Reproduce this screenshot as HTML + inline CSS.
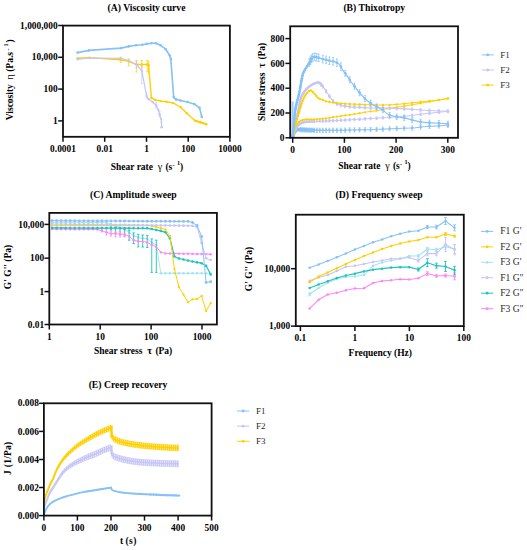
<!DOCTYPE html>
<html><head><meta charset="utf-8"><style>
html,body{margin:0;padding:0;background:#fff;width:527px;height:550px;overflow:hidden}
svg{display:block;font-family:"Liberation Serif",serif}
</style></head><body>
<svg width="527" height="550" viewBox="0 0 527 550">
<rect width="527" height="550" fill="#fff"/>
<text x="146.5" y="10.6" font-size="9.7" text-anchor="middle" font-weight="bold" fill="#000" >(A) Viscosity curve</text>
<line x1="120.7" y1="57.2" x2="120.7" y2="62.3" stroke="#ffcf00" stroke-width="0.75" stroke-linecap="butt"/>
<line x1="119.6" y1="57.2" x2="121.8" y2="57.2" stroke="#ffcf00" stroke-width="0.75" stroke-linecap="butt"/>
<line x1="119.6" y1="62.3" x2="121.8" y2="62.3" stroke="#ffcf00" stroke-width="0.75" stroke-linecap="butt"/>
<line x1="128.7" y1="58.9" x2="128.7" y2="65.8" stroke="#ffcf00" stroke-width="0.75" stroke-linecap="butt"/>
<line x1="127.6" y1="58.9" x2="129.8" y2="58.9" stroke="#ffcf00" stroke-width="0.75" stroke-linecap="butt"/>
<line x1="127.6" y1="65.8" x2="129.8" y2="65.8" stroke="#ffcf00" stroke-width="0.75" stroke-linecap="butt"/>
<line x1="136.4" y1="60.5" x2="136.4" y2="72" stroke="#ffcf00" stroke-width="0.75" stroke-linecap="butt"/>
<line x1="135.3" y1="60.5" x2="137.5" y2="60.5" stroke="#ffcf00" stroke-width="0.75" stroke-linecap="butt"/>
<line x1="135.3" y1="72" x2="137.5" y2="72" stroke="#ffcf00" stroke-width="0.75" stroke-linecap="butt"/>
<line x1="141.8" y1="60.5" x2="141.8" y2="68" stroke="#ffcf00" stroke-width="0.75" stroke-linecap="butt"/>
<line x1="140.7" y1="60.5" x2="142.9" y2="60.5" stroke="#ffcf00" stroke-width="0.75" stroke-linecap="butt"/>
<line x1="140.7" y1="68" x2="142.9" y2="68" stroke="#ffcf00" stroke-width="0.75" stroke-linecap="butt"/>
<line x1="147.3" y1="60.5" x2="147.3" y2="71.4" stroke="#ffcf00" stroke-width="0.75" stroke-linecap="butt"/>
<line x1="146.2" y1="60.5" x2="148.4" y2="60.5" stroke="#ffcf00" stroke-width="0.75" stroke-linecap="butt"/>
<line x1="146.2" y1="71.4" x2="148.4" y2="71.4" stroke="#ffcf00" stroke-width="0.75" stroke-linecap="butt"/>
<line x1="148.6" y1="61.8" x2="148.6" y2="73.4" stroke="#ffcf00" stroke-width="0.75" stroke-linecap="butt"/>
<line x1="147.5" y1="61.8" x2="149.7" y2="61.8" stroke="#ffcf00" stroke-width="0.75" stroke-linecap="butt"/>
<line x1="147.5" y1="73.4" x2="149.7" y2="73.4" stroke="#ffcf00" stroke-width="0.75" stroke-linecap="butt"/>
<polyline points="77.6,58.3 89.4,57.6 120.7,59.8 128.7,61.4 136.4,64.5 141.8,64.5 147.3,64.5 148.6,65.2 151.4,98 155.5,100 160.9,101.1 166.4,101.7 173,102.9 180.5,107 186.6,113.1 195,120.7 200.3,122.2 206.3,124.2" fill="none" stroke="#ffcf00" stroke-width="1.4" stroke-linejoin="round" />
<circle cx="77.6" cy="58.3" r="1.2" fill="#ffcf00"/>
<circle cx="89.4" cy="57.6" r="1.2" fill="#ffcf00"/>
<circle cx="120.7" cy="59.8" r="1.2" fill="#ffcf00"/>
<circle cx="128.7" cy="61.4" r="1.2" fill="#ffcf00"/>
<circle cx="136.4" cy="64.5" r="1.2" fill="#ffcf00"/>
<circle cx="141.8" cy="64.5" r="1.2" fill="#ffcf00"/>
<circle cx="147.3" cy="64.5" r="1.2" fill="#ffcf00"/>
<circle cx="148.6" cy="65.2" r="1.2" fill="#ffcf00"/>
<circle cx="151.4" cy="98" r="1.2" fill="#ffcf00"/>
<circle cx="155.5" cy="100" r="1.2" fill="#ffcf00"/>
<circle cx="160.9" cy="101.1" r="1.2" fill="#ffcf00"/>
<circle cx="166.4" cy="101.7" r="1.2" fill="#ffcf00"/>
<circle cx="173" cy="102.9" r="1.2" fill="#ffcf00"/>
<circle cx="180.5" cy="107" r="1.2" fill="#ffcf00"/>
<circle cx="186.6" cy="113.1" r="1.2" fill="#ffcf00"/>
<circle cx="195" cy="120.7" r="1.2" fill="#ffcf00"/>
<circle cx="200.3" cy="122.2" r="1.2" fill="#ffcf00"/>
<circle cx="206.3" cy="124.2" r="1.2" fill="#ffcf00"/>
<polyline points="195,120.7 200.3,122.2 206.3,124.2" fill="none" stroke="#ffcf00" stroke-width="2.2" stroke-linejoin="round" />
<polyline points="77.6,59.3 89.4,58 120.7,58.3 128.7,60.6 136.4,64.5 141.8,70.7 146.6,95.9 148.6,99.3 152.7,102 156.1,105.5 158.2,109.6 159.6,114.3 161.2,119.1 161.6,127.3" fill="none" stroke="#c6c5f7" stroke-width="1.2" stroke-linejoin="round" />
<circle cx="77.6" cy="59.3" r="1.2" fill="#c6c5f7"/>
<circle cx="89.4" cy="58" r="1.2" fill="#c6c5f7"/>
<circle cx="120.7" cy="58.3" r="1.2" fill="#c6c5f7"/>
<circle cx="128.7" cy="60.6" r="1.2" fill="#c6c5f7"/>
<circle cx="136.4" cy="64.5" r="1.2" fill="#c6c5f7"/>
<circle cx="141.8" cy="70.7" r="1.2" fill="#c6c5f7"/>
<circle cx="146.6" cy="95.9" r="1.2" fill="#c6c5f7"/>
<circle cx="148.6" cy="99.3" r="1.2" fill="#c6c5f7"/>
<circle cx="152.7" cy="102" r="1.2" fill="#c6c5f7"/>
<circle cx="156.1" cy="105.5" r="1.2" fill="#c6c5f7"/>
<circle cx="158.2" cy="109.6" r="1.2" fill="#c6c5f7"/>
<circle cx="159.6" cy="114.3" r="1.2" fill="#c6c5f7"/>
<circle cx="161.2" cy="119.1" r="1.2" fill="#c6c5f7"/>
<circle cx="161.6" cy="127.3" r="1.2" fill="#c6c5f7"/>
<line x1="136.4" y1="61" x2="136.4" y2="68" stroke="#c6c5f7" stroke-width="0.75" stroke-linecap="butt"/>
<line x1="135.4" y1="61" x2="137.4" y2="61" stroke="#c6c5f7" stroke-width="0.75" stroke-linecap="butt"/>
<line x1="135.4" y1="68" x2="137.4" y2="68" stroke="#c6c5f7" stroke-width="0.75" stroke-linecap="butt"/>
<line x1="141.8" y1="66" x2="141.8" y2="83.6" stroke="#c6c5f7" stroke-width="0.75" stroke-linecap="butt"/>
<line x1="140.8" y1="66" x2="142.8" y2="66" stroke="#c6c5f7" stroke-width="0.75" stroke-linecap="butt"/>
<line x1="140.8" y1="83.6" x2="142.8" y2="83.6" stroke="#c6c5f7" stroke-width="0.75" stroke-linecap="butt"/>
<line x1="146.6" y1="93" x2="146.6" y2="98" stroke="#c6c5f7" stroke-width="0.75" stroke-linecap="butt"/>
<line x1="145.6" y1="93" x2="147.6" y2="93" stroke="#c6c5f7" stroke-width="0.75" stroke-linecap="butt"/>
<line x1="145.6" y1="98" x2="147.6" y2="98" stroke="#c6c5f7" stroke-width="0.75" stroke-linecap="butt"/>
<line x1="156.1" y1="103" x2="156.1" y2="108" stroke="#c6c5f7" stroke-width="0.75" stroke-linecap="butt"/>
<line x1="155.1" y1="103" x2="157.1" y2="103" stroke="#c6c5f7" stroke-width="0.75" stroke-linecap="butt"/>
<line x1="155.1" y1="108" x2="157.1" y2="108" stroke="#c6c5f7" stroke-width="0.75" stroke-linecap="butt"/>
<line x1="159.6" y1="111" x2="159.6" y2="117" stroke="#c6c5f7" stroke-width="0.75" stroke-linecap="butt"/>
<line x1="158.6" y1="111" x2="160.6" y2="111" stroke="#c6c5f7" stroke-width="0.75" stroke-linecap="butt"/>
<line x1="158.6" y1="117" x2="160.6" y2="117" stroke="#c6c5f7" stroke-width="0.75" stroke-linecap="butt"/>
<line x1="161.6" y1="122" x2="161.6" y2="127.3" stroke="#c6c5f7" stroke-width="0.75" stroke-linecap="butt"/>
<line x1="160.6" y1="122" x2="162.6" y2="122" stroke="#c6c5f7" stroke-width="0.75" stroke-linecap="butt"/>
<line x1="160.6" y1="127.3" x2="162.6" y2="127.3" stroke="#c6c5f7" stroke-width="0.75" stroke-linecap="butt"/>
<polyline points="77.6,52.6 89,50.4 121.1,48.1 128.7,46.4 136.1,45.3 142.3,44.7 146.9,43.9 151.4,43.2 156,43.2 160.6,45.3 165.7,49.2 169.7,55.5 170.8,58.9 173.7,97.1 176,99.4 180.5,100.5 187.4,102 194.2,104 199.5,107.8 201.8,116.9" fill="none" stroke="#85c2f7" stroke-width="1.6" stroke-linejoin="round" />
<circle cx="77.6" cy="52.6" r="1.3" fill="#85c2f7"/>
<circle cx="89" cy="50.4" r="1.3" fill="#85c2f7"/>
<circle cx="121.1" cy="48.1" r="1.3" fill="#85c2f7"/>
<circle cx="128.7" cy="46.4" r="1.3" fill="#85c2f7"/>
<circle cx="136.1" cy="45.3" r="1.3" fill="#85c2f7"/>
<circle cx="142.3" cy="44.7" r="1.3" fill="#85c2f7"/>
<circle cx="146.9" cy="43.9" r="1.3" fill="#85c2f7"/>
<circle cx="151.4" cy="43.2" r="1.3" fill="#85c2f7"/>
<circle cx="156" cy="43.2" r="1.3" fill="#85c2f7"/>
<circle cx="160.6" cy="45.3" r="1.3" fill="#85c2f7"/>
<circle cx="165.7" cy="49.2" r="1.3" fill="#85c2f7"/>
<circle cx="169.7" cy="55.5" r="1.3" fill="#85c2f7"/>
<circle cx="170.8" cy="58.9" r="1.3" fill="#85c2f7"/>
<circle cx="173.7" cy="97.1" r="1.3" fill="#85c2f7"/>
<circle cx="176" cy="99.4" r="1.3" fill="#85c2f7"/>
<circle cx="180.5" cy="100.5" r="1.3" fill="#85c2f7"/>
<circle cx="187.4" cy="102" r="1.3" fill="#85c2f7"/>
<circle cx="194.2" cy="104" r="1.3" fill="#85c2f7"/>
<circle cx="199.5" cy="107.8" r="1.3" fill="#85c2f7"/>
<circle cx="201.8" cy="116.9" r="1.3" fill="#85c2f7"/>
<rect x="63" y="25.6" width="166.9" height="111.2" fill="none" stroke="#111" stroke-width="1.8"/>
<line x1="58.2" y1="25.5" x2="63" y2="25.5" stroke="#111" stroke-width="1.5" stroke-linecap="butt"/>
<text x="57.6" y="28.6" font-size="9.4" text-anchor="end" font-weight="bold" fill="#000" >1,000,000</text>
<line x1="58.2" y1="57.3" x2="63" y2="57.3" stroke="#111" stroke-width="1.5" stroke-linecap="butt"/>
<text x="57.6" y="60.4" font-size="9.4" text-anchor="end" font-weight="bold" fill="#000" >10,000</text>
<line x1="58.2" y1="89.1" x2="63" y2="89.1" stroke="#111" stroke-width="1.5" stroke-linecap="butt"/>
<text x="57.6" y="92.2" font-size="9.4" text-anchor="end" font-weight="bold" fill="#000" >100</text>
<line x1="58.2" y1="120.9" x2="63" y2="120.9" stroke="#111" stroke-width="1.5" stroke-linecap="butt"/>
<text x="57.6" y="124" font-size="9.4" text-anchor="end" font-weight="bold" fill="#000" >1</text>
<line x1="63" y1="136.8" x2="63" y2="141.8" stroke="#111" stroke-width="1.5" stroke-linecap="butt"/>
<text x="63" y="151.8" font-size="9.4" text-anchor="middle" font-weight="bold" fill="#000" >0.0001</text>
<line x1="104.7" y1="136.8" x2="104.7" y2="141.8" stroke="#111" stroke-width="1.5" stroke-linecap="butt"/>
<text x="104.7" y="151.8" font-size="9.4" text-anchor="middle" font-weight="bold" fill="#000" >0.01</text>
<line x1="146.5" y1="136.8" x2="146.5" y2="141.8" stroke="#111" stroke-width="1.5" stroke-linecap="butt"/>
<text x="146.5" y="151.8" font-size="9.4" text-anchor="middle" font-weight="bold" fill="#000" >1</text>
<line x1="188.2" y1="136.8" x2="188.2" y2="141.8" stroke="#111" stroke-width="1.5" stroke-linecap="butt"/>
<text x="188.2" y="151.8" font-size="9.4" text-anchor="middle" font-weight="bold" fill="#000" >100</text>
<line x1="229.9" y1="136.8" x2="229.9" y2="141.8" stroke="#111" stroke-width="1.5" stroke-linecap="butt"/>
<text x="229.9" y="151.8" font-size="9.4" text-anchor="middle" font-weight="bold" fill="#000" >10000</text>
<g transform="translate(110.7,169.5)"><text x="0" y="0" font-size="9.5" font-weight="bold">Shear rate</text><text x="47" y="0" font-size="10.1" font-weight="normal">γ</text><text x="54.7" y="0" font-size="9.5" font-weight="bold">(s</text><text x="61.8" y="-2.6" font-size="6.2" font-weight="bold">-</text><text x="66.2" y="-4.6" font-size="6.2" font-weight="bold">1</text><text x="69.4" y="0" font-size="9.5" font-weight="bold">)</text></g>
<g transform="translate(12.6,120.2) rotate(-90)"><text x="0" y="0" font-size="9.5" font-weight="bold">Viscosity</text><text x="40.6" y="0" font-size="10.1" font-weight="normal">η</text><text x="48.4" y="0" font-size="9.5" font-weight="bold">(Pa.s</text><text x="69.6" y="-2.6" font-size="6.2" font-weight="bold">-</text><text x="73.6" y="-4.6" font-size="6.2" font-weight="bold">1</text><text x="77.6" y="0" font-size="9.5" font-weight="bold">)</text></g>
<text x="374.3" y="10.6" font-size="9.7" text-anchor="middle" font-weight="bold" fill="#000" >(B) Thixotropy</text>
<path d="M292.7,137.5 C292.87,136.83 293.23,134.58 293.7,133.5 C294.17,132.42 294.82,131.65 295.5,131 C296.18,130.35 296.72,129.8 297.8,129.6 C298.88,129.4 299.13,129.68 302,129.8 C304.87,129.92 309.35,130.22 315,130.3 C320.65,130.38 328.93,130.37 335.9,130.3 C342.87,130.23 351.23,130 356.8,129.9 C362.37,129.8 364.03,129.87 369.3,129.7 C374.57,129.53 382.35,129.15 388.4,128.9 C394.45,128.65 401.23,128.37 405.6,128.2 C409.97,128.03 411.45,128.17 414.6,127.9 C417.75,127.63 420.9,126.9 424.5,126.6 C428.1,126.3 432.3,126.33 436.2,126.1 C440.1,125.87 445.95,125.35 447.9,125.2" fill="none" stroke="#85c2f7" stroke-width="1.0" stroke-linejoin="round" />
<path d="M292.7,137.5 C292.87,136.83 293.23,134.58 293.7,133.5 C294.17,132.42 294.82,131.65 295.5,131 C296.18,130.35 296.72,129.8 297.8,129.6 C298.88,129.4 299.13,129.68 302,129.8 C304.87,129.92 312.83,130.22 315,130.3" fill="none" stroke="#85c2f7" stroke-width="3.6" stroke-linejoin="round" />
<line x1="300.7" y1="127.58" x2="300.7" y2="131.78" stroke="#85c2f7" stroke-width="0.75" stroke-linecap="butt"/>
<line x1="299.7" y1="127.58" x2="301.7" y2="127.58" stroke="#85c2f7" stroke-width="0.75" stroke-linecap="butt"/>
<line x1="299.7" y1="131.78" x2="301.7" y2="131.78" stroke="#85c2f7" stroke-width="0.75" stroke-linecap="butt"/>
<line x1="302.64" y1="127.73" x2="302.64" y2="131.93" stroke="#85c2f7" stroke-width="0.75" stroke-linecap="butt"/>
<line x1="301.64" y1="127.73" x2="303.64" y2="127.73" stroke="#85c2f7" stroke-width="0.75" stroke-linecap="butt"/>
<line x1="301.64" y1="131.93" x2="303.64" y2="131.93" stroke="#85c2f7" stroke-width="0.75" stroke-linecap="butt"/>
<line x1="304.69" y1="127.82" x2="304.69" y2="132.02" stroke="#85c2f7" stroke-width="0.75" stroke-linecap="butt"/>
<line x1="303.69" y1="127.82" x2="305.69" y2="127.82" stroke="#85c2f7" stroke-width="0.75" stroke-linecap="butt"/>
<line x1="303.69" y1="132.02" x2="305.69" y2="132.02" stroke="#85c2f7" stroke-width="0.75" stroke-linecap="butt"/>
<line x1="306.87" y1="127.92" x2="306.87" y2="132.12" stroke="#85c2f7" stroke-width="0.75" stroke-linecap="butt"/>
<line x1="305.87" y1="127.92" x2="307.87" y2="127.92" stroke="#85c2f7" stroke-width="0.75" stroke-linecap="butt"/>
<line x1="305.87" y1="132.12" x2="307.87" y2="132.12" stroke="#85c2f7" stroke-width="0.75" stroke-linecap="butt"/>
<line x1="309.16" y1="128.02" x2="309.16" y2="132.22" stroke="#85c2f7" stroke-width="0.75" stroke-linecap="butt"/>
<line x1="308.16" y1="128.02" x2="310.16" y2="128.02" stroke="#85c2f7" stroke-width="0.75" stroke-linecap="butt"/>
<line x1="308.16" y1="132.22" x2="310.16" y2="132.22" stroke="#85c2f7" stroke-width="0.75" stroke-linecap="butt"/>
<line x1="311.6" y1="128.11" x2="311.6" y2="132.31" stroke="#85c2f7" stroke-width="0.75" stroke-linecap="butt"/>
<line x1="310.6" y1="128.11" x2="312.6" y2="128.11" stroke="#85c2f7" stroke-width="0.75" stroke-linecap="butt"/>
<line x1="310.6" y1="132.31" x2="312.6" y2="132.31" stroke="#85c2f7" stroke-width="0.75" stroke-linecap="butt"/>
<line x1="314.17" y1="128.19" x2="314.17" y2="132.39" stroke="#85c2f7" stroke-width="0.75" stroke-linecap="butt"/>
<line x1="313.17" y1="128.19" x2="315.17" y2="128.19" stroke="#85c2f7" stroke-width="0.75" stroke-linecap="butt"/>
<line x1="313.17" y1="132.39" x2="315.17" y2="132.39" stroke="#85c2f7" stroke-width="0.75" stroke-linecap="butt"/>
<line x1="316.89" y1="128.22" x2="316.89" y2="132.42" stroke="#85c2f7" stroke-width="0.75" stroke-linecap="butt"/>
<line x1="315.89" y1="128.22" x2="317.89" y2="128.22" stroke="#85c2f7" stroke-width="0.75" stroke-linecap="butt"/>
<line x1="315.89" y1="132.42" x2="317.89" y2="132.42" stroke="#85c2f7" stroke-width="0.75" stroke-linecap="butt"/>
<line x1="319.77" y1="128.25" x2="319.77" y2="132.45" stroke="#85c2f7" stroke-width="0.75" stroke-linecap="butt"/>
<line x1="318.77" y1="128.25" x2="320.77" y2="128.25" stroke="#85c2f7" stroke-width="0.75" stroke-linecap="butt"/>
<line x1="318.77" y1="132.45" x2="320.77" y2="132.45" stroke="#85c2f7" stroke-width="0.75" stroke-linecap="butt"/>
<line x1="322.82" y1="128.26" x2="322.82" y2="132.46" stroke="#85c2f7" stroke-width="0.75" stroke-linecap="butt"/>
<line x1="321.82" y1="128.26" x2="323.82" y2="128.26" stroke="#85c2f7" stroke-width="0.75" stroke-linecap="butt"/>
<line x1="321.82" y1="132.46" x2="323.82" y2="132.46" stroke="#85c2f7" stroke-width="0.75" stroke-linecap="butt"/>
<line x1="326.04" y1="128.26" x2="326.04" y2="132.46" stroke="#85c2f7" stroke-width="0.75" stroke-linecap="butt"/>
<line x1="325.04" y1="128.26" x2="327.04" y2="128.26" stroke="#85c2f7" stroke-width="0.75" stroke-linecap="butt"/>
<line x1="325.04" y1="132.46" x2="327.04" y2="132.46" stroke="#85c2f7" stroke-width="0.75" stroke-linecap="butt"/>
<line x1="329.45" y1="128.25" x2="329.45" y2="132.45" stroke="#85c2f7" stroke-width="0.75" stroke-linecap="butt"/>
<line x1="328.45" y1="128.25" x2="330.45" y2="128.25" stroke="#85c2f7" stroke-width="0.75" stroke-linecap="butt"/>
<line x1="328.45" y1="132.45" x2="330.45" y2="132.45" stroke="#85c2f7" stroke-width="0.75" stroke-linecap="butt"/>
<line x1="333.06" y1="128.23" x2="333.06" y2="132.43" stroke="#85c2f7" stroke-width="0.75" stroke-linecap="butt"/>
<line x1="332.06" y1="128.23" x2="334.06" y2="128.23" stroke="#85c2f7" stroke-width="0.75" stroke-linecap="butt"/>
<line x1="332.06" y1="132.43" x2="334.06" y2="132.43" stroke="#85c2f7" stroke-width="0.75" stroke-linecap="butt"/>
<line x1="336.88" y1="128.19" x2="336.88" y2="132.39" stroke="#85c2f7" stroke-width="0.75" stroke-linecap="butt"/>
<line x1="335.88" y1="128.19" x2="337.88" y2="128.19" stroke="#85c2f7" stroke-width="0.75" stroke-linecap="butt"/>
<line x1="335.88" y1="132.39" x2="337.88" y2="132.39" stroke="#85c2f7" stroke-width="0.75" stroke-linecap="butt"/>
<line x1="340.91" y1="128.13" x2="340.91" y2="132.33" stroke="#85c2f7" stroke-width="0.75" stroke-linecap="butt"/>
<line x1="339.91" y1="128.13" x2="341.91" y2="128.13" stroke="#85c2f7" stroke-width="0.75" stroke-linecap="butt"/>
<line x1="339.91" y1="132.33" x2="341.91" y2="132.33" stroke="#85c2f7" stroke-width="0.75" stroke-linecap="butt"/>
<line x1="345.19" y1="128.05" x2="345.19" y2="132.25" stroke="#85c2f7" stroke-width="0.75" stroke-linecap="butt"/>
<line x1="344.19" y1="128.05" x2="346.19" y2="128.05" stroke="#85c2f7" stroke-width="0.75" stroke-linecap="butt"/>
<line x1="344.19" y1="132.25" x2="346.19" y2="132.25" stroke="#85c2f7" stroke-width="0.75" stroke-linecap="butt"/>
<line x1="349.71" y1="127.95" x2="349.71" y2="132.15" stroke="#85c2f7" stroke-width="0.75" stroke-linecap="butt"/>
<line x1="348.71" y1="127.95" x2="350.71" y2="127.95" stroke="#85c2f7" stroke-width="0.75" stroke-linecap="butt"/>
<line x1="348.71" y1="132.15" x2="350.71" y2="132.15" stroke="#85c2f7" stroke-width="0.75" stroke-linecap="butt"/>
<line x1="354.49" y1="127.84" x2="354.49" y2="132.04" stroke="#85c2f7" stroke-width="0.75" stroke-linecap="butt"/>
<line x1="353.49" y1="127.84" x2="355.49" y2="127.84" stroke="#85c2f7" stroke-width="0.75" stroke-linecap="butt"/>
<line x1="353.49" y1="132.04" x2="355.49" y2="132.04" stroke="#85c2f7" stroke-width="0.75" stroke-linecap="butt"/>
<line x1="359.55" y1="127.76" x2="359.55" y2="131.96" stroke="#85c2f7" stroke-width="0.75" stroke-linecap="butt"/>
<line x1="358.55" y1="127.76" x2="360.55" y2="127.76" stroke="#85c2f7" stroke-width="0.75" stroke-linecap="butt"/>
<line x1="358.55" y1="131.96" x2="360.55" y2="131.96" stroke="#85c2f7" stroke-width="0.75" stroke-linecap="butt"/>
<line x1="364.91" y1="127.7" x2="364.91" y2="131.9" stroke="#85c2f7" stroke-width="0.75" stroke-linecap="butt"/>
<line x1="363.91" y1="127.7" x2="365.91" y2="127.7" stroke="#85c2f7" stroke-width="0.75" stroke-linecap="butt"/>
<line x1="363.91" y1="131.9" x2="365.91" y2="131.9" stroke="#85c2f7" stroke-width="0.75" stroke-linecap="butt"/>
<line x1="370.57" y1="127.56" x2="370.57" y2="131.76" stroke="#85c2f7" stroke-width="0.75" stroke-linecap="butt"/>
<line x1="369.57" y1="127.56" x2="371.57" y2="127.56" stroke="#85c2f7" stroke-width="0.75" stroke-linecap="butt"/>
<line x1="369.57" y1="131.76" x2="371.57" y2="131.76" stroke="#85c2f7" stroke-width="0.75" stroke-linecap="butt"/>
<line x1="376.56" y1="127.32" x2="376.56" y2="131.52" stroke="#85c2f7" stroke-width="0.75" stroke-linecap="butt"/>
<line x1="375.56" y1="127.32" x2="377.56" y2="127.32" stroke="#85c2f7" stroke-width="0.75" stroke-linecap="butt"/>
<line x1="375.56" y1="131.52" x2="377.56" y2="131.52" stroke="#85c2f7" stroke-width="0.75" stroke-linecap="butt"/>
<line x1="382.9" y1="127.04" x2="382.9" y2="131.24" stroke="#85c2f7" stroke-width="0.75" stroke-linecap="butt"/>
<line x1="381.9" y1="127.04" x2="383.9" y2="127.04" stroke="#85c2f7" stroke-width="0.75" stroke-linecap="butt"/>
<line x1="381.9" y1="131.24" x2="383.9" y2="131.24" stroke="#85c2f7" stroke-width="0.75" stroke-linecap="butt"/>
<line x1="389.61" y1="126.75" x2="389.61" y2="130.95" stroke="#85c2f7" stroke-width="0.75" stroke-linecap="butt"/>
<line x1="388.61" y1="126.75" x2="390.61" y2="126.75" stroke="#85c2f7" stroke-width="0.75" stroke-linecap="butt"/>
<line x1="388.61" y1="130.95" x2="390.61" y2="130.95" stroke="#85c2f7" stroke-width="0.75" stroke-linecap="butt"/>
<line x1="396.71" y1="126.46" x2="396.71" y2="130.66" stroke="#85c2f7" stroke-width="0.75" stroke-linecap="butt"/>
<line x1="395.71" y1="126.46" x2="397.71" y2="126.46" stroke="#85c2f7" stroke-width="0.75" stroke-linecap="butt"/>
<line x1="395.71" y1="130.66" x2="397.71" y2="130.66" stroke="#85c2f7" stroke-width="0.75" stroke-linecap="butt"/>
<line x1="404.22" y1="126.15" x2="404.22" y2="130.35" stroke="#85c2f7" stroke-width="0.75" stroke-linecap="butt"/>
<line x1="403.22" y1="126.15" x2="405.22" y2="126.15" stroke="#85c2f7" stroke-width="0.75" stroke-linecap="butt"/>
<line x1="403.22" y1="130.35" x2="405.22" y2="130.35" stroke="#85c2f7" stroke-width="0.75" stroke-linecap="butt"/>
<line x1="412.16" y1="125.95" x2="412.16" y2="130.15" stroke="#85c2f7" stroke-width="0.75" stroke-linecap="butt"/>
<line x1="411.16" y1="125.95" x2="413.16" y2="125.95" stroke="#85c2f7" stroke-width="0.75" stroke-linecap="butt"/>
<line x1="411.16" y1="130.15" x2="413.16" y2="130.15" stroke="#85c2f7" stroke-width="0.75" stroke-linecap="butt"/>
<line x1="420.57" y1="124.99" x2="420.57" y2="129.19" stroke="#85c2f7" stroke-width="0.75" stroke-linecap="butt"/>
<line x1="419.57" y1="124.99" x2="421.57" y2="124.99" stroke="#85c2f7" stroke-width="0.75" stroke-linecap="butt"/>
<line x1="419.57" y1="129.19" x2="421.57" y2="129.19" stroke="#85c2f7" stroke-width="0.75" stroke-linecap="butt"/>
<line x1="429.46" y1="124.24" x2="429.46" y2="128.44" stroke="#85c2f7" stroke-width="0.75" stroke-linecap="butt"/>
<line x1="428.46" y1="124.24" x2="430.46" y2="124.24" stroke="#85c2f7" stroke-width="0.75" stroke-linecap="butt"/>
<line x1="428.46" y1="128.44" x2="430.46" y2="128.44" stroke="#85c2f7" stroke-width="0.75" stroke-linecap="butt"/>
<line x1="438.87" y1="123.82" x2="438.87" y2="128.02" stroke="#85c2f7" stroke-width="0.75" stroke-linecap="butt"/>
<line x1="437.87" y1="123.82" x2="439.87" y2="123.82" stroke="#85c2f7" stroke-width="0.75" stroke-linecap="butt"/>
<line x1="437.87" y1="128.02" x2="439.87" y2="128.02" stroke="#85c2f7" stroke-width="0.75" stroke-linecap="butt"/>
<line x1="447.9" y1="123.1" x2="447.9" y2="127.3" stroke="#85c2f7" stroke-width="0.75" stroke-linecap="butt"/>
<line x1="446.9" y1="123.1" x2="448.9" y2="123.1" stroke="#85c2f7" stroke-width="0.75" stroke-linecap="butt"/>
<line x1="446.9" y1="127.3" x2="448.9" y2="127.3" stroke="#85c2f7" stroke-width="0.75" stroke-linecap="butt"/>
<circle cx="295" cy="131.49" r="1.25" fill="#85c2f7"/>
<circle cx="296.9" cy="129.93" r="1.25" fill="#85c2f7"/>
<circle cx="298.8" cy="129.51" r="1.25" fill="#85c2f7"/>
<circle cx="300.7" cy="129.68" r="1.25" fill="#85c2f7"/>
<circle cx="302.64" cy="129.83" r="1.25" fill="#85c2f7"/>
<circle cx="304.69" cy="129.92" r="1.25" fill="#85c2f7"/>
<circle cx="306.87" cy="130.02" r="1.25" fill="#85c2f7"/>
<circle cx="309.16" cy="130.12" r="1.25" fill="#85c2f7"/>
<circle cx="311.6" cy="130.21" r="1.25" fill="#85c2f7"/>
<circle cx="314.17" cy="130.29" r="1.25" fill="#85c2f7"/>
<circle cx="316.89" cy="130.32" r="1.25" fill="#85c2f7"/>
<circle cx="319.77" cy="130.35" r="1.25" fill="#85c2f7"/>
<circle cx="322.82" cy="130.36" r="1.25" fill="#85c2f7"/>
<circle cx="326.04" cy="130.36" r="1.25" fill="#85c2f7"/>
<circle cx="329.45" cy="130.35" r="1.25" fill="#85c2f7"/>
<circle cx="333.06" cy="130.33" r="1.25" fill="#85c2f7"/>
<circle cx="336.88" cy="130.29" r="1.25" fill="#85c2f7"/>
<circle cx="340.91" cy="130.23" r="1.25" fill="#85c2f7"/>
<circle cx="345.19" cy="130.15" r="1.25" fill="#85c2f7"/>
<circle cx="349.71" cy="130.05" r="1.25" fill="#85c2f7"/>
<circle cx="354.49" cy="129.94" r="1.25" fill="#85c2f7"/>
<circle cx="359.55" cy="129.86" r="1.25" fill="#85c2f7"/>
<circle cx="364.91" cy="129.8" r="1.25" fill="#85c2f7"/>
<circle cx="370.57" cy="129.66" r="1.25" fill="#85c2f7"/>
<circle cx="376.56" cy="129.42" r="1.25" fill="#85c2f7"/>
<circle cx="382.9" cy="129.14" r="1.25" fill="#85c2f7"/>
<circle cx="389.61" cy="128.85" r="1.25" fill="#85c2f7"/>
<circle cx="396.71" cy="128.56" r="1.25" fill="#85c2f7"/>
<circle cx="404.22" cy="128.25" r="1.25" fill="#85c2f7"/>
<circle cx="412.16" cy="128.05" r="1.25" fill="#85c2f7"/>
<circle cx="420.57" cy="127.09" r="1.25" fill="#85c2f7"/>
<circle cx="429.46" cy="126.34" r="1.25" fill="#85c2f7"/>
<circle cx="438.87" cy="125.92" r="1.25" fill="#85c2f7"/>
<circle cx="447.9" cy="125.2" r="1.25" fill="#85c2f7"/>
<path d="M292.7,137.5 C293.15,136.15 294.35,131.57 295.4,129.4 C296.45,127.23 297.5,125.73 299,124.5 C300.5,123.27 301.73,122.5 304.4,122 C307.07,121.5 311.5,121.67 315,121.5 C318.5,121.33 321.92,121.17 325.4,121 C328.88,120.83 332.42,120.67 335.9,120.5 C339.38,120.33 342.82,120.18 346.3,120 C349.78,119.82 352.97,119.63 356.8,119.4 C360.63,119.17 365.23,118.85 369.3,118.6 C373.37,118.35 375.15,118.32 381.2,117.9 C387.25,117.48 398.38,116.78 405.6,116.1 C412.82,115.42 417.45,114.6 424.5,113.8 C431.55,113 444,111.72 447.9,111.3" fill="none" stroke="#c6c5f7" stroke-width="1.0" stroke-linejoin="round" />
<path d="M292.7,137.5 C293.15,136.15 294.35,131.57 295.4,129.4 C296.45,127.23 297.5,125.73 299,124.5 C300.5,123.27 301.73,122.5 304.4,122 C307.07,121.5 313.23,121.58 315,121.5" fill="none" stroke="#c6c5f7" stroke-width="2.4" stroke-linejoin="round" />
<line x1="322.82" y1="119.82" x2="322.82" y2="122.42" stroke="#c6c5f7" stroke-width="0.75" stroke-linecap="butt"/>
<line x1="321.82" y1="119.82" x2="323.82" y2="119.82" stroke="#c6c5f7" stroke-width="0.75" stroke-linecap="butt"/>
<line x1="321.82" y1="122.42" x2="323.82" y2="122.42" stroke="#c6c5f7" stroke-width="0.75" stroke-linecap="butt"/>
<line x1="326.04" y1="119.67" x2="326.04" y2="122.27" stroke="#c6c5f7" stroke-width="0.75" stroke-linecap="butt"/>
<line x1="325.04" y1="119.67" x2="327.04" y2="119.67" stroke="#c6c5f7" stroke-width="0.75" stroke-linecap="butt"/>
<line x1="325.04" y1="122.27" x2="327.04" y2="122.27" stroke="#c6c5f7" stroke-width="0.75" stroke-linecap="butt"/>
<line x1="329.45" y1="119.51" x2="329.45" y2="122.11" stroke="#c6c5f7" stroke-width="0.75" stroke-linecap="butt"/>
<line x1="328.45" y1="119.51" x2="330.45" y2="119.51" stroke="#c6c5f7" stroke-width="0.75" stroke-linecap="butt"/>
<line x1="328.45" y1="122.11" x2="330.45" y2="122.11" stroke="#c6c5f7" stroke-width="0.75" stroke-linecap="butt"/>
<line x1="333.06" y1="119.34" x2="333.06" y2="121.94" stroke="#c6c5f7" stroke-width="0.75" stroke-linecap="butt"/>
<line x1="332.06" y1="119.34" x2="334.06" y2="119.34" stroke="#c6c5f7" stroke-width="0.75" stroke-linecap="butt"/>
<line x1="332.06" y1="121.94" x2="334.06" y2="121.94" stroke="#c6c5f7" stroke-width="0.75" stroke-linecap="butt"/>
<line x1="336.88" y1="119.15" x2="336.88" y2="121.75" stroke="#c6c5f7" stroke-width="0.75" stroke-linecap="butt"/>
<line x1="335.88" y1="119.15" x2="337.88" y2="119.15" stroke="#c6c5f7" stroke-width="0.75" stroke-linecap="butt"/>
<line x1="335.88" y1="121.75" x2="337.88" y2="121.75" stroke="#c6c5f7" stroke-width="0.75" stroke-linecap="butt"/>
<line x1="340.91" y1="118.96" x2="340.91" y2="121.56" stroke="#c6c5f7" stroke-width="0.75" stroke-linecap="butt"/>
<line x1="339.91" y1="118.96" x2="341.91" y2="118.96" stroke="#c6c5f7" stroke-width="0.75" stroke-linecap="butt"/>
<line x1="339.91" y1="121.56" x2="341.91" y2="121.56" stroke="#c6c5f7" stroke-width="0.75" stroke-linecap="butt"/>
<line x1="345.19" y1="118.76" x2="345.19" y2="121.36" stroke="#c6c5f7" stroke-width="0.75" stroke-linecap="butt"/>
<line x1="344.19" y1="118.76" x2="346.19" y2="118.76" stroke="#c6c5f7" stroke-width="0.75" stroke-linecap="butt"/>
<line x1="344.19" y1="121.36" x2="346.19" y2="121.36" stroke="#c6c5f7" stroke-width="0.75" stroke-linecap="butt"/>
<line x1="349.71" y1="118.52" x2="349.71" y2="121.12" stroke="#c6c5f7" stroke-width="0.75" stroke-linecap="butt"/>
<line x1="348.71" y1="118.52" x2="350.71" y2="118.52" stroke="#c6c5f7" stroke-width="0.75" stroke-linecap="butt"/>
<line x1="348.71" y1="121.12" x2="350.71" y2="121.12" stroke="#c6c5f7" stroke-width="0.75" stroke-linecap="butt"/>
<line x1="354.49" y1="118.24" x2="354.49" y2="120.84" stroke="#c6c5f7" stroke-width="0.75" stroke-linecap="butt"/>
<line x1="353.49" y1="118.24" x2="355.49" y2="118.24" stroke="#c6c5f7" stroke-width="0.75" stroke-linecap="butt"/>
<line x1="353.49" y1="120.84" x2="355.49" y2="120.84" stroke="#c6c5f7" stroke-width="0.75" stroke-linecap="butt"/>
<line x1="359.55" y1="117.93" x2="359.55" y2="120.53" stroke="#c6c5f7" stroke-width="0.75" stroke-linecap="butt"/>
<line x1="358.55" y1="117.93" x2="360.55" y2="117.93" stroke="#c6c5f7" stroke-width="0.75" stroke-linecap="butt"/>
<line x1="358.55" y1="120.53" x2="360.55" y2="120.53" stroke="#c6c5f7" stroke-width="0.75" stroke-linecap="butt"/>
<line x1="364.91" y1="117.58" x2="364.91" y2="120.18" stroke="#c6c5f7" stroke-width="0.75" stroke-linecap="butt"/>
<line x1="363.91" y1="117.58" x2="365.91" y2="117.58" stroke="#c6c5f7" stroke-width="0.75" stroke-linecap="butt"/>
<line x1="363.91" y1="120.18" x2="365.91" y2="120.18" stroke="#c6c5f7" stroke-width="0.75" stroke-linecap="butt"/>
<line x1="370.57" y1="117.22" x2="370.57" y2="119.82" stroke="#c6c5f7" stroke-width="0.75" stroke-linecap="butt"/>
<line x1="369.57" y1="117.22" x2="371.57" y2="117.22" stroke="#c6c5f7" stroke-width="0.75" stroke-linecap="butt"/>
<line x1="369.57" y1="119.82" x2="371.57" y2="119.82" stroke="#c6c5f7" stroke-width="0.75" stroke-linecap="butt"/>
<line x1="376.56" y1="116.89" x2="376.56" y2="119.49" stroke="#c6c5f7" stroke-width="0.75" stroke-linecap="butt"/>
<line x1="375.56" y1="116.89" x2="377.56" y2="116.89" stroke="#c6c5f7" stroke-width="0.75" stroke-linecap="butt"/>
<line x1="375.56" y1="119.49" x2="377.56" y2="119.49" stroke="#c6c5f7" stroke-width="0.75" stroke-linecap="butt"/>
<line x1="382.9" y1="116.48" x2="382.9" y2="119.08" stroke="#c6c5f7" stroke-width="0.75" stroke-linecap="butt"/>
<line x1="381.9" y1="116.48" x2="383.9" y2="116.48" stroke="#c6c5f7" stroke-width="0.75" stroke-linecap="butt"/>
<line x1="381.9" y1="119.08" x2="383.9" y2="119.08" stroke="#c6c5f7" stroke-width="0.75" stroke-linecap="butt"/>
<line x1="389.61" y1="116.04" x2="389.61" y2="118.64" stroke="#c6c5f7" stroke-width="0.75" stroke-linecap="butt"/>
<line x1="388.61" y1="116.04" x2="390.61" y2="116.04" stroke="#c6c5f7" stroke-width="0.75" stroke-linecap="butt"/>
<line x1="388.61" y1="118.64" x2="390.61" y2="118.64" stroke="#c6c5f7" stroke-width="0.75" stroke-linecap="butt"/>
<line x1="396.71" y1="115.54" x2="396.71" y2="118.14" stroke="#c6c5f7" stroke-width="0.75" stroke-linecap="butt"/>
<line x1="395.71" y1="115.54" x2="397.71" y2="115.54" stroke="#c6c5f7" stroke-width="0.75" stroke-linecap="butt"/>
<line x1="395.71" y1="118.14" x2="397.71" y2="118.14" stroke="#c6c5f7" stroke-width="0.75" stroke-linecap="butt"/>
<line x1="404.22" y1="114.93" x2="404.22" y2="117.53" stroke="#c6c5f7" stroke-width="0.75" stroke-linecap="butt"/>
<line x1="403.22" y1="114.93" x2="405.22" y2="114.93" stroke="#c6c5f7" stroke-width="0.75" stroke-linecap="butt"/>
<line x1="403.22" y1="117.53" x2="405.22" y2="117.53" stroke="#c6c5f7" stroke-width="0.75" stroke-linecap="butt"/>
<line x1="412.16" y1="114.06" x2="412.16" y2="116.66" stroke="#c6c5f7" stroke-width="0.75" stroke-linecap="butt"/>
<line x1="411.16" y1="114.06" x2="413.16" y2="114.06" stroke="#c6c5f7" stroke-width="0.75" stroke-linecap="butt"/>
<line x1="411.16" y1="116.66" x2="413.16" y2="116.66" stroke="#c6c5f7" stroke-width="0.75" stroke-linecap="butt"/>
<line x1="420.57" y1="112.98" x2="420.57" y2="115.58" stroke="#c6c5f7" stroke-width="0.75" stroke-linecap="butt"/>
<line x1="419.57" y1="112.98" x2="421.57" y2="112.98" stroke="#c6c5f7" stroke-width="0.75" stroke-linecap="butt"/>
<line x1="419.57" y1="115.58" x2="421.57" y2="115.58" stroke="#c6c5f7" stroke-width="0.75" stroke-linecap="butt"/>
<line x1="429.46" y1="111.95" x2="429.46" y2="114.55" stroke="#c6c5f7" stroke-width="0.75" stroke-linecap="butt"/>
<line x1="428.46" y1="111.95" x2="430.46" y2="111.95" stroke="#c6c5f7" stroke-width="0.75" stroke-linecap="butt"/>
<line x1="428.46" y1="114.55" x2="430.46" y2="114.55" stroke="#c6c5f7" stroke-width="0.75" stroke-linecap="butt"/>
<line x1="438.87" y1="110.95" x2="438.87" y2="113.55" stroke="#c6c5f7" stroke-width="0.75" stroke-linecap="butt"/>
<line x1="437.87" y1="110.95" x2="439.87" y2="110.95" stroke="#c6c5f7" stroke-width="0.75" stroke-linecap="butt"/>
<line x1="437.87" y1="113.55" x2="439.87" y2="113.55" stroke="#c6c5f7" stroke-width="0.75" stroke-linecap="butt"/>
<line x1="447.9" y1="110" x2="447.9" y2="112.6" stroke="#c6c5f7" stroke-width="0.75" stroke-linecap="butt"/>
<line x1="446.9" y1="110" x2="448.9" y2="110" stroke="#c6c5f7" stroke-width="0.75" stroke-linecap="butt"/>
<line x1="446.9" y1="112.6" x2="448.9" y2="112.6" stroke="#c6c5f7" stroke-width="0.75" stroke-linecap="butt"/>
<circle cx="295" cy="130.33" r="1.2" fill="#c6c5f7"/>
<circle cx="296.9" cy="126.8" r="1.2" fill="#c6c5f7"/>
<circle cx="298.8" cy="124.67" r="1.2" fill="#c6c5f7"/>
<circle cx="300.7" cy="123.33" r="1.2" fill="#c6c5f7"/>
<circle cx="302.64" cy="122.46" r="1.2" fill="#c6c5f7"/>
<circle cx="304.69" cy="121.95" r="1.2" fill="#c6c5f7"/>
<circle cx="306.87" cy="121.68" r="1.2" fill="#c6c5f7"/>
<circle cx="309.16" cy="121.57" r="1.2" fill="#c6c5f7"/>
<circle cx="311.6" cy="121.56" r="1.2" fill="#c6c5f7"/>
<circle cx="314.17" cy="121.53" r="1.2" fill="#c6c5f7"/>
<circle cx="316.89" cy="121.41" r="1.2" fill="#c6c5f7"/>
<circle cx="319.77" cy="121.27" r="1.2" fill="#c6c5f7"/>
<circle cx="322.82" cy="121.12" r="1.2" fill="#c6c5f7"/>
<circle cx="326.04" cy="120.97" r="1.2" fill="#c6c5f7"/>
<circle cx="329.45" cy="120.81" r="1.2" fill="#c6c5f7"/>
<circle cx="333.06" cy="120.64" r="1.2" fill="#c6c5f7"/>
<circle cx="336.88" cy="120.45" r="1.2" fill="#c6c5f7"/>
<circle cx="340.91" cy="120.26" r="1.2" fill="#c6c5f7"/>
<circle cx="345.19" cy="120.06" r="1.2" fill="#c6c5f7"/>
<circle cx="349.71" cy="119.82" r="1.2" fill="#c6c5f7"/>
<circle cx="354.49" cy="119.54" r="1.2" fill="#c6c5f7"/>
<circle cx="359.55" cy="119.23" r="1.2" fill="#c6c5f7"/>
<circle cx="364.91" cy="118.88" r="1.2" fill="#c6c5f7"/>
<circle cx="370.57" cy="118.52" r="1.2" fill="#c6c5f7"/>
<circle cx="376.56" cy="118.19" r="1.2" fill="#c6c5f7"/>
<circle cx="382.9" cy="117.78" r="1.2" fill="#c6c5f7"/>
<circle cx="389.61" cy="117.34" r="1.2" fill="#c6c5f7"/>
<circle cx="396.71" cy="116.84" r="1.2" fill="#c6c5f7"/>
<circle cx="404.22" cy="116.23" r="1.2" fill="#c6c5f7"/>
<circle cx="412.16" cy="115.36" r="1.2" fill="#c6c5f7"/>
<circle cx="420.57" cy="114.28" r="1.2" fill="#c6c5f7"/>
<circle cx="429.46" cy="113.25" r="1.2" fill="#c6c5f7"/>
<circle cx="438.87" cy="112.25" r="1.2" fill="#c6c5f7"/>
<circle cx="447.9" cy="111.3" r="1.2" fill="#c6c5f7"/>
<path d="M292.7,137.5 C293.08,135.87 293.95,130.28 295,127.7 C296.05,125.12 297.43,123.35 299,122 C300.57,120.65 301.73,120.03 304.4,119.6 C307.07,119.17 311.5,119.6 315,119.4 C318.5,119.2 321.92,118.83 325.4,118.4 C328.88,117.97 332.42,117.32 335.9,116.8 C339.38,116.28 342.82,115.82 346.3,115.3 C349.78,114.78 352.97,114.32 356.8,113.7 C360.63,113.08 366.43,112.03 369.3,111.6 C372.17,111.17 370.82,111.6 374,111.1 C377.18,110.6 383.13,109.47 388.4,108.6 C393.67,107.73 399.58,106.9 405.6,105.9 C411.62,104.9 417.45,103.83 424.5,102.6 C431.55,101.37 444,99.18 447.9,98.5" fill="none" stroke="#ffcf00" stroke-width="1.0" stroke-linejoin="round" />
<circle cx="295" cy="127.7" r="1.15" fill="#ffcf00"/>
<circle cx="296.9" cy="124.18" r="1.15" fill="#ffcf00"/>
<circle cx="298.8" cy="122.17" r="1.15" fill="#ffcf00"/>
<circle cx="300.7" cy="120.81" r="1.15" fill="#ffcf00"/>
<circle cx="302.64" cy="120" r="1.15" fill="#ffcf00"/>
<circle cx="304.69" cy="119.55" r="1.15" fill="#ffcf00"/>
<circle cx="306.87" cy="119.36" r="1.15" fill="#ffcf00"/>
<circle cx="309.16" cy="119.35" r="1.15" fill="#ffcf00"/>
<circle cx="311.6" cy="119.42" r="1.15" fill="#ffcf00"/>
<circle cx="314.17" cy="119.43" r="1.15" fill="#ffcf00"/>
<circle cx="316.89" cy="119.28" r="1.15" fill="#ffcf00"/>
<circle cx="319.77" cy="119.03" r="1.15" fill="#ffcf00"/>
<circle cx="322.82" cy="118.71" r="1.15" fill="#ffcf00"/>
<circle cx="326.04" cy="118.32" r="1.15" fill="#ffcf00"/>
<circle cx="329.45" cy="117.82" r="1.15" fill="#ffcf00"/>
<circle cx="333.06" cy="117.24" r="1.15" fill="#ffcf00"/>
<circle cx="336.88" cy="116.66" r="1.15" fill="#ffcf00"/>
<circle cx="340.91" cy="116.08" r="1.15" fill="#ffcf00"/>
<circle cx="345.19" cy="115.46" r="1.15" fill="#ffcf00"/>
<circle cx="349.71" cy="114.79" r="1.15" fill="#ffcf00"/>
<circle cx="354.49" cy="114.07" r="1.15" fill="#ffcf00"/>
<circle cx="359.55" cy="113.24" r="1.15" fill="#ffcf00"/>
<circle cx="364.91" cy="112.31" r="1.15" fill="#ffcf00"/>
<circle cx="370.57" cy="111.45" r="1.15" fill="#ffcf00"/>
<circle cx="376.56" cy="110.68" r="1.15" fill="#ffcf00"/>
<circle cx="382.9" cy="109.56" r="1.15" fill="#ffcf00"/>
<circle cx="389.61" cy="108.4" r="1.15" fill="#ffcf00"/>
<circle cx="396.71" cy="107.3" r="1.15" fill="#ffcf00"/>
<circle cx="404.22" cy="106.13" r="1.15" fill="#ffcf00"/>
<circle cx="412.16" cy="104.78" r="1.15" fill="#ffcf00"/>
<circle cx="420.57" cy="103.29" r="1.15" fill="#ffcf00"/>
<circle cx="429.46" cy="101.73" r="1.15" fill="#ffcf00"/>
<circle cx="438.87" cy="100.08" r="1.15" fill="#ffcf00"/>
<circle cx="447.9" cy="98.5" r="1.15" fill="#ffcf00"/>
<path d="M292.7,137.8 C293.08,135.67 294.03,129.63 295,125 C295.97,120.37 297.63,114 298.5,110 C299.37,106 299.65,103.37 300.2,101 C300.75,98.63 300.8,97.75 301.8,95.8 C302.8,93.85 304.57,91.12 306.2,89.3 C307.83,87.48 310.08,85.92 311.6,84.9 C313.12,83.88 314.15,83.62 315.3,83.2 C316.45,82.78 317.38,82.02 318.5,82.4 C319.62,82.78 320.85,84.2 322,85.5 C323.15,86.8 324.13,88.37 325.4,90.2 C326.67,92.03 328.2,94.58 329.6,96.5 C331,98.42 332.4,100.4 333.8,101.7 C335.2,103 336.43,103.6 338,104.3 C339.57,105 340.95,105.47 343.2,105.9 C345.45,106.33 348.37,106.65 351.5,106.9 C354.63,107.15 359.03,107.22 362,107.4 C364.97,107.58 364.9,107.88 369.3,108 C373.7,108.12 382.35,107.95 388.4,108.1 C394.45,108.25 399.58,108.55 405.6,108.9 C411.62,109.25 417.45,109.8 424.5,110.2 C431.55,110.6 444,111.12 447.9,111.3" fill="none" stroke="#c6c5f7" stroke-width="1.1" stroke-linejoin="round" />
<path d="M292.7,137.8 C293.08,135.67 294.03,129.63 295,125 C295.97,120.37 297.63,114 298.5,110 C299.37,106 299.65,103.37 300.2,101 C300.75,98.63 300.8,97.75 301.8,95.8 C302.8,93.85 304.57,91.12 306.2,89.3 C307.83,87.48 310.08,85.92 311.6,84.9 C313.12,83.88 314.15,83.62 315.3,83.2 C316.45,82.78 317.38,82.02 318.5,82.4 C319.62,82.78 321.42,84.98 322,85.5" fill="none" stroke="#c6c5f7" stroke-width="2.2" stroke-linejoin="round" />
<line x1="321.12" y1="82.92" x2="321.12" y2="86.12" stroke="#c6c5f7" stroke-width="0.75" stroke-linecap="butt"/>
<line x1="320.12" y1="82.92" x2="322.12" y2="82.92" stroke="#c6c5f7" stroke-width="0.75" stroke-linecap="butt"/>
<line x1="320.12" y1="86.12" x2="322.12" y2="86.12" stroke="#c6c5f7" stroke-width="0.75" stroke-linecap="butt"/>
<line x1="322.82" y1="84.9" x2="322.82" y2="88.1" stroke="#c6c5f7" stroke-width="0.75" stroke-linecap="butt"/>
<line x1="321.82" y1="84.9" x2="323.82" y2="84.9" stroke="#c6c5f7" stroke-width="0.75" stroke-linecap="butt"/>
<line x1="321.82" y1="88.1" x2="323.82" y2="88.1" stroke="#c6c5f7" stroke-width="0.75" stroke-linecap="butt"/>
<line x1="326.04" y1="89.55" x2="326.04" y2="92.75" stroke="#c6c5f7" stroke-width="0.75" stroke-linecap="butt"/>
<line x1="325.04" y1="89.55" x2="327.04" y2="89.55" stroke="#c6c5f7" stroke-width="0.75" stroke-linecap="butt"/>
<line x1="325.04" y1="92.75" x2="327.04" y2="92.75" stroke="#c6c5f7" stroke-width="0.75" stroke-linecap="butt"/>
<line x1="329.45" y1="94.69" x2="329.45" y2="97.89" stroke="#c6c5f7" stroke-width="0.75" stroke-linecap="butt"/>
<line x1="328.45" y1="94.69" x2="330.45" y2="94.69" stroke="#c6c5f7" stroke-width="0.75" stroke-linecap="butt"/>
<line x1="328.45" y1="97.89" x2="330.45" y2="97.89" stroke="#c6c5f7" stroke-width="0.75" stroke-linecap="butt"/>
<line x1="333.06" y1="99.35" x2="333.06" y2="102.55" stroke="#c6c5f7" stroke-width="0.75" stroke-linecap="butt"/>
<line x1="332.06" y1="99.35" x2="334.06" y2="99.35" stroke="#c6c5f7" stroke-width="0.75" stroke-linecap="butt"/>
<line x1="332.06" y1="102.55" x2="334.06" y2="102.55" stroke="#c6c5f7" stroke-width="0.75" stroke-linecap="butt"/>
<line x1="336.88" y1="102.18" x2="336.88" y2="105.38" stroke="#c6c5f7" stroke-width="0.75" stroke-linecap="butt"/>
<line x1="335.88" y1="102.18" x2="337.88" y2="102.18" stroke="#c6c5f7" stroke-width="0.75" stroke-linecap="butt"/>
<line x1="335.88" y1="105.38" x2="337.88" y2="105.38" stroke="#c6c5f7" stroke-width="0.75" stroke-linecap="butt"/>
<line x1="340.91" y1="103.76" x2="340.91" y2="106.96" stroke="#c6c5f7" stroke-width="0.75" stroke-linecap="butt"/>
<line x1="339.91" y1="103.76" x2="341.91" y2="103.76" stroke="#c6c5f7" stroke-width="0.75" stroke-linecap="butt"/>
<line x1="339.91" y1="106.96" x2="341.91" y2="106.96" stroke="#c6c5f7" stroke-width="0.75" stroke-linecap="butt"/>
<line x1="345.19" y1="104.84" x2="345.19" y2="107.64" stroke="#c6c5f7" stroke-width="0.75" stroke-linecap="butt"/>
<line x1="344.19" y1="104.84" x2="346.19" y2="104.84" stroke="#c6c5f7" stroke-width="0.75" stroke-linecap="butt"/>
<line x1="344.19" y1="107.64" x2="346.19" y2="107.64" stroke="#c6c5f7" stroke-width="0.75" stroke-linecap="butt"/>
<line x1="349.71" y1="105.35" x2="349.71" y2="108.15" stroke="#c6c5f7" stroke-width="0.75" stroke-linecap="butt"/>
<line x1="348.71" y1="105.35" x2="350.71" y2="105.35" stroke="#c6c5f7" stroke-width="0.75" stroke-linecap="butt"/>
<line x1="348.71" y1="108.15" x2="350.71" y2="108.15" stroke="#c6c5f7" stroke-width="0.75" stroke-linecap="butt"/>
<line x1="354.49" y1="105.68" x2="354.49" y2="108.48" stroke="#c6c5f7" stroke-width="0.75" stroke-linecap="butt"/>
<line x1="353.49" y1="105.68" x2="355.49" y2="105.68" stroke="#c6c5f7" stroke-width="0.75" stroke-linecap="butt"/>
<line x1="353.49" y1="108.48" x2="355.49" y2="108.48" stroke="#c6c5f7" stroke-width="0.75" stroke-linecap="butt"/>
<line x1="359.55" y1="105.88" x2="359.55" y2="108.68" stroke="#c6c5f7" stroke-width="0.75" stroke-linecap="butt"/>
<line x1="358.55" y1="105.88" x2="360.55" y2="105.88" stroke="#c6c5f7" stroke-width="0.75" stroke-linecap="butt"/>
<line x1="358.55" y1="108.68" x2="360.55" y2="108.68" stroke="#c6c5f7" stroke-width="0.75" stroke-linecap="butt"/>
<line x1="364.91" y1="106.26" x2="364.91" y2="109.06" stroke="#c6c5f7" stroke-width="0.75" stroke-linecap="butt"/>
<line x1="363.91" y1="106.26" x2="365.91" y2="106.26" stroke="#c6c5f7" stroke-width="0.75" stroke-linecap="butt"/>
<line x1="363.91" y1="109.06" x2="365.91" y2="109.06" stroke="#c6c5f7" stroke-width="0.75" stroke-linecap="butt"/>
<line x1="370.57" y1="106.63" x2="370.57" y2="109.43" stroke="#c6c5f7" stroke-width="0.75" stroke-linecap="butt"/>
<line x1="369.57" y1="106.63" x2="371.57" y2="106.63" stroke="#c6c5f7" stroke-width="0.75" stroke-linecap="butt"/>
<line x1="369.57" y1="109.43" x2="371.57" y2="109.43" stroke="#c6c5f7" stroke-width="0.75" stroke-linecap="butt"/>
<line x1="376.56" y1="106.66" x2="376.56" y2="109.46" stroke="#c6c5f7" stroke-width="0.75" stroke-linecap="butt"/>
<line x1="375.56" y1="106.66" x2="377.56" y2="106.66" stroke="#c6c5f7" stroke-width="0.75" stroke-linecap="butt"/>
<line x1="375.56" y1="109.46" x2="377.56" y2="109.46" stroke="#c6c5f7" stroke-width="0.75" stroke-linecap="butt"/>
<line x1="382.9" y1="106.64" x2="382.9" y2="109.44" stroke="#c6c5f7" stroke-width="0.75" stroke-linecap="butt"/>
<line x1="381.9" y1="106.64" x2="383.9" y2="106.64" stroke="#c6c5f7" stroke-width="0.75" stroke-linecap="butt"/>
<line x1="381.9" y1="109.44" x2="383.9" y2="109.44" stroke="#c6c5f7" stroke-width="0.75" stroke-linecap="butt"/>
<line x1="389.61" y1="106.73" x2="389.61" y2="109.53" stroke="#c6c5f7" stroke-width="0.75" stroke-linecap="butt"/>
<line x1="388.61" y1="106.73" x2="390.61" y2="106.73" stroke="#c6c5f7" stroke-width="0.75" stroke-linecap="butt"/>
<line x1="388.61" y1="109.53" x2="390.61" y2="109.53" stroke="#c6c5f7" stroke-width="0.75" stroke-linecap="butt"/>
<line x1="396.71" y1="107.01" x2="396.71" y2="109.81" stroke="#c6c5f7" stroke-width="0.75" stroke-linecap="butt"/>
<line x1="395.71" y1="107.01" x2="397.71" y2="107.01" stroke="#c6c5f7" stroke-width="0.75" stroke-linecap="butt"/>
<line x1="395.71" y1="109.81" x2="397.71" y2="109.81" stroke="#c6c5f7" stroke-width="0.75" stroke-linecap="butt"/>
<line x1="404.22" y1="107.42" x2="404.22" y2="110.22" stroke="#c6c5f7" stroke-width="0.75" stroke-linecap="butt"/>
<line x1="403.22" y1="107.42" x2="405.22" y2="107.42" stroke="#c6c5f7" stroke-width="0.75" stroke-linecap="butt"/>
<line x1="403.22" y1="110.22" x2="405.22" y2="110.22" stroke="#c6c5f7" stroke-width="0.75" stroke-linecap="butt"/>
<line x1="412.16" y1="107.94" x2="412.16" y2="110.74" stroke="#c6c5f7" stroke-width="0.75" stroke-linecap="butt"/>
<line x1="411.16" y1="107.94" x2="413.16" y2="107.94" stroke="#c6c5f7" stroke-width="0.75" stroke-linecap="butt"/>
<line x1="411.16" y1="110.74" x2="413.16" y2="110.74" stroke="#c6c5f7" stroke-width="0.75" stroke-linecap="butt"/>
<line x1="420.57" y1="108.55" x2="420.57" y2="111.35" stroke="#c6c5f7" stroke-width="0.75" stroke-linecap="butt"/>
<line x1="419.57" y1="108.55" x2="421.57" y2="108.55" stroke="#c6c5f7" stroke-width="0.75" stroke-linecap="butt"/>
<line x1="419.57" y1="111.35" x2="421.57" y2="111.35" stroke="#c6c5f7" stroke-width="0.75" stroke-linecap="butt"/>
<line x1="429.46" y1="109.06" x2="429.46" y2="111.86" stroke="#c6c5f7" stroke-width="0.75" stroke-linecap="butt"/>
<line x1="428.46" y1="109.06" x2="430.46" y2="109.06" stroke="#c6c5f7" stroke-width="0.75" stroke-linecap="butt"/>
<line x1="428.46" y1="111.86" x2="430.46" y2="111.86" stroke="#c6c5f7" stroke-width="0.75" stroke-linecap="butt"/>
<line x1="438.87" y1="109.5" x2="438.87" y2="112.3" stroke="#c6c5f7" stroke-width="0.75" stroke-linecap="butt"/>
<line x1="437.87" y1="109.5" x2="439.87" y2="109.5" stroke="#c6c5f7" stroke-width="0.75" stroke-linecap="butt"/>
<line x1="437.87" y1="112.3" x2="439.87" y2="112.3" stroke="#c6c5f7" stroke-width="0.75" stroke-linecap="butt"/>
<line x1="447.9" y1="109.9" x2="447.9" y2="112.7" stroke="#c6c5f7" stroke-width="0.75" stroke-linecap="butt"/>
<line x1="446.9" y1="109.9" x2="448.9" y2="109.9" stroke="#c6c5f7" stroke-width="0.75" stroke-linecap="butt"/>
<line x1="446.9" y1="112.7" x2="448.9" y2="112.7" stroke="#c6c5f7" stroke-width="0.75" stroke-linecap="butt"/>
<circle cx="293.4" cy="133.71" r="1.25" fill="#c6c5f7"/>
<circle cx="293.88" cy="130.89" r="1.25" fill="#c6c5f7"/>
<circle cx="294.29" cy="128.65" r="1.25" fill="#c6c5f7"/>
<circle cx="294.71" cy="126.43" r="1.25" fill="#c6c5f7"/>
<circle cx="295.31" cy="123.56" r="1.25" fill="#c6c5f7"/>
<circle cx="295.83" cy="121.26" r="1.25" fill="#c6c5f7"/>
<circle cx="296.4" cy="118.87" r="1.25" fill="#c6c5f7"/>
<circle cx="296.98" cy="116.46" r="1.25" fill="#c6c5f7"/>
<circle cx="297.54" cy="114.13" r="1.25" fill="#c6c5f7"/>
<circle cx="298.06" cy="111.95" r="1.25" fill="#c6c5f7"/>
<circle cx="298.63" cy="109.41" r="1.25" fill="#c6c5f7"/>
<circle cx="299.05" cy="107.24" r="1.25" fill="#c6c5f7"/>
<circle cx="299.47" cy="104.89" r="1.25" fill="#c6c5f7"/>
<circle cx="299.9" cy="102.46" r="1.25" fill="#c6c5f7"/>
<circle cx="300.42" cy="100.03" r="1.25" fill="#c6c5f7"/>
<circle cx="300.96" cy="97.79" r="1.25" fill="#c6c5f7"/>
<circle cx="301.96" cy="95.5" r="1.25" fill="#c6c5f7"/>
<circle cx="303.09" cy="93.54" r="1.25" fill="#c6c5f7"/>
<circle cx="304.47" cy="91.47" r="1.25" fill="#c6c5f7"/>
<circle cx="305.95" cy="89.58" r="1.25" fill="#c6c5f7"/>
<circle cx="307.52" cy="87.99" r="1.25" fill="#c6c5f7"/>
<circle cx="309.23" cy="86.58" r="1.25" fill="#c6c5f7"/>
<circle cx="311.12" cy="85.22" r="1.25" fill="#c6c5f7"/>
<circle cx="313.04" cy="84.07" r="1.25" fill="#c6c5f7"/>
<circle cx="315.13" cy="83.26" r="1.25" fill="#c6c5f7"/>
<circle cx="317.22" cy="82.4" r="1.25" fill="#c6c5f7"/>
<circle cx="319.36" cy="82.86" r="1.25" fill="#c6c5f7"/>
<circle cx="321.12" cy="84.52" r="1.25" fill="#c6c5f7"/>
<circle cx="322.82" cy="86.5" r="1.25" fill="#c6c5f7"/>
<circle cx="326.04" cy="91.15" r="1.25" fill="#c6c5f7"/>
<circle cx="329.45" cy="96.29" r="1.25" fill="#c6c5f7"/>
<circle cx="333.06" cy="100.95" r="1.25" fill="#c6c5f7"/>
<circle cx="336.88" cy="103.78" r="1.25" fill="#c6c5f7"/>
<circle cx="340.91" cy="105.36" r="1.25" fill="#c6c5f7"/>
<circle cx="345.19" cy="106.24" r="1.25" fill="#c6c5f7"/>
<circle cx="349.71" cy="106.75" r="1.25" fill="#c6c5f7"/>
<circle cx="354.49" cy="107.08" r="1.25" fill="#c6c5f7"/>
<circle cx="359.55" cy="107.28" r="1.25" fill="#c6c5f7"/>
<circle cx="364.91" cy="107.66" r="1.25" fill="#c6c5f7"/>
<circle cx="370.57" cy="108.03" r="1.25" fill="#c6c5f7"/>
<circle cx="376.56" cy="108.06" r="1.25" fill="#c6c5f7"/>
<circle cx="382.9" cy="108.04" r="1.25" fill="#c6c5f7"/>
<circle cx="389.61" cy="108.13" r="1.25" fill="#c6c5f7"/>
<circle cx="396.71" cy="108.41" r="1.25" fill="#c6c5f7"/>
<circle cx="404.22" cy="108.82" r="1.25" fill="#c6c5f7"/>
<circle cx="412.16" cy="109.34" r="1.25" fill="#c6c5f7"/>
<circle cx="420.57" cy="109.95" r="1.25" fill="#c6c5f7"/>
<circle cx="429.46" cy="110.46" r="1.25" fill="#c6c5f7"/>
<circle cx="438.87" cy="110.9" r="1.25" fill="#c6c5f7"/>
<circle cx="447.9" cy="111.3" r="1.25" fill="#c6c5f7"/>
<path d="M292.7,137.8 C293.08,136.12 293.85,132.33 295,127.7 C296.15,123.07 298.28,114.58 299.6,110 C300.92,105.42 301.9,102.75 302.9,100.2 C303.9,97.65 304.75,96.07 305.6,94.7 C306.45,93.33 307.18,92.73 308,92 C308.82,91.27 309.53,90.13 310.5,90.3 C311.47,90.47 312.52,91.72 313.8,93 C315.08,94.28 316.83,96.9 318.2,98 C319.57,99.1 320.8,99.07 322,99.6 C323.2,100.13 323.08,100.63 325.4,101.2 C327.72,101.77 332.42,102.57 335.9,103 C339.38,103.43 342.82,103.58 346.3,103.8 C349.78,104.02 352.97,104.13 356.8,104.3 C360.63,104.47 365.23,104.67 369.3,104.8 C373.37,104.93 376.67,105.17 381.2,105.1 C385.73,105.03 390.93,104.82 396.5,104.4 C402.07,103.98 407.98,103.28 414.6,102.6 C421.22,101.92 430.65,100.98 436.2,100.3 C441.75,99.62 445.95,98.8 447.9,98.5" fill="none" stroke="#ffcf00" stroke-width="1.0" stroke-linejoin="round" />
<circle cx="293.34" cy="134.85" r="1.2" fill="#ffcf00"/>
<circle cx="293.93" cy="132.2" r="1.2" fill="#ffcf00"/>
<circle cx="294.51" cy="129.72" r="1.2" fill="#ffcf00"/>
<circle cx="295.18" cy="126.98" r="1.2" fill="#ffcf00"/>
<circle cx="295.79" cy="124.52" r="1.2" fill="#ffcf00"/>
<circle cx="296.49" cy="121.75" r="1.2" fill="#ffcf00"/>
<circle cx="297.24" cy="118.83" r="1.2" fill="#ffcf00"/>
<circle cx="297.99" cy="115.91" r="1.2" fill="#ffcf00"/>
<circle cx="298.73" cy="113.16" r="1.2" fill="#ffcf00"/>
<circle cx="299.4" cy="110.72" r="1.2" fill="#ffcf00"/>
<circle cx="300.17" cy="108.06" r="1.2" fill="#ffcf00"/>
<circle cx="300.88" cy="105.81" r="1.2" fill="#ffcf00"/>
<circle cx="301.69" cy="103.43" r="1.2" fill="#ffcf00"/>
<circle cx="302.6" cy="100.97" r="1.2" fill="#ffcf00"/>
<circle cx="303.48" cy="98.78" r="1.2" fill="#ffcf00"/>
<circle cx="304.57" cy="96.49" r="1.2" fill="#ffcf00"/>
<circle cx="305.73" cy="94.5" r="1.2" fill="#ffcf00"/>
<circle cx="307.28" cy="92.65" r="1.2" fill="#ffcf00"/>
<circle cx="308.95" cy="91.04" r="1.2" fill="#ffcf00"/>
<circle cx="311.09" cy="90.52" r="1.2" fill="#ffcf00"/>
<circle cx="312.88" cy="92.06" r="1.2" fill="#ffcf00"/>
<circle cx="314.62" cy="93.91" r="1.2" fill="#ffcf00"/>
<circle cx="316.2" cy="95.85" r="1.2" fill="#ffcf00"/>
<circle cx="317.78" cy="97.63" r="1.2" fill="#ffcf00"/>
<circle cx="319.77" cy="98.86" r="1.2" fill="#ffcf00"/>
<circle cx="322.82" cy="100.01" r="1.2" fill="#ffcf00"/>
<circle cx="326.04" cy="101.35" r="1.2" fill="#ffcf00"/>
<circle cx="329.45" cy="102.05" r="1.2" fill="#ffcf00"/>
<circle cx="333.06" cy="102.62" r="1.2" fill="#ffcf00"/>
<circle cx="336.88" cy="103.11" r="1.2" fill="#ffcf00"/>
<circle cx="340.91" cy="103.47" r="1.2" fill="#ffcf00"/>
<circle cx="345.19" cy="103.73" r="1.2" fill="#ffcf00"/>
<circle cx="349.71" cy="103.99" r="1.2" fill="#ffcf00"/>
<circle cx="354.49" cy="104.2" r="1.2" fill="#ffcf00"/>
<circle cx="359.55" cy="104.42" r="1.2" fill="#ffcf00"/>
<circle cx="364.91" cy="104.64" r="1.2" fill="#ffcf00"/>
<circle cx="370.57" cy="104.84" r="1.2" fill="#ffcf00"/>
<circle cx="376.56" cy="105.06" r="1.2" fill="#ffcf00"/>
<circle cx="382.9" cy="105.07" r="1.2" fill="#ffcf00"/>
<circle cx="389.61" cy="104.83" r="1.2" fill="#ffcf00"/>
<circle cx="396.71" cy="104.38" r="1.2" fill="#ffcf00"/>
<circle cx="404.22" cy="103.7" r="1.2" fill="#ffcf00"/>
<circle cx="412.16" cy="102.86" r="1.2" fill="#ffcf00"/>
<circle cx="420.57" cy="101.99" r="1.2" fill="#ffcf00"/>
<circle cx="429.46" cy="101.08" r="1.2" fill="#ffcf00"/>
<circle cx="438.87" cy="99.94" r="1.2" fill="#ffcf00"/>
<circle cx="447.9" cy="98.5" r="1.2" fill="#ffcf00"/>
<rect x="291.7" y="101.5" width="2" height="35" fill="#85c2f7" opacity="0.75"/>
<path d="M292.7,137.8 C292.85,136 293.17,131.63 293.6,127 C294.03,122.37 294.65,114.5 295.3,110 C295.95,105.5 296.78,103.1 297.5,100 C298.22,96.9 298.97,94.47 299.6,91.4 C300.23,88.33 300.75,84.5 301.3,81.6 C301.85,78.7 302.27,76 302.9,74 C303.53,72 304.18,71.23 305.1,69.6 C306.02,67.97 307.32,66.02 308.4,64.2 C309.48,62.38 310.7,59.92 311.6,58.7 C312.5,57.48 312.9,57.12 313.8,56.9 C314.7,56.68 315.97,57.18 317,57.4 C318.03,57.62 318.83,57.87 320,58.2 C321.17,58.53 322.5,59 324,59.4 C325.5,59.8 327.25,60.2 329,60.6 C330.75,61 332.78,61.17 334.5,61.8 C336.22,62.43 337.88,62.98 339.3,64.4 C340.72,65.82 341.58,68.22 343,70.3 C344.42,72.38 346.38,74.87 347.8,76.9 C349.22,78.93 350.23,80.75 351.5,82.5 C352.77,84.25 354.23,85.9 355.4,87.4 C356.57,88.9 357.4,90.15 358.5,91.5 C359.6,92.85 360.55,93.97 362,95.5 C363.45,97.03 365.2,99.07 367.2,100.7 C369.2,102.33 371.67,103.93 374,105.3 C376.33,106.67 378.8,107.37 381.2,108.9 C383.6,110.43 385.85,113.2 388.4,114.5 C390.95,115.8 393.63,116.08 396.5,116.7 C399.37,117.32 402.58,117.55 405.6,118.2 C408.62,118.85 411.45,119.9 414.6,120.6 C417.75,121.3 420.9,122 424.5,122.4 C428.1,122.8 432.3,122.75 436.2,123 C440.1,123.25 445.95,123.75 447.9,123.9" fill="none" stroke="#85c2f7" stroke-width="1.2" stroke-linejoin="round" />
<path d="M292.7,137.8 C292.85,136 293.17,131.63 293.6,127 C294.03,122.37 294.65,114.5 295.3,110 C295.95,105.5 296.78,103.1 297.5,100 C298.22,96.9 298.97,94.47 299.6,91.4 C300.23,88.33 300.75,84.5 301.3,81.6 C301.85,78.7 302.27,76 302.9,74 C303.53,72 304.18,71.23 305.1,69.6 C306.02,67.97 307.32,66.02 308.4,64.2 C309.48,62.38 311.07,59.62 311.6,58.7" fill="none" stroke="#85c2f7" stroke-width="1.8" stroke-linejoin="round" />
<line x1="309.4" y1="58.64" x2="309.4" y2="66.24" stroke="#85c2f7" stroke-width="0.75" stroke-linecap="butt"/>
<line x1="308.4" y1="58.64" x2="310.4" y2="58.64" stroke="#85c2f7" stroke-width="0.75" stroke-linecap="butt"/>
<line x1="308.4" y1="66.24" x2="310.4" y2="66.24" stroke="#85c2f7" stroke-width="0.75" stroke-linecap="butt"/>
<line x1="310.4" y1="56.84" x2="310.4" y2="64.44" stroke="#85c2f7" stroke-width="0.75" stroke-linecap="butt"/>
<line x1="309.4" y1="56.84" x2="311.4" y2="56.84" stroke="#85c2f7" stroke-width="0.75" stroke-linecap="butt"/>
<line x1="309.4" y1="64.44" x2="311.4" y2="64.44" stroke="#85c2f7" stroke-width="0.75" stroke-linecap="butt"/>
<line x1="311.46" y1="55.09" x2="311.46" y2="62.69" stroke="#85c2f7" stroke-width="0.75" stroke-linecap="butt"/>
<line x1="310.46" y1="55.09" x2="312.46" y2="55.09" stroke="#85c2f7" stroke-width="0.75" stroke-linecap="butt"/>
<line x1="310.46" y1="62.69" x2="312.46" y2="62.69" stroke="#85c2f7" stroke-width="0.75" stroke-linecap="butt"/>
<line x1="312.8" y1="53.55" x2="312.8" y2="61.15" stroke="#85c2f7" stroke-width="0.75" stroke-linecap="butt"/>
<line x1="311.8" y1="53.55" x2="313.8" y2="53.55" stroke="#85c2f7" stroke-width="0.75" stroke-linecap="butt"/>
<line x1="311.8" y1="61.15" x2="313.8" y2="61.15" stroke="#85c2f7" stroke-width="0.75" stroke-linecap="butt"/>
<line x1="314.69" y1="53.07" x2="314.69" y2="60.67" stroke="#85c2f7" stroke-width="0.75" stroke-linecap="butt"/>
<line x1="313.69" y1="53.07" x2="315.69" y2="53.07" stroke="#85c2f7" stroke-width="0.75" stroke-linecap="butt"/>
<line x1="313.69" y1="60.67" x2="315.69" y2="60.67" stroke="#85c2f7" stroke-width="0.75" stroke-linecap="butt"/>
<line x1="316.68" y1="53.53" x2="316.68" y2="61.13" stroke="#85c2f7" stroke-width="0.75" stroke-linecap="butt"/>
<line x1="315.68" y1="53.53" x2="317.68" y2="53.53" stroke="#85c2f7" stroke-width="0.75" stroke-linecap="butt"/>
<line x1="315.68" y1="61.13" x2="317.68" y2="61.13" stroke="#85c2f7" stroke-width="0.75" stroke-linecap="butt"/>
<line x1="318.74" y1="54.04" x2="318.74" y2="61.64" stroke="#85c2f7" stroke-width="0.75" stroke-linecap="butt"/>
<line x1="317.74" y1="54.04" x2="319.74" y2="54.04" stroke="#85c2f7" stroke-width="0.75" stroke-linecap="butt"/>
<line x1="317.74" y1="61.64" x2="319.74" y2="61.64" stroke="#85c2f7" stroke-width="0.75" stroke-linecap="butt"/>
<line x1="322.82" y1="55.26" x2="322.82" y2="62.86" stroke="#85c2f7" stroke-width="0.75" stroke-linecap="butt"/>
<line x1="321.82" y1="55.26" x2="323.82" y2="55.26" stroke="#85c2f7" stroke-width="0.75" stroke-linecap="butt"/>
<line x1="321.82" y1="62.86" x2="323.82" y2="62.86" stroke="#85c2f7" stroke-width="0.75" stroke-linecap="butt"/>
<line x1="326.04" y1="56.11" x2="326.04" y2="63.71" stroke="#85c2f7" stroke-width="0.75" stroke-linecap="butt"/>
<line x1="325.04" y1="56.11" x2="327.04" y2="56.11" stroke="#85c2f7" stroke-width="0.75" stroke-linecap="butt"/>
<line x1="325.04" y1="63.71" x2="327.04" y2="63.71" stroke="#85c2f7" stroke-width="0.75" stroke-linecap="butt"/>
<line x1="329.45" y1="56.9" x2="329.45" y2="64.5" stroke="#85c2f7" stroke-width="0.75" stroke-linecap="butt"/>
<line x1="328.45" y1="56.9" x2="330.45" y2="56.9" stroke="#85c2f7" stroke-width="0.75" stroke-linecap="butt"/>
<line x1="328.45" y1="64.5" x2="330.45" y2="64.5" stroke="#85c2f7" stroke-width="0.75" stroke-linecap="butt"/>
<line x1="333.06" y1="57.57" x2="333.06" y2="65.17" stroke="#85c2f7" stroke-width="0.75" stroke-linecap="butt"/>
<line x1="332.06" y1="57.57" x2="334.06" y2="57.57" stroke="#85c2f7" stroke-width="0.75" stroke-linecap="butt"/>
<line x1="332.06" y1="65.17" x2="334.06" y2="65.17" stroke="#85c2f7" stroke-width="0.75" stroke-linecap="butt"/>
<line x1="336.88" y1="58.91" x2="336.88" y2="66.51" stroke="#85c2f7" stroke-width="0.75" stroke-linecap="butt"/>
<line x1="335.88" y1="58.91" x2="337.88" y2="58.91" stroke="#85c2f7" stroke-width="0.75" stroke-linecap="butt"/>
<line x1="335.88" y1="66.51" x2="337.88" y2="66.51" stroke="#85c2f7" stroke-width="0.75" stroke-linecap="butt"/>
<line x1="340.91" y1="62.92" x2="340.91" y2="70.52" stroke="#85c2f7" stroke-width="0.75" stroke-linecap="butt"/>
<line x1="339.91" y1="62.92" x2="341.91" y2="62.92" stroke="#85c2f7" stroke-width="0.75" stroke-linecap="butt"/>
<line x1="339.91" y1="70.52" x2="341.91" y2="70.52" stroke="#85c2f7" stroke-width="0.75" stroke-linecap="butt"/>
<line x1="345.19" y1="70.34" x2="345.19" y2="76.34" stroke="#85c2f7" stroke-width="0.75" stroke-linecap="butt"/>
<line x1="344.19" y1="70.34" x2="346.19" y2="70.34" stroke="#85c2f7" stroke-width="0.75" stroke-linecap="butt"/>
<line x1="344.19" y1="76.34" x2="346.19" y2="76.34" stroke="#85c2f7" stroke-width="0.75" stroke-linecap="butt"/>
<line x1="349.71" y1="76.82" x2="349.71" y2="82.82" stroke="#85c2f7" stroke-width="0.75" stroke-linecap="butt"/>
<line x1="348.71" y1="76.82" x2="350.71" y2="76.82" stroke="#85c2f7" stroke-width="0.75" stroke-linecap="butt"/>
<line x1="348.71" y1="82.82" x2="350.71" y2="82.82" stroke="#85c2f7" stroke-width="0.75" stroke-linecap="butt"/>
<line x1="354.49" y1="83.26" x2="354.49" y2="89.26" stroke="#85c2f7" stroke-width="0.75" stroke-linecap="butt"/>
<line x1="353.49" y1="83.26" x2="355.49" y2="83.26" stroke="#85c2f7" stroke-width="0.75" stroke-linecap="butt"/>
<line x1="353.49" y1="89.26" x2="355.49" y2="89.26" stroke="#85c2f7" stroke-width="0.75" stroke-linecap="butt"/>
<line x1="359.55" y1="89.76" x2="359.55" y2="95.76" stroke="#85c2f7" stroke-width="0.75" stroke-linecap="butt"/>
<line x1="358.55" y1="89.76" x2="360.55" y2="89.76" stroke="#85c2f7" stroke-width="0.75" stroke-linecap="butt"/>
<line x1="358.55" y1="95.76" x2="360.55" y2="95.76" stroke="#85c2f7" stroke-width="0.75" stroke-linecap="butt"/>
<line x1="364.91" y1="95.57" x2="364.91" y2="101.57" stroke="#85c2f7" stroke-width="0.75" stroke-linecap="butt"/>
<line x1="363.91" y1="95.57" x2="365.91" y2="95.57" stroke="#85c2f7" stroke-width="0.75" stroke-linecap="butt"/>
<line x1="363.91" y1="101.57" x2="365.91" y2="101.57" stroke="#85c2f7" stroke-width="0.75" stroke-linecap="butt"/>
<line x1="370.57" y1="100.18" x2="370.57" y2="106.18" stroke="#85c2f7" stroke-width="0.75" stroke-linecap="butt"/>
<line x1="369.57" y1="100.18" x2="371.57" y2="100.18" stroke="#85c2f7" stroke-width="0.75" stroke-linecap="butt"/>
<line x1="369.57" y1="106.18" x2="371.57" y2="106.18" stroke="#85c2f7" stroke-width="0.75" stroke-linecap="butt"/>
<line x1="376.56" y1="103.99" x2="376.56" y2="109.19" stroke="#85c2f7" stroke-width="0.75" stroke-linecap="butt"/>
<line x1="375.56" y1="103.99" x2="377.56" y2="103.99" stroke="#85c2f7" stroke-width="0.75" stroke-linecap="butt"/>
<line x1="375.56" y1="109.19" x2="377.56" y2="109.19" stroke="#85c2f7" stroke-width="0.75" stroke-linecap="butt"/>
<line x1="382.9" y1="107.57" x2="382.9" y2="112.77" stroke="#85c2f7" stroke-width="0.75" stroke-linecap="butt"/>
<line x1="381.9" y1="107.57" x2="383.9" y2="107.57" stroke="#85c2f7" stroke-width="0.75" stroke-linecap="butt"/>
<line x1="381.9" y1="112.77" x2="383.9" y2="112.77" stroke="#85c2f7" stroke-width="0.75" stroke-linecap="butt"/>
<line x1="389.61" y1="112.45" x2="389.61" y2="117.65" stroke="#85c2f7" stroke-width="0.75" stroke-linecap="butt"/>
<line x1="388.61" y1="112.45" x2="390.61" y2="112.45" stroke="#85c2f7" stroke-width="0.75" stroke-linecap="butt"/>
<line x1="388.61" y1="117.65" x2="390.61" y2="117.65" stroke="#85c2f7" stroke-width="0.75" stroke-linecap="butt"/>
<line x1="396.71" y1="114.14" x2="396.71" y2="119.34" stroke="#85c2f7" stroke-width="0.75" stroke-linecap="butt"/>
<line x1="395.71" y1="114.14" x2="397.71" y2="114.14" stroke="#85c2f7" stroke-width="0.75" stroke-linecap="butt"/>
<line x1="395.71" y1="119.34" x2="397.71" y2="119.34" stroke="#85c2f7" stroke-width="0.75" stroke-linecap="butt"/>
<line x1="404.22" y1="115.33" x2="404.22" y2="120.53" stroke="#85c2f7" stroke-width="0.75" stroke-linecap="butt"/>
<line x1="403.22" y1="115.33" x2="405.22" y2="115.33" stroke="#85c2f7" stroke-width="0.75" stroke-linecap="butt"/>
<line x1="403.22" y1="120.53" x2="405.22" y2="120.53" stroke="#85c2f7" stroke-width="0.75" stroke-linecap="butt"/>
<line x1="412.16" y1="117.38" x2="412.16" y2="122.58" stroke="#85c2f7" stroke-width="0.75" stroke-linecap="butt"/>
<line x1="411.16" y1="117.38" x2="413.16" y2="117.38" stroke="#85c2f7" stroke-width="0.75" stroke-linecap="butt"/>
<line x1="411.16" y1="122.58" x2="413.16" y2="122.58" stroke="#85c2f7" stroke-width="0.75" stroke-linecap="butt"/>
<line x1="420.57" y1="119.22" x2="420.57" y2="124.42" stroke="#85c2f7" stroke-width="0.75" stroke-linecap="butt"/>
<line x1="419.57" y1="119.22" x2="421.57" y2="119.22" stroke="#85c2f7" stroke-width="0.75" stroke-linecap="butt"/>
<line x1="419.57" y1="124.42" x2="421.57" y2="124.42" stroke="#85c2f7" stroke-width="0.75" stroke-linecap="butt"/>
<line x1="429.46" y1="120.14" x2="429.46" y2="125.34" stroke="#85c2f7" stroke-width="0.75" stroke-linecap="butt"/>
<line x1="428.46" y1="120.14" x2="430.46" y2="120.14" stroke="#85c2f7" stroke-width="0.75" stroke-linecap="butt"/>
<line x1="428.46" y1="125.34" x2="430.46" y2="125.34" stroke="#85c2f7" stroke-width="0.75" stroke-linecap="butt"/>
<line x1="438.87" y1="120.59" x2="438.87" y2="125.79" stroke="#85c2f7" stroke-width="0.75" stroke-linecap="butt"/>
<line x1="437.87" y1="120.59" x2="439.87" y2="120.59" stroke="#85c2f7" stroke-width="0.75" stroke-linecap="butt"/>
<line x1="437.87" y1="125.79" x2="439.87" y2="125.79" stroke="#85c2f7" stroke-width="0.75" stroke-linecap="butt"/>
<line x1="447.9" y1="121.3" x2="447.9" y2="126.5" stroke="#85c2f7" stroke-width="0.75" stroke-linecap="butt"/>
<line x1="446.9" y1="121.3" x2="448.9" y2="121.3" stroke="#85c2f7" stroke-width="0.75" stroke-linecap="butt"/>
<line x1="446.9" y1="126.5" x2="448.9" y2="126.5" stroke="#85c2f7" stroke-width="0.75" stroke-linecap="butt"/>
<circle cx="293.3" cy="130.39" r="1.4" fill="#85c2f7"/>
<circle cx="293.47" cy="128.38" r="1.4" fill="#85c2f7"/>
<circle cx="293.67" cy="126.28" r="1.4" fill="#85c2f7"/>
<circle cx="293.88" cy="123.88" r="1.4" fill="#85c2f7"/>
<circle cx="294.12" cy="121.23" r="1.4" fill="#85c2f7"/>
<circle cx="294.37" cy="118.45" r="1.4" fill="#85c2f7"/>
<circle cx="294.64" cy="115.68" r="1.4" fill="#85c2f7"/>
<circle cx="294.92" cy="113.05" r="1.4" fill="#85c2f7"/>
<circle cx="295.2" cy="110.7" r="1.4" fill="#85c2f7"/>
<circle cx="295.5" cy="108.71" r="1.4" fill="#85c2f7"/>
<circle cx="295.93" cy="106.44" r="1.4" fill="#85c2f7"/>
<circle cx="296.38" cy="104.47" r="1.4" fill="#85c2f7"/>
<circle cx="296.95" cy="102.24" r="1.4" fill="#85c2f7"/>
<circle cx="297.5" cy="100" r="1.4" fill="#85c2f7"/>
<circle cx="298.04" cy="97.78" r="1.4" fill="#85c2f7"/>
<circle cx="298.58" cy="95.69" r="1.4" fill="#85c2f7"/>
<circle cx="299.11" cy="93.6" r="1.4" fill="#85c2f7"/>
<circle cx="299.6" cy="91.4" r="1.4" fill="#85c2f7"/>
<circle cx="300.06" cy="88.98" r="1.4" fill="#85c2f7"/>
<circle cx="300.4" cy="86.95" r="1.4" fill="#85c2f7"/>
<circle cx="300.73" cy="84.92" r="1.4" fill="#85c2f7"/>
<circle cx="301.14" cy="82.5" r="1.4" fill="#85c2f7"/>
<circle cx="301.54" cy="80.31" r="1.4" fill="#85c2f7"/>
<circle cx="301.92" cy="78.25" r="1.4" fill="#85c2f7"/>
<circle cx="302.38" cy="75.98" r="1.4" fill="#85c2f7"/>
<circle cx="302.9" cy="74" r="1.4" fill="#85c2f7"/>
<circle cx="303.68" cy="72.06" r="1.4" fill="#85c2f7"/>
<circle cx="304.7" cy="70.28" r="1.4" fill="#85c2f7"/>
<circle cx="305.85" cy="68.32" r="1.4" fill="#85c2f7"/>
<circle cx="307.03" cy="66.42" r="1.4" fill="#85c2f7"/>
<circle cx="308.24" cy="64.47" r="1.4" fill="#85c2f7"/>
<circle cx="309.4" cy="62.44" r="1.4" fill="#85c2f7"/>
<circle cx="310.4" cy="60.64" r="1.4" fill="#85c2f7"/>
<circle cx="311.46" cy="58.89" r="1.4" fill="#85c2f7"/>
<circle cx="312.8" cy="57.35" r="1.4" fill="#85c2f7"/>
<circle cx="314.69" cy="56.87" r="1.4" fill="#85c2f7"/>
<circle cx="316.68" cy="57.33" r="1.4" fill="#85c2f7"/>
<circle cx="318.74" cy="57.84" r="1.4" fill="#85c2f7"/>
<circle cx="322.82" cy="59.06" r="1.4" fill="#85c2f7"/>
<circle cx="326.04" cy="59.91" r="1.4" fill="#85c2f7"/>
<circle cx="329.45" cy="60.7" r="1.4" fill="#85c2f7"/>
<circle cx="333.06" cy="61.37" r="1.4" fill="#85c2f7"/>
<circle cx="336.88" cy="62.71" r="1.4" fill="#85c2f7"/>
<circle cx="340.91" cy="66.72" r="1.4" fill="#85c2f7"/>
<circle cx="345.19" cy="73.34" r="1.4" fill="#85c2f7"/>
<circle cx="349.71" cy="79.82" r="1.4" fill="#85c2f7"/>
<circle cx="354.49" cy="86.26" r="1.4" fill="#85c2f7"/>
<circle cx="359.55" cy="92.76" r="1.4" fill="#85c2f7"/>
<circle cx="364.91" cy="98.57" r="1.4" fill="#85c2f7"/>
<circle cx="370.57" cy="103.18" r="1.4" fill="#85c2f7"/>
<circle cx="376.56" cy="106.59" r="1.4" fill="#85c2f7"/>
<circle cx="382.9" cy="110.17" r="1.4" fill="#85c2f7"/>
<circle cx="389.61" cy="115.05" r="1.4" fill="#85c2f7"/>
<circle cx="396.71" cy="116.74" r="1.4" fill="#85c2f7"/>
<circle cx="404.22" cy="117.93" r="1.4" fill="#85c2f7"/>
<circle cx="412.16" cy="119.98" r="1.4" fill="#85c2f7"/>
<circle cx="420.57" cy="121.82" r="1.4" fill="#85c2f7"/>
<circle cx="429.46" cy="122.74" r="1.4" fill="#85c2f7"/>
<circle cx="438.87" cy="123.19" r="1.4" fill="#85c2f7"/>
<circle cx="447.9" cy="123.9" r="1.4" fill="#85c2f7"/>
<rect x="290.2" y="26.3" width="167.8" height="111.5" fill="none" stroke="#111" stroke-width="1.8"/>
<line x1="285.4" y1="137.8" x2="290.2" y2="137.8" stroke="#111" stroke-width="1.5" stroke-linecap="butt"/>
<text x="284.5" y="140.9" font-size="9.4" text-anchor="end" font-weight="bold" fill="#000" >0</text>
<line x1="285.4" y1="113" x2="290.2" y2="113" stroke="#111" stroke-width="1.5" stroke-linecap="butt"/>
<text x="284.5" y="116.1" font-size="9.4" text-anchor="end" font-weight="bold" fill="#000" >200</text>
<line x1="285.4" y1="88.2" x2="290.2" y2="88.2" stroke="#111" stroke-width="1.5" stroke-linecap="butt"/>
<text x="284.5" y="91.3" font-size="9.4" text-anchor="end" font-weight="bold" fill="#000" >400</text>
<line x1="285.4" y1="63.4" x2="290.2" y2="63.4" stroke="#111" stroke-width="1.5" stroke-linecap="butt"/>
<text x="284.5" y="66.5" font-size="9.4" text-anchor="end" font-weight="bold" fill="#000" >600</text>
<line x1="285.4" y1="38.6" x2="290.2" y2="38.6" stroke="#111" stroke-width="1.5" stroke-linecap="butt"/>
<text x="284.5" y="41.7" font-size="9.4" text-anchor="end" font-weight="bold" fill="#000" >800</text>
<line x1="292.7" y1="137.8" x2="292.7" y2="142.8" stroke="#111" stroke-width="1.5" stroke-linecap="butt"/>
<text x="292.7" y="152.8" font-size="9.4" text-anchor="middle" font-weight="bold" fill="#000" >0</text>
<line x1="344.4" y1="137.8" x2="344.4" y2="142.8" stroke="#111" stroke-width="1.5" stroke-linecap="butt"/>
<text x="344.4" y="152.8" font-size="9.4" text-anchor="middle" font-weight="bold" fill="#000" >100</text>
<line x1="396.1" y1="137.8" x2="396.1" y2="142.8" stroke="#111" stroke-width="1.5" stroke-linecap="butt"/>
<text x="396.1" y="152.8" font-size="9.4" text-anchor="middle" font-weight="bold" fill="#000" >200</text>
<line x1="447.8" y1="137.8" x2="447.8" y2="142.8" stroke="#111" stroke-width="1.5" stroke-linecap="butt"/>
<text x="447.8" y="152.8" font-size="9.4" text-anchor="middle" font-weight="bold" fill="#000" >300</text>
<g transform="translate(338.2,168.7)"><text x="0" y="0" font-size="9.5" font-weight="bold">Shear rate</text><text x="47" y="0" font-size="10.1" font-weight="normal">γ</text><text x="54.7" y="0" font-size="9.5" font-weight="bold">(s</text><text x="61.8" y="-2.6" font-size="6.2" font-weight="bold">-</text><text x="66.2" y="-4.6" font-size="6.2" font-weight="bold">1</text><text x="69.4" y="0" font-size="9.5" font-weight="bold">)</text></g>
<g transform="translate(264.5,121) rotate(-90)"><text x="0" y="0" font-size="9.5" font-weight="bold">Shear stress</text><text x="53.2" y="0" font-size="10.3" font-weight="bold">τ</text><text x="61.4" y="0" font-size="9.5" font-weight="bold">(Pa)</text></g>
<line x1="481.6" y1="54.9" x2="493.9" y2="54.9" stroke="#85c2f7" stroke-width="1.0" stroke-linecap="butt"/>
<circle cx="487.75" cy="54.9" r="1.4" fill="#85c2f7"/>
<text x="500.3" y="57.9" font-size="9.0" text-anchor="start" font-weight="normal" fill="#2a2a2a" >F1</text>
<line x1="481.6" y1="70" x2="493.9" y2="70" stroke="#c6c5f7" stroke-width="1.0" stroke-linecap="butt"/>
<circle cx="487.75" cy="70" r="1.4" fill="#c6c5f7"/>
<text x="500.3" y="73" font-size="9.0" text-anchor="start" font-weight="normal" fill="#2a2a2a" >F2</text>
<line x1="481.6" y1="85.1" x2="493.9" y2="85.1" stroke="#ffcf00" stroke-width="1.0" stroke-linecap="butt"/>
<circle cx="487.75" cy="85.1" r="1.4" fill="#ffcf00"/>
<text x="500.3" y="88.1" font-size="9.0" text-anchor="start" font-weight="normal" fill="#2a2a2a" >F3</text>
<text x="133.4" y="198.3" font-size="9.7" text-anchor="middle" font-weight="bold" fill="#000" >(C) Amplitude sweep</text>
<polyline points="52.1,222.3 56.63,222.33 61.16,222.35 65.69,222.38 70.22,222.4 74.75,222.43 79.28,222.45 83.81,222.48 88.34,222.5 92.87,222.53 97.4,222.55 101.93,222.58 106.46,222.74 110.99,224.12 115.52,225.51 120.05,227.53 124.58,229.82 129.11,232.45 133.64,235.66 138.17,237.59 142.7,238.19 147.23,238.86 151.76,242.58 156.29,244.89 160.82,273.2 165.35,273.22 169.88,273.24 174.41,273.25 178.94,273.27 183.47,273.29 188,273.31 192.53,273.33 197.06,273.35 201.59,273.36 206.12,273.38 210.65,273.4" fill="none" stroke="#a2e4ee" stroke-width="0.9" stroke-linejoin="round" />
<circle cx="52.1" cy="222.3" r="1.25" fill="#a2e4ee"/>
<circle cx="56.63" cy="222.33" r="1.25" fill="#a2e4ee"/>
<circle cx="61.16" cy="222.35" r="1.25" fill="#a2e4ee"/>
<circle cx="65.69" cy="222.38" r="1.25" fill="#a2e4ee"/>
<circle cx="70.22" cy="222.4" r="1.25" fill="#a2e4ee"/>
<circle cx="74.75" cy="222.43" r="1.25" fill="#a2e4ee"/>
<circle cx="79.28" cy="222.45" r="1.25" fill="#a2e4ee"/>
<circle cx="83.81" cy="222.48" r="1.25" fill="#a2e4ee"/>
<circle cx="88.34" cy="222.5" r="1.25" fill="#a2e4ee"/>
<circle cx="92.87" cy="222.53" r="1.25" fill="#a2e4ee"/>
<circle cx="97.4" cy="222.55" r="1.25" fill="#a2e4ee"/>
<circle cx="101.93" cy="222.58" r="1.25" fill="#a2e4ee"/>
<circle cx="106.46" cy="222.74" r="1.25" fill="#a2e4ee"/>
<circle cx="110.99" cy="224.12" r="1.25" fill="#a2e4ee"/>
<circle cx="115.52" cy="225.51" r="1.25" fill="#a2e4ee"/>
<circle cx="120.05" cy="227.53" r="1.25" fill="#a2e4ee"/>
<circle cx="124.58" cy="229.82" r="1.25" fill="#a2e4ee"/>
<circle cx="129.11" cy="232.45" r="1.25" fill="#a2e4ee"/>
<circle cx="133.64" cy="235.66" r="1.25" fill="#a2e4ee"/>
<circle cx="138.17" cy="237.59" r="1.25" fill="#a2e4ee"/>
<circle cx="142.7" cy="238.19" r="1.25" fill="#a2e4ee"/>
<circle cx="147.23" cy="238.86" r="1.25" fill="#a2e4ee"/>
<circle cx="151.76" cy="242.58" r="1.25" fill="#a2e4ee"/>
<circle cx="156.29" cy="244.89" r="1.25" fill="#a2e4ee"/>
<circle cx="160.82" cy="273.2" r="1.25" fill="#a2e4ee"/>
<circle cx="165.35" cy="273.22" r="1.25" fill="#a2e4ee"/>
<circle cx="169.88" cy="273.24" r="1.25" fill="#a2e4ee"/>
<circle cx="174.41" cy="273.25" r="1.25" fill="#a2e4ee"/>
<circle cx="178.94" cy="273.27" r="1.25" fill="#a2e4ee"/>
<circle cx="183.47" cy="273.29" r="1.25" fill="#a2e4ee"/>
<circle cx="188" cy="273.31" r="1.25" fill="#a2e4ee"/>
<circle cx="192.53" cy="273.33" r="1.25" fill="#a2e4ee"/>
<circle cx="197.06" cy="273.35" r="1.25" fill="#a2e4ee"/>
<circle cx="201.59" cy="273.36" r="1.25" fill="#a2e4ee"/>
<circle cx="206.12" cy="273.38" r="1.25" fill="#a2e4ee"/>
<circle cx="210.65" cy="273.4" r="1.25" fill="#a2e4ee"/>
<line x1="110.99" y1="226" x2="110.99" y2="230" stroke="#1ec2be" stroke-width="0.9" stroke-linecap="butt"/>
<line x1="109.79" y1="226" x2="112.19" y2="226" stroke="#1ec2be" stroke-width="0.9" stroke-linecap="butt"/>
<line x1="109.79" y1="230" x2="112.19" y2="230" stroke="#1ec2be" stroke-width="0.9" stroke-linecap="butt"/>
<line x1="115.52" y1="227" x2="115.52" y2="233" stroke="#1ec2be" stroke-width="0.9" stroke-linecap="butt"/>
<line x1="114.32" y1="227" x2="116.72" y2="227" stroke="#1ec2be" stroke-width="0.9" stroke-linecap="butt"/>
<line x1="114.32" y1="233" x2="116.72" y2="233" stroke="#1ec2be" stroke-width="0.9" stroke-linecap="butt"/>
<line x1="120.05" y1="228" x2="120.05" y2="235" stroke="#1ec2be" stroke-width="0.9" stroke-linecap="butt"/>
<line x1="118.85" y1="228" x2="121.25" y2="228" stroke="#1ec2be" stroke-width="0.9" stroke-linecap="butt"/>
<line x1="118.85" y1="235" x2="121.25" y2="235" stroke="#1ec2be" stroke-width="0.9" stroke-linecap="butt"/>
<line x1="124.58" y1="229" x2="124.58" y2="236" stroke="#1ec2be" stroke-width="0.9" stroke-linecap="butt"/>
<line x1="123.38" y1="229" x2="125.78" y2="229" stroke="#1ec2be" stroke-width="0.9" stroke-linecap="butt"/>
<line x1="123.38" y1="236" x2="125.78" y2="236" stroke="#1ec2be" stroke-width="0.9" stroke-linecap="butt"/>
<line x1="129.11" y1="230.3" x2="129.11" y2="240.2" stroke="#1ec2be" stroke-width="0.9" stroke-linecap="butt"/>
<line x1="127.91" y1="230.3" x2="130.31" y2="230.3" stroke="#1ec2be" stroke-width="0.9" stroke-linecap="butt"/>
<line x1="127.91" y1="240.2" x2="130.31" y2="240.2" stroke="#1ec2be" stroke-width="0.9" stroke-linecap="butt"/>
<line x1="133.64" y1="232.9" x2="133.64" y2="243.6" stroke="#1ec2be" stroke-width="0.9" stroke-linecap="butt"/>
<line x1="132.44" y1="232.9" x2="134.84" y2="232.9" stroke="#1ec2be" stroke-width="0.9" stroke-linecap="butt"/>
<line x1="132.44" y1="243.6" x2="134.84" y2="243.6" stroke="#1ec2be" stroke-width="0.9" stroke-linecap="butt"/>
<line x1="138.17" y1="234.3" x2="138.17" y2="246.9" stroke="#1ec2be" stroke-width="0.9" stroke-linecap="butt"/>
<line x1="136.97" y1="234.3" x2="139.37" y2="234.3" stroke="#1ec2be" stroke-width="0.9" stroke-linecap="butt"/>
<line x1="136.97" y1="246.9" x2="139.37" y2="246.9" stroke="#1ec2be" stroke-width="0.9" stroke-linecap="butt"/>
<line x1="142.7" y1="235" x2="142.7" y2="247" stroke="#1ec2be" stroke-width="0.9" stroke-linecap="butt"/>
<line x1="141.5" y1="235" x2="143.9" y2="235" stroke="#1ec2be" stroke-width="0.9" stroke-linecap="butt"/>
<line x1="141.5" y1="247" x2="143.9" y2="247" stroke="#1ec2be" stroke-width="0.9" stroke-linecap="butt"/>
<line x1="147.23" y1="235.5" x2="147.23" y2="247.5" stroke="#1ec2be" stroke-width="0.9" stroke-linecap="butt"/>
<line x1="146.03" y1="235.5" x2="148.43" y2="235.5" stroke="#1ec2be" stroke-width="0.9" stroke-linecap="butt"/>
<line x1="146.03" y1="247.5" x2="148.43" y2="247.5" stroke="#1ec2be" stroke-width="0.9" stroke-linecap="butt"/>
<line x1="151.76" y1="238.9" x2="151.76" y2="272.4" stroke="#1ec2be" stroke-width="0.9" stroke-linecap="butt"/>
<line x1="150.56" y1="238.9" x2="152.96" y2="238.9" stroke="#1ec2be" stroke-width="0.9" stroke-linecap="butt"/>
<line x1="150.56" y1="272.4" x2="152.96" y2="272.4" stroke="#1ec2be" stroke-width="0.9" stroke-linecap="butt"/>
<line x1="156.29" y1="240.2" x2="156.29" y2="272.4" stroke="#1ec2be" stroke-width="0.9" stroke-linecap="butt"/>
<line x1="155.09" y1="240.2" x2="157.49" y2="240.2" stroke="#1ec2be" stroke-width="0.9" stroke-linecap="butt"/>
<line x1="155.09" y1="272.4" x2="157.49" y2="272.4" stroke="#1ec2be" stroke-width="0.9" stroke-linecap="butt"/>
<polyline points="52.1,229.1 56.63,229.13 61.16,229.16 65.69,229.19 70.22,229.22 74.75,229.25 79.28,229.28 83.81,229.31 88.34,229.34 92.87,229.37 97.4,229.51 101.93,230.81 106.46,232.34 110.99,233.6 115.52,233.75 120.05,233.9 124.58,234.3 129.11,236.21 133.64,240.21 138.17,241.29 142.7,241.6 147.23,242.22 151.76,244.88 156.29,246.9 160.82,252.21 165.35,253.4 169.88,253.48 174.41,253.56 178.94,253.64 183.47,253.72 188,253.8 192.53,253.88 197.06,253.96 201.59,254.04 206.12,254.12 210.65,254.2" fill="none" stroke="#ff85f8" stroke-width="0.95" stroke-linejoin="round" />
<circle cx="52.1" cy="229.1" r="1.2" fill="#ff85f8"/>
<circle cx="56.63" cy="229.13" r="1.2" fill="#ff85f8"/>
<circle cx="61.16" cy="229.16" r="1.2" fill="#ff85f8"/>
<circle cx="65.69" cy="229.19" r="1.2" fill="#ff85f8"/>
<circle cx="70.22" cy="229.22" r="1.2" fill="#ff85f8"/>
<circle cx="74.75" cy="229.25" r="1.2" fill="#ff85f8"/>
<circle cx="79.28" cy="229.28" r="1.2" fill="#ff85f8"/>
<circle cx="83.81" cy="229.31" r="1.2" fill="#ff85f8"/>
<circle cx="88.34" cy="229.34" r="1.2" fill="#ff85f8"/>
<circle cx="92.87" cy="229.37" r="1.2" fill="#ff85f8"/>
<circle cx="97.4" cy="229.51" r="1.2" fill="#ff85f8"/>
<circle cx="101.93" cy="230.81" r="1.2" fill="#ff85f8"/>
<circle cx="106.46" cy="232.34" r="1.2" fill="#ff85f8"/>
<circle cx="110.99" cy="233.6" r="1.2" fill="#ff85f8"/>
<circle cx="115.52" cy="233.75" r="1.2" fill="#ff85f8"/>
<circle cx="120.05" cy="233.9" r="1.2" fill="#ff85f8"/>
<circle cx="124.58" cy="234.3" r="1.2" fill="#ff85f8"/>
<circle cx="129.11" cy="236.21" r="1.2" fill="#ff85f8"/>
<circle cx="133.64" cy="240.21" r="1.2" fill="#ff85f8"/>
<circle cx="138.17" cy="241.29" r="1.2" fill="#ff85f8"/>
<circle cx="142.7" cy="241.6" r="1.2" fill="#ff85f8"/>
<circle cx="147.23" cy="242.22" r="1.2" fill="#ff85f8"/>
<circle cx="151.76" cy="244.88" r="1.2" fill="#ff85f8"/>
<circle cx="156.29" cy="246.9" r="1.2" fill="#ff85f8"/>
<circle cx="160.82" cy="252.21" r="1.2" fill="#ff85f8"/>
<circle cx="165.35" cy="253.4" r="1.2" fill="#ff85f8"/>
<circle cx="169.88" cy="253.48" r="1.2" fill="#ff85f8"/>
<circle cx="174.41" cy="253.56" r="1.2" fill="#ff85f8"/>
<circle cx="178.94" cy="253.64" r="1.2" fill="#ff85f8"/>
<circle cx="183.47" cy="253.72" r="1.2" fill="#ff85f8"/>
<circle cx="188" cy="253.8" r="1.2" fill="#ff85f8"/>
<circle cx="192.53" cy="253.88" r="1.2" fill="#ff85f8"/>
<circle cx="197.06" cy="253.96" r="1.2" fill="#ff85f8"/>
<circle cx="201.59" cy="254.04" r="1.2" fill="#ff85f8"/>
<circle cx="206.12" cy="254.12" r="1.2" fill="#ff85f8"/>
<circle cx="210.65" cy="254.2" r="1.2" fill="#ff85f8"/>
<line x1="101.93" y1="229" x2="101.93" y2="232" stroke="#ff85f8" stroke-width="0.8" stroke-linecap="butt"/>
<line x1="100.93" y1="229" x2="102.93" y2="229" stroke="#ff85f8" stroke-width="0.8" stroke-linecap="butt"/>
<line x1="100.93" y1="232" x2="102.93" y2="232" stroke="#ff85f8" stroke-width="0.8" stroke-linecap="butt"/>
<line x1="106.46" y1="230" x2="106.46" y2="235" stroke="#ff85f8" stroke-width="0.8" stroke-linecap="butt"/>
<line x1="105.46" y1="230" x2="107.46" y2="230" stroke="#ff85f8" stroke-width="0.8" stroke-linecap="butt"/>
<line x1="105.46" y1="235" x2="107.46" y2="235" stroke="#ff85f8" stroke-width="0.8" stroke-linecap="butt"/>
<line x1="110.99" y1="231" x2="110.99" y2="236" stroke="#ff85f8" stroke-width="0.8" stroke-linecap="butt"/>
<line x1="109.99" y1="231" x2="111.99" y2="231" stroke="#ff85f8" stroke-width="0.8" stroke-linecap="butt"/>
<line x1="109.99" y1="236" x2="111.99" y2="236" stroke="#ff85f8" stroke-width="0.8" stroke-linecap="butt"/>
<line x1="115.52" y1="231" x2="115.52" y2="237" stroke="#ff85f8" stroke-width="0.8" stroke-linecap="butt"/>
<line x1="114.52" y1="231" x2="116.52" y2="231" stroke="#ff85f8" stroke-width="0.8" stroke-linecap="butt"/>
<line x1="114.52" y1="237" x2="116.52" y2="237" stroke="#ff85f8" stroke-width="0.8" stroke-linecap="butt"/>
<line x1="120.05" y1="231" x2="120.05" y2="237" stroke="#ff85f8" stroke-width="0.8" stroke-linecap="butt"/>
<line x1="119.05" y1="231" x2="121.05" y2="231" stroke="#ff85f8" stroke-width="0.8" stroke-linecap="butt"/>
<line x1="119.05" y1="237" x2="121.05" y2="237" stroke="#ff85f8" stroke-width="0.8" stroke-linecap="butt"/>
<line x1="124.58" y1="232" x2="124.58" y2="237" stroke="#ff85f8" stroke-width="0.8" stroke-linecap="butt"/>
<line x1="123.58" y1="232" x2="125.58" y2="232" stroke="#ff85f8" stroke-width="0.8" stroke-linecap="butt"/>
<line x1="123.58" y1="237" x2="125.58" y2="237" stroke="#ff85f8" stroke-width="0.8" stroke-linecap="butt"/>
<polyline points="52.1,227.9 56.63,227.92 61.16,227.94 65.69,227.96 70.22,227.98 74.75,227.99 79.28,228.01 83.81,228.03 88.34,228.05 92.87,228.07 97.4,228.09 101.93,228.11 106.46,228.13 110.99,228.15 115.52,228.16 120.05,228.18 124.58,228.2 129.11,228.22 133.64,228.24 138.17,228.26 142.7,228.28 147.23,228.3 151.76,229.06 156.29,229.97 160.82,230.88 165.35,232.32 169.88,238.25 174.41,256.5 178.94,258.51 183.47,259.49 188,260.5 192.53,261.51 197.06,262.35 201.59,263.2 206.12,265.84 210.65,274.5" fill="none" stroke="#1ec2be" stroke-width="1.2" stroke-linejoin="round" />
<circle cx="52.1" cy="227.9" r="1.3" fill="#1ec2be"/>
<circle cx="56.63" cy="227.92" r="1.3" fill="#1ec2be"/>
<circle cx="61.16" cy="227.94" r="1.3" fill="#1ec2be"/>
<circle cx="65.69" cy="227.96" r="1.3" fill="#1ec2be"/>
<circle cx="70.22" cy="227.98" r="1.3" fill="#1ec2be"/>
<circle cx="74.75" cy="227.99" r="1.3" fill="#1ec2be"/>
<circle cx="79.28" cy="228.01" r="1.3" fill="#1ec2be"/>
<circle cx="83.81" cy="228.03" r="1.3" fill="#1ec2be"/>
<circle cx="88.34" cy="228.05" r="1.3" fill="#1ec2be"/>
<circle cx="92.87" cy="228.07" r="1.3" fill="#1ec2be"/>
<circle cx="97.4" cy="228.09" r="1.3" fill="#1ec2be"/>
<circle cx="101.93" cy="228.11" r="1.3" fill="#1ec2be"/>
<circle cx="106.46" cy="228.13" r="1.3" fill="#1ec2be"/>
<circle cx="110.99" cy="228.15" r="1.3" fill="#1ec2be"/>
<circle cx="115.52" cy="228.16" r="1.3" fill="#1ec2be"/>
<circle cx="120.05" cy="228.18" r="1.3" fill="#1ec2be"/>
<circle cx="124.58" cy="228.2" r="1.3" fill="#1ec2be"/>
<circle cx="129.11" cy="228.22" r="1.3" fill="#1ec2be"/>
<circle cx="133.64" cy="228.24" r="1.3" fill="#1ec2be"/>
<circle cx="138.17" cy="228.26" r="1.3" fill="#1ec2be"/>
<circle cx="142.7" cy="228.28" r="1.3" fill="#1ec2be"/>
<circle cx="147.23" cy="228.3" r="1.3" fill="#1ec2be"/>
<circle cx="151.76" cy="229.06" r="1.3" fill="#1ec2be"/>
<circle cx="156.29" cy="229.97" r="1.3" fill="#1ec2be"/>
<circle cx="160.82" cy="230.88" r="1.3" fill="#1ec2be"/>
<circle cx="165.35" cy="232.32" r="1.3" fill="#1ec2be"/>
<circle cx="169.88" cy="238.25" r="1.3" fill="#1ec2be"/>
<circle cx="174.41" cy="256.5" r="1.3" fill="#1ec2be"/>
<circle cx="178.94" cy="258.51" r="1.3" fill="#1ec2be"/>
<circle cx="183.47" cy="259.49" r="1.3" fill="#1ec2be"/>
<circle cx="188" cy="260.5" r="1.3" fill="#1ec2be"/>
<circle cx="192.53" cy="261.51" r="1.3" fill="#1ec2be"/>
<circle cx="197.06" cy="262.35" r="1.3" fill="#1ec2be"/>
<circle cx="201.59" cy="263.2" r="1.3" fill="#1ec2be"/>
<circle cx="206.12" cy="265.84" r="1.3" fill="#1ec2be"/>
<circle cx="210.65" cy="274.5" r="1.3" fill="#1ec2be"/>
<polyline points="52.1,225.3 56.63,225.3 61.16,225.31 65.69,225.31 70.22,225.32 74.75,225.32 79.28,225.33 83.81,225.33 88.34,225.34 92.87,225.34 97.4,225.35 101.93,225.35 106.46,225.36 110.99,225.36 115.52,225.37 120.05,225.37 124.58,225.38 129.11,225.38 133.64,225.39 138.17,225.39 142.7,225.39 147.23,225.4 151.76,226.12 156.29,227.06 160.82,228.16 165.35,229.46 169.88,236.01 174.41,269.04 178.94,287.07 183.47,294.55 188,302.2 192.53,299.3 197.06,299 201.59,295.91 206.12,311.07 210.65,303.19" fill="none" stroke="#ffcf00" stroke-width="1.0" stroke-linejoin="round" />
<circle cx="52.1" cy="225.3" r="1.15" fill="#ffcf00"/>
<circle cx="56.63" cy="225.3" r="1.15" fill="#ffcf00"/>
<circle cx="61.16" cy="225.31" r="1.15" fill="#ffcf00"/>
<circle cx="65.69" cy="225.31" r="1.15" fill="#ffcf00"/>
<circle cx="70.22" cy="225.32" r="1.15" fill="#ffcf00"/>
<circle cx="74.75" cy="225.32" r="1.15" fill="#ffcf00"/>
<circle cx="79.28" cy="225.33" r="1.15" fill="#ffcf00"/>
<circle cx="83.81" cy="225.33" r="1.15" fill="#ffcf00"/>
<circle cx="88.34" cy="225.34" r="1.15" fill="#ffcf00"/>
<circle cx="92.87" cy="225.34" r="1.15" fill="#ffcf00"/>
<circle cx="97.4" cy="225.35" r="1.15" fill="#ffcf00"/>
<circle cx="101.93" cy="225.35" r="1.15" fill="#ffcf00"/>
<circle cx="106.46" cy="225.36" r="1.15" fill="#ffcf00"/>
<circle cx="110.99" cy="225.36" r="1.15" fill="#ffcf00"/>
<circle cx="115.52" cy="225.37" r="1.15" fill="#ffcf00"/>
<circle cx="120.05" cy="225.37" r="1.15" fill="#ffcf00"/>
<circle cx="124.58" cy="225.38" r="1.15" fill="#ffcf00"/>
<circle cx="129.11" cy="225.38" r="1.15" fill="#ffcf00"/>
<circle cx="133.64" cy="225.39" r="1.15" fill="#ffcf00"/>
<circle cx="138.17" cy="225.39" r="1.15" fill="#ffcf00"/>
<circle cx="142.7" cy="225.39" r="1.15" fill="#ffcf00"/>
<circle cx="147.23" cy="225.4" r="1.15" fill="#ffcf00"/>
<circle cx="151.76" cy="226.12" r="1.15" fill="#ffcf00"/>
<circle cx="156.29" cy="227.06" r="1.15" fill="#ffcf00"/>
<circle cx="160.82" cy="228.16" r="1.15" fill="#ffcf00"/>
<circle cx="165.35" cy="229.46" r="1.15" fill="#ffcf00"/>
<circle cx="169.88" cy="236.01" r="1.15" fill="#ffcf00"/>
<circle cx="174.41" cy="269.04" r="1.15" fill="#ffcf00"/>
<circle cx="178.94" cy="287.07" r="1.15" fill="#ffcf00"/>
<circle cx="183.47" cy="294.55" r="1.15" fill="#ffcf00"/>
<circle cx="188" cy="302.2" r="1.15" fill="#ffcf00"/>
<circle cx="192.53" cy="299.3" r="1.15" fill="#ffcf00"/>
<circle cx="197.06" cy="299" r="1.15" fill="#ffcf00"/>
<circle cx="201.59" cy="295.91" r="1.15" fill="#ffcf00"/>
<circle cx="206.12" cy="311.07" r="1.15" fill="#ffcf00"/>
<circle cx="210.65" cy="303.19" r="1.15" fill="#ffcf00"/>
<polyline points="52.1,224 56.63,224.06 61.16,224.12 65.69,224.17 70.22,224.23 74.75,224.29 79.28,224.35 83.81,224.4 88.34,224.46 92.87,224.52 97.4,224.58 101.93,224.64 106.46,224.69 110.99,224.75 115.52,224.81 120.05,224.87 124.58,224.93 129.11,224.98 133.64,225.04 138.17,225.1 142.7,225.16 147.23,225.21 151.76,225.27 156.29,225.33 160.82,225.39 165.35,225.45 169.88,225.5 174.41,225.56 178.94,225.62 183.47,225.68 188,225.73 192.53,225.79 197.06,226.79 201.59,242.96 206.12,258.23 210.65,260" fill="none" stroke="#c6c5f7" stroke-width="1.0" stroke-linejoin="round" />
<circle cx="52.1" cy="224" r="1.35" fill="#c6c5f7"/>
<circle cx="56.63" cy="224.06" r="1.35" fill="#c6c5f7"/>
<circle cx="61.16" cy="224.12" r="1.35" fill="#c6c5f7"/>
<circle cx="65.69" cy="224.17" r="1.35" fill="#c6c5f7"/>
<circle cx="70.22" cy="224.23" r="1.35" fill="#c6c5f7"/>
<circle cx="74.75" cy="224.29" r="1.35" fill="#c6c5f7"/>
<circle cx="79.28" cy="224.35" r="1.35" fill="#c6c5f7"/>
<circle cx="83.81" cy="224.4" r="1.35" fill="#c6c5f7"/>
<circle cx="88.34" cy="224.46" r="1.35" fill="#c6c5f7"/>
<circle cx="92.87" cy="224.52" r="1.35" fill="#c6c5f7"/>
<circle cx="97.4" cy="224.58" r="1.35" fill="#c6c5f7"/>
<circle cx="101.93" cy="224.64" r="1.35" fill="#c6c5f7"/>
<circle cx="106.46" cy="224.69" r="1.35" fill="#c6c5f7"/>
<circle cx="110.99" cy="224.75" r="1.35" fill="#c6c5f7"/>
<circle cx="115.52" cy="224.81" r="1.35" fill="#c6c5f7"/>
<circle cx="120.05" cy="224.87" r="1.35" fill="#c6c5f7"/>
<circle cx="124.58" cy="224.93" r="1.35" fill="#c6c5f7"/>
<circle cx="129.11" cy="224.98" r="1.35" fill="#c6c5f7"/>
<circle cx="133.64" cy="225.04" r="1.35" fill="#c6c5f7"/>
<circle cx="138.17" cy="225.1" r="1.35" fill="#c6c5f7"/>
<circle cx="142.7" cy="225.16" r="1.35" fill="#c6c5f7"/>
<circle cx="147.23" cy="225.21" r="1.35" fill="#c6c5f7"/>
<circle cx="151.76" cy="225.27" r="1.35" fill="#c6c5f7"/>
<circle cx="156.29" cy="225.33" r="1.35" fill="#c6c5f7"/>
<circle cx="160.82" cy="225.39" r="1.35" fill="#c6c5f7"/>
<circle cx="165.35" cy="225.45" r="1.35" fill="#c6c5f7"/>
<circle cx="169.88" cy="225.5" r="1.35" fill="#c6c5f7"/>
<circle cx="174.41" cy="225.56" r="1.35" fill="#c6c5f7"/>
<circle cx="178.94" cy="225.62" r="1.35" fill="#c6c5f7"/>
<circle cx="183.47" cy="225.68" r="1.35" fill="#c6c5f7"/>
<circle cx="188" cy="225.73" r="1.35" fill="#c6c5f7"/>
<circle cx="192.53" cy="225.79" r="1.35" fill="#c6c5f7"/>
<circle cx="197.06" cy="226.79" r="1.35" fill="#c6c5f7"/>
<circle cx="201.59" cy="242.96" r="1.35" fill="#c6c5f7"/>
<circle cx="206.12" cy="258.23" r="1.35" fill="#c6c5f7"/>
<circle cx="210.65" cy="260" r="1.35" fill="#c6c5f7"/>
<polyline points="52.1,220.7 56.63,220.72 61.16,220.75 65.69,220.77 70.22,220.79 74.75,220.82 79.28,220.84 83.81,220.86 88.34,220.89 92.87,220.91 97.4,220.93 101.93,220.96 106.46,220.98 110.99,221 115.52,221.03 120.05,221.05 124.58,221.07 129.11,221.1 133.64,221.12 138.17,221.14 142.7,221.17 147.23,221.19 151.76,221.21 156.29,221.24 160.82,221.26 165.35,221.28 169.88,221.31 174.41,221.33 178.94,221.35 183.47,221.38 188,221.4 192.53,222.57 197.06,225.54 201.59,236.43 206.12,282.49 210.65,281.8" fill="none" stroke="#85c2f7" stroke-width="1.0" stroke-linejoin="round" />
<circle cx="52.1" cy="220.7" r="1.45" fill="#85c2f7"/>
<circle cx="56.63" cy="220.72" r="1.45" fill="#85c2f7"/>
<circle cx="61.16" cy="220.75" r="1.45" fill="#85c2f7"/>
<circle cx="65.69" cy="220.77" r="1.45" fill="#85c2f7"/>
<circle cx="70.22" cy="220.79" r="1.45" fill="#85c2f7"/>
<circle cx="74.75" cy="220.82" r="1.45" fill="#85c2f7"/>
<circle cx="79.28" cy="220.84" r="1.45" fill="#85c2f7"/>
<circle cx="83.81" cy="220.86" r="1.45" fill="#85c2f7"/>
<circle cx="88.34" cy="220.89" r="1.45" fill="#85c2f7"/>
<circle cx="92.87" cy="220.91" r="1.45" fill="#85c2f7"/>
<circle cx="97.4" cy="220.93" r="1.45" fill="#85c2f7"/>
<circle cx="101.93" cy="220.96" r="1.45" fill="#85c2f7"/>
<circle cx="106.46" cy="220.98" r="1.45" fill="#85c2f7"/>
<circle cx="110.99" cy="221" r="1.45" fill="#85c2f7"/>
<circle cx="115.52" cy="221.03" r="1.45" fill="#85c2f7"/>
<circle cx="120.05" cy="221.05" r="1.45" fill="#85c2f7"/>
<circle cx="124.58" cy="221.07" r="1.45" fill="#85c2f7"/>
<circle cx="129.11" cy="221.1" r="1.45" fill="#85c2f7"/>
<circle cx="133.64" cy="221.12" r="1.45" fill="#85c2f7"/>
<circle cx="138.17" cy="221.14" r="1.45" fill="#85c2f7"/>
<circle cx="142.7" cy="221.17" r="1.45" fill="#85c2f7"/>
<circle cx="147.23" cy="221.19" r="1.45" fill="#85c2f7"/>
<circle cx="151.76" cy="221.21" r="1.45" fill="#85c2f7"/>
<circle cx="156.29" cy="221.24" r="1.45" fill="#85c2f7"/>
<circle cx="160.82" cy="221.26" r="1.45" fill="#85c2f7"/>
<circle cx="165.35" cy="221.28" r="1.45" fill="#85c2f7"/>
<circle cx="169.88" cy="221.31" r="1.45" fill="#85c2f7"/>
<circle cx="174.41" cy="221.33" r="1.45" fill="#85c2f7"/>
<circle cx="178.94" cy="221.35" r="1.45" fill="#85c2f7"/>
<circle cx="183.47" cy="221.38" r="1.45" fill="#85c2f7"/>
<circle cx="188" cy="221.4" r="1.45" fill="#85c2f7"/>
<circle cx="192.53" cy="222.57" r="1.45" fill="#85c2f7"/>
<circle cx="197.06" cy="225.54" r="1.45" fill="#85c2f7"/>
<circle cx="201.59" cy="236.43" r="1.45" fill="#85c2f7"/>
<circle cx="206.12" cy="282.49" r="1.45" fill="#85c2f7"/>
<circle cx="210.65" cy="281.8" r="1.45" fill="#85c2f7"/>
<rect x="49.3" y="212.9" width="167.6" height="111.6" fill="none" stroke="#111" stroke-width="1.8"/>
<line x1="44.5" y1="224.4" x2="49.3" y2="224.4" stroke="#111" stroke-width="1.5" stroke-linecap="butt"/>
<text x="44.1" y="227.5" font-size="9.4" text-anchor="end" font-weight="bold" fill="#000" >10,000</text>
<line x1="44.5" y1="258.2" x2="49.3" y2="258.2" stroke="#111" stroke-width="1.5" stroke-linecap="butt"/>
<text x="44.1" y="261.3" font-size="9.4" text-anchor="end" font-weight="bold" fill="#000" >100</text>
<line x1="44.5" y1="291.6" x2="49.3" y2="291.6" stroke="#111" stroke-width="1.5" stroke-linecap="butt"/>
<text x="44.1" y="294.7" font-size="9.4" text-anchor="end" font-weight="bold" fill="#000" >1</text>
<line x1="44.5" y1="324.5" x2="49.3" y2="324.5" stroke="#111" stroke-width="1.5" stroke-linecap="butt"/>
<text x="44.1" y="327.6" font-size="9.4" text-anchor="end" font-weight="bold" fill="#000" >0.01</text>
<line x1="49.3" y1="324.5" x2="49.3" y2="329.5" stroke="#111" stroke-width="1.5" stroke-linecap="butt"/>
<text x="49.3" y="339.5" font-size="9.4" text-anchor="middle" font-weight="bold" fill="#000" >1</text>
<line x1="100.2" y1="324.5" x2="100.2" y2="329.5" stroke="#111" stroke-width="1.5" stroke-linecap="butt"/>
<text x="100.2" y="339.5" font-size="9.4" text-anchor="middle" font-weight="bold" fill="#000" >10</text>
<line x1="151.1" y1="324.5" x2="151.1" y2="329.5" stroke="#111" stroke-width="1.5" stroke-linecap="butt"/>
<text x="151.1" y="339.5" font-size="9.4" text-anchor="middle" font-weight="bold" fill="#000" >100</text>
<line x1="202" y1="324.5" x2="202" y2="329.5" stroke="#111" stroke-width="1.5" stroke-linecap="butt"/>
<text x="202" y="339.5" font-size="9.4" text-anchor="middle" font-weight="bold" fill="#000" >1000</text>
<g transform="translate(94,353.6)"><text x="0" y="0" font-size="9.5" font-weight="bold">Shear stress</text><text x="53.2" y="0" font-size="10.3" font-weight="bold">τ</text><text x="61.4" y="0" font-size="9.5" font-weight="bold">(Pa)</text></g>
<text transform="translate(11.2,267) rotate(-90)" font-size="9.5" text-anchor="middle" font-weight="bold">G' G'' (Pa)</text>
<text x="379.1" y="198.3" font-size="9.7" text-anchor="middle" font-weight="bold" fill="#000" >(D) Frequency sweep</text>
<line x1="427.38" y1="271.8" x2="427.38" y2="275.4" stroke="#ff85f8" stroke-width="0.9" stroke-linecap="butt"/>
<line x1="426.08" y1="271.8" x2="428.68" y2="271.8" stroke="#ff85f8" stroke-width="0.9" stroke-linecap="butt"/>
<line x1="426.08" y1="275.4" x2="428.68" y2="275.4" stroke="#ff85f8" stroke-width="0.9" stroke-linecap="butt"/>
<line x1="436.44" y1="274.8" x2="436.44" y2="277.2" stroke="#ff85f8" stroke-width="0.9" stroke-linecap="butt"/>
<line x1="435.14" y1="274.8" x2="437.74" y2="274.8" stroke="#ff85f8" stroke-width="0.9" stroke-linecap="butt"/>
<line x1="435.14" y1="277.2" x2="437.74" y2="277.2" stroke="#ff85f8" stroke-width="0.9" stroke-linecap="butt"/>
<line x1="445.5" y1="274.1" x2="445.5" y2="277.1" stroke="#ff85f8" stroke-width="0.9" stroke-linecap="butt"/>
<line x1="444.2" y1="274.1" x2="446.8" y2="274.1" stroke="#ff85f8" stroke-width="0.9" stroke-linecap="butt"/>
<line x1="444.2" y1="277.1" x2="446.8" y2="277.1" stroke="#ff85f8" stroke-width="0.9" stroke-linecap="butt"/>
<line x1="454.56" y1="272.8" x2="454.56" y2="279.8" stroke="#ff85f8" stroke-width="0.9" stroke-linecap="butt"/>
<line x1="453.26" y1="272.8" x2="455.86" y2="272.8" stroke="#ff85f8" stroke-width="0.9" stroke-linecap="butt"/>
<line x1="453.26" y1="279.8" x2="455.86" y2="279.8" stroke="#ff85f8" stroke-width="0.9" stroke-linecap="butt"/>
<polyline points="309.6,308.5 318.66,299.7 327.72,294.5 336.78,292.8 345.84,290.3 354.9,288.6 363.96,288.2 373.02,283 382.08,280.9 391.14,280.3 400.2,279.2 409.26,279.4 418.32,278.2 427.38,273.6 436.44,276 445.5,275.6 454.56,276.3" fill="none" stroke="#ff85f8" stroke-width="1.05" stroke-linejoin="round" />
<circle cx="309.6" cy="308.5" r="1.25" fill="#ff85f8"/>
<circle cx="318.66" cy="299.7" r="1.25" fill="#ff85f8"/>
<circle cx="327.72" cy="294.5" r="1.25" fill="#ff85f8"/>
<circle cx="336.78" cy="292.8" r="1.25" fill="#ff85f8"/>
<circle cx="345.84" cy="290.3" r="1.25" fill="#ff85f8"/>
<circle cx="354.9" cy="288.6" r="1.25" fill="#ff85f8"/>
<circle cx="363.96" cy="288.2" r="1.25" fill="#ff85f8"/>
<circle cx="373.02" cy="283" r="1.25" fill="#ff85f8"/>
<circle cx="382.08" cy="280.9" r="1.25" fill="#ff85f8"/>
<circle cx="391.14" cy="280.3" r="1.25" fill="#ff85f8"/>
<circle cx="400.2" cy="279.2" r="1.25" fill="#ff85f8"/>
<circle cx="409.26" cy="279.4" r="1.25" fill="#ff85f8"/>
<circle cx="418.32" cy="278.2" r="1.25" fill="#ff85f8"/>
<circle cx="427.38" cy="273.6" r="1.25" fill="#ff85f8"/>
<circle cx="436.44" cy="276" r="1.25" fill="#ff85f8"/>
<circle cx="445.5" cy="275.6" r="1.25" fill="#ff85f8"/>
<circle cx="454.56" cy="276.3" r="1.25" fill="#ff85f8"/>
<line x1="309.6" y1="292.8" x2="309.6" y2="295.8" stroke="#a2e4ee" stroke-width="0.9" stroke-linecap="butt"/>
<line x1="308.3" y1="292.8" x2="310.9" y2="292.8" stroke="#a2e4ee" stroke-width="0.9" stroke-linecap="butt"/>
<line x1="308.3" y1="295.8" x2="310.9" y2="295.8" stroke="#a2e4ee" stroke-width="0.9" stroke-linecap="butt"/>
<line x1="418.32" y1="254.7" x2="418.32" y2="257.1" stroke="#a2e4ee" stroke-width="0.9" stroke-linecap="butt"/>
<line x1="417.02" y1="254.7" x2="419.62" y2="254.7" stroke="#a2e4ee" stroke-width="0.9" stroke-linecap="butt"/>
<line x1="417.02" y1="257.1" x2="419.62" y2="257.1" stroke="#a2e4ee" stroke-width="0.9" stroke-linecap="butt"/>
<line x1="427.38" y1="247.5" x2="427.38" y2="250.5" stroke="#a2e4ee" stroke-width="0.9" stroke-linecap="butt"/>
<line x1="426.08" y1="247.5" x2="428.68" y2="247.5" stroke="#a2e4ee" stroke-width="0.9" stroke-linecap="butt"/>
<line x1="426.08" y1="250.5" x2="428.68" y2="250.5" stroke="#a2e4ee" stroke-width="0.9" stroke-linecap="butt"/>
<line x1="436.44" y1="248.3" x2="436.44" y2="251.3" stroke="#a2e4ee" stroke-width="0.9" stroke-linecap="butt"/>
<line x1="435.14" y1="248.3" x2="437.74" y2="248.3" stroke="#a2e4ee" stroke-width="0.9" stroke-linecap="butt"/>
<line x1="435.14" y1="251.3" x2="437.74" y2="251.3" stroke="#a2e4ee" stroke-width="0.9" stroke-linecap="butt"/>
<line x1="445.5" y1="244.2" x2="445.5" y2="249.2" stroke="#a2e4ee" stroke-width="0.9" stroke-linecap="butt"/>
<line x1="444.2" y1="244.2" x2="446.8" y2="244.2" stroke="#a2e4ee" stroke-width="0.9" stroke-linecap="butt"/>
<line x1="444.2" y1="249.2" x2="446.8" y2="249.2" stroke="#a2e4ee" stroke-width="0.9" stroke-linecap="butt"/>
<line x1="454.56" y1="244.5" x2="454.56" y2="253.5" stroke="#a2e4ee" stroke-width="0.9" stroke-linecap="butt"/>
<line x1="453.26" y1="244.5" x2="455.86" y2="244.5" stroke="#a2e4ee" stroke-width="0.9" stroke-linecap="butt"/>
<line x1="453.26" y1="253.5" x2="455.86" y2="253.5" stroke="#a2e4ee" stroke-width="0.9" stroke-linecap="butt"/>
<polyline points="309.6,294.3 318.66,288 327.72,282.8 336.78,279.1 345.84,277 354.9,276.6 363.96,275.1 373.02,265.7 382.08,262.6 391.14,260.5 400.2,258.8 409.26,255.9 418.32,255.9 427.38,249 436.44,249.8 445.5,246.7 454.56,249" fill="none" stroke="#a2e4ee" stroke-width="1.05" stroke-linejoin="round" />
<circle cx="309.6" cy="294.3" r="1.25" fill="#a2e4ee"/>
<circle cx="318.66" cy="288" r="1.25" fill="#a2e4ee"/>
<circle cx="327.72" cy="282.8" r="1.25" fill="#a2e4ee"/>
<circle cx="336.78" cy="279.1" r="1.25" fill="#a2e4ee"/>
<circle cx="345.84" cy="277" r="1.25" fill="#a2e4ee"/>
<circle cx="354.9" cy="276.6" r="1.25" fill="#a2e4ee"/>
<circle cx="363.96" cy="275.1" r="1.25" fill="#a2e4ee"/>
<circle cx="373.02" cy="265.7" r="1.25" fill="#a2e4ee"/>
<circle cx="382.08" cy="262.6" r="1.25" fill="#a2e4ee"/>
<circle cx="391.14" cy="260.5" r="1.25" fill="#a2e4ee"/>
<circle cx="400.2" cy="258.8" r="1.25" fill="#a2e4ee"/>
<circle cx="409.26" cy="255.9" r="1.25" fill="#a2e4ee"/>
<circle cx="418.32" cy="255.9" r="1.25" fill="#a2e4ee"/>
<circle cx="427.38" cy="249" r="1.25" fill="#a2e4ee"/>
<circle cx="436.44" cy="249.8" r="1.25" fill="#a2e4ee"/>
<circle cx="445.5" cy="246.7" r="1.25" fill="#a2e4ee"/>
<circle cx="454.56" cy="249" r="1.25" fill="#a2e4ee"/>
<line x1="418.32" y1="258.9" x2="418.32" y2="261.9" stroke="#c6c5f7" stroke-width="0.9" stroke-linecap="butt"/>
<line x1="417.02" y1="258.9" x2="419.62" y2="258.9" stroke="#c6c5f7" stroke-width="0.9" stroke-linecap="butt"/>
<line x1="417.02" y1="261.9" x2="419.62" y2="261.9" stroke="#c6c5f7" stroke-width="0.9" stroke-linecap="butt"/>
<line x1="427.38" y1="251.4" x2="427.38" y2="255.8" stroke="#c6c5f7" stroke-width="0.9" stroke-linecap="butt"/>
<line x1="426.08" y1="251.4" x2="428.68" y2="251.4" stroke="#c6c5f7" stroke-width="0.9" stroke-linecap="butt"/>
<line x1="426.08" y1="255.8" x2="428.68" y2="255.8" stroke="#c6c5f7" stroke-width="0.9" stroke-linecap="butt"/>
<line x1="436.44" y1="251.4" x2="436.44" y2="255.8" stroke="#c6c5f7" stroke-width="0.9" stroke-linecap="butt"/>
<line x1="435.14" y1="251.4" x2="437.74" y2="251.4" stroke="#c6c5f7" stroke-width="0.9" stroke-linecap="butt"/>
<line x1="435.14" y1="255.8" x2="437.74" y2="255.8" stroke="#c6c5f7" stroke-width="0.9" stroke-linecap="butt"/>
<line x1="445.5" y1="237.5" x2="445.5" y2="251.5" stroke="#c6c5f7" stroke-width="0.9" stroke-linecap="butt"/>
<line x1="444.2" y1="237.5" x2="446.8" y2="237.5" stroke="#c6c5f7" stroke-width="0.9" stroke-linecap="butt"/>
<line x1="444.2" y1="251.5" x2="446.8" y2="251.5" stroke="#c6c5f7" stroke-width="0.9" stroke-linecap="butt"/>
<line x1="454.56" y1="244.8" x2="454.56" y2="254.8" stroke="#c6c5f7" stroke-width="0.9" stroke-linecap="butt"/>
<line x1="453.26" y1="244.8" x2="455.86" y2="244.8" stroke="#c6c5f7" stroke-width="0.9" stroke-linecap="butt"/>
<line x1="453.26" y1="254.8" x2="455.86" y2="254.8" stroke="#c6c5f7" stroke-width="0.9" stroke-linecap="butt"/>
<polyline points="309.6,280.8 318.66,277.6 327.72,275.1 336.78,271 345.84,266.8 354.9,265.7 363.96,264 373.02,262 382.08,260.5 391.14,258.8 400.2,258.4 409.26,257.4 418.32,260.4 427.38,253.6 436.44,253.6 445.5,244.5 454.56,249.8" fill="none" stroke="#c6c5f7" stroke-width="1.05" stroke-linejoin="round" />
<circle cx="309.6" cy="280.8" r="1.25" fill="#c6c5f7"/>
<circle cx="318.66" cy="277.6" r="1.25" fill="#c6c5f7"/>
<circle cx="327.72" cy="275.1" r="1.25" fill="#c6c5f7"/>
<circle cx="336.78" cy="271" r="1.25" fill="#c6c5f7"/>
<circle cx="345.84" cy="266.8" r="1.25" fill="#c6c5f7"/>
<circle cx="354.9" cy="265.7" r="1.25" fill="#c6c5f7"/>
<circle cx="363.96" cy="264" r="1.25" fill="#c6c5f7"/>
<circle cx="373.02" cy="262" r="1.25" fill="#c6c5f7"/>
<circle cx="382.08" cy="260.5" r="1.25" fill="#c6c5f7"/>
<circle cx="391.14" cy="258.8" r="1.25" fill="#c6c5f7"/>
<circle cx="400.2" cy="258.4" r="1.25" fill="#c6c5f7"/>
<circle cx="409.26" cy="257.4" r="1.25" fill="#c6c5f7"/>
<circle cx="418.32" cy="260.4" r="1.25" fill="#c6c5f7"/>
<circle cx="427.38" cy="253.6" r="1.25" fill="#c6c5f7"/>
<circle cx="436.44" cy="253.6" r="1.25" fill="#c6c5f7"/>
<circle cx="445.5" cy="244.5" r="1.25" fill="#c6c5f7"/>
<circle cx="454.56" cy="249.8" r="1.25" fill="#c6c5f7"/>
<line x1="418.32" y1="268" x2="418.32" y2="271" stroke="#1ec2be" stroke-width="0.9" stroke-linecap="butt"/>
<line x1="417.02" y1="268" x2="419.62" y2="268" stroke="#1ec2be" stroke-width="0.9" stroke-linecap="butt"/>
<line x1="417.02" y1="271" x2="419.62" y2="271" stroke="#1ec2be" stroke-width="0.9" stroke-linecap="butt"/>
<line x1="427.38" y1="258.7" x2="427.38" y2="266.7" stroke="#1ec2be" stroke-width="0.9" stroke-linecap="butt"/>
<line x1="426.08" y1="258.7" x2="428.68" y2="258.7" stroke="#1ec2be" stroke-width="0.9" stroke-linecap="butt"/>
<line x1="426.08" y1="266.7" x2="428.68" y2="266.7" stroke="#1ec2be" stroke-width="0.9" stroke-linecap="butt"/>
<line x1="436.44" y1="263.2" x2="436.44" y2="268.2" stroke="#1ec2be" stroke-width="0.9" stroke-linecap="butt"/>
<line x1="435.14" y1="263.2" x2="437.74" y2="263.2" stroke="#1ec2be" stroke-width="0.9" stroke-linecap="butt"/>
<line x1="435.14" y1="268.2" x2="437.74" y2="268.2" stroke="#1ec2be" stroke-width="0.9" stroke-linecap="butt"/>
<line x1="445.5" y1="261.5" x2="445.5" y2="271.5" stroke="#1ec2be" stroke-width="0.9" stroke-linecap="butt"/>
<line x1="444.2" y1="261.5" x2="446.8" y2="261.5" stroke="#1ec2be" stroke-width="0.9" stroke-linecap="butt"/>
<line x1="444.2" y1="271.5" x2="446.8" y2="271.5" stroke="#1ec2be" stroke-width="0.9" stroke-linecap="butt"/>
<line x1="454.56" y1="266.3" x2="454.56" y2="274.3" stroke="#1ec2be" stroke-width="0.9" stroke-linecap="butt"/>
<line x1="453.26" y1="266.3" x2="455.86" y2="266.3" stroke="#1ec2be" stroke-width="0.9" stroke-linecap="butt"/>
<line x1="453.26" y1="274.3" x2="455.86" y2="274.3" stroke="#1ec2be" stroke-width="0.9" stroke-linecap="butt"/>
<polyline points="309.6,288 318.66,284.5 327.72,281.2 336.78,278 345.84,275.5 354.9,273.7 363.96,271.4 373.02,269.7 382.08,268.7 391.14,267.6 400.2,267.2 409.26,267.2 418.32,269.5 427.38,262.7 436.44,265.7 445.5,266.5 454.56,270.3" fill="none" stroke="#1ec2be" stroke-width="1.2" stroke-linejoin="round" />
<circle cx="309.6" cy="288" r="1.25" fill="#1ec2be"/>
<circle cx="318.66" cy="284.5" r="1.25" fill="#1ec2be"/>
<circle cx="327.72" cy="281.2" r="1.25" fill="#1ec2be"/>
<circle cx="336.78" cy="278" r="1.25" fill="#1ec2be"/>
<circle cx="345.84" cy="275.5" r="1.25" fill="#1ec2be"/>
<circle cx="354.9" cy="273.7" r="1.25" fill="#1ec2be"/>
<circle cx="363.96" cy="271.4" r="1.25" fill="#1ec2be"/>
<circle cx="373.02" cy="269.7" r="1.25" fill="#1ec2be"/>
<circle cx="382.08" cy="268.7" r="1.25" fill="#1ec2be"/>
<circle cx="391.14" cy="267.6" r="1.25" fill="#1ec2be"/>
<circle cx="400.2" cy="267.2" r="1.25" fill="#1ec2be"/>
<circle cx="409.26" cy="267.2" r="1.25" fill="#1ec2be"/>
<circle cx="418.32" cy="269.5" r="1.25" fill="#1ec2be"/>
<circle cx="427.38" cy="262.7" r="1.25" fill="#1ec2be"/>
<circle cx="436.44" cy="265.7" r="1.25" fill="#1ec2be"/>
<circle cx="445.5" cy="266.5" r="1.25" fill="#1ec2be"/>
<circle cx="454.56" cy="270.3" r="1.25" fill="#1ec2be"/>
<line x1="445.5" y1="232.6" x2="445.5" y2="235.6" stroke="#ffcf00" stroke-width="0.9" stroke-linecap="butt"/>
<line x1="444.2" y1="232.6" x2="446.8" y2="232.6" stroke="#ffcf00" stroke-width="0.9" stroke-linecap="butt"/>
<line x1="444.2" y1="235.6" x2="446.8" y2="235.6" stroke="#ffcf00" stroke-width="0.9" stroke-linecap="butt"/>
<line x1="454.56" y1="235.1" x2="454.56" y2="237.1" stroke="#ffcf00" stroke-width="0.9" stroke-linecap="butt"/>
<line x1="453.26" y1="235.1" x2="455.86" y2="235.1" stroke="#ffcf00" stroke-width="0.9" stroke-linecap="butt"/>
<line x1="453.26" y1="237.1" x2="455.86" y2="237.1" stroke="#ffcf00" stroke-width="0.9" stroke-linecap="butt"/>
<polyline points="309.6,282.2 318.66,276.6 327.72,272.4 336.78,268.2 345.84,264 354.9,259.9 363.96,256.1 373.02,252.6 382.08,249 391.14,245.9 400.2,243.4 409.26,241.4 418.32,239.9 427.38,237.2 436.44,237.2 445.5,234.1 454.56,236.1" fill="none" stroke="#ffcf00" stroke-width="1.05" stroke-linejoin="round" />
<circle cx="309.6" cy="282.2" r="1.25" fill="#ffcf00"/>
<circle cx="318.66" cy="276.6" r="1.25" fill="#ffcf00"/>
<circle cx="327.72" cy="272.4" r="1.25" fill="#ffcf00"/>
<circle cx="336.78" cy="268.2" r="1.25" fill="#ffcf00"/>
<circle cx="345.84" cy="264" r="1.25" fill="#ffcf00"/>
<circle cx="354.9" cy="259.9" r="1.25" fill="#ffcf00"/>
<circle cx="363.96" cy="256.1" r="1.25" fill="#ffcf00"/>
<circle cx="373.02" cy="252.6" r="1.25" fill="#ffcf00"/>
<circle cx="382.08" cy="249" r="1.25" fill="#ffcf00"/>
<circle cx="391.14" cy="245.9" r="1.25" fill="#ffcf00"/>
<circle cx="400.2" cy="243.4" r="1.25" fill="#ffcf00"/>
<circle cx="409.26" cy="241.4" r="1.25" fill="#ffcf00"/>
<circle cx="418.32" cy="239.9" r="1.25" fill="#ffcf00"/>
<circle cx="427.38" cy="237.2" r="1.25" fill="#ffcf00"/>
<circle cx="436.44" cy="237.2" r="1.25" fill="#ffcf00"/>
<circle cx="445.5" cy="234.1" r="1.25" fill="#ffcf00"/>
<circle cx="454.56" cy="236.1" r="1.25" fill="#ffcf00"/>
<line x1="427.38" y1="225.5" x2="427.38" y2="228.5" stroke="#85c2f7" stroke-width="0.9" stroke-linecap="butt"/>
<line x1="426.08" y1="225.5" x2="428.68" y2="225.5" stroke="#85c2f7" stroke-width="0.9" stroke-linecap="butt"/>
<line x1="426.08" y1="228.5" x2="428.68" y2="228.5" stroke="#85c2f7" stroke-width="0.9" stroke-linecap="butt"/>
<line x1="436.44" y1="225.2" x2="436.44" y2="228.8" stroke="#85c2f7" stroke-width="0.9" stroke-linecap="butt"/>
<line x1="435.14" y1="225.2" x2="437.74" y2="225.2" stroke="#85c2f7" stroke-width="0.9" stroke-linecap="butt"/>
<line x1="435.14" y1="228.8" x2="437.74" y2="228.8" stroke="#85c2f7" stroke-width="0.9" stroke-linecap="butt"/>
<line x1="445.5" y1="217.5" x2="445.5" y2="224.5" stroke="#85c2f7" stroke-width="0.9" stroke-linecap="butt"/>
<line x1="444.2" y1="217.5" x2="446.8" y2="217.5" stroke="#85c2f7" stroke-width="0.9" stroke-linecap="butt"/>
<line x1="444.2" y1="224.5" x2="446.8" y2="224.5" stroke="#85c2f7" stroke-width="0.9" stroke-linecap="butt"/>
<line x1="454.56" y1="224.8" x2="454.56" y2="230.8" stroke="#85c2f7" stroke-width="0.9" stroke-linecap="butt"/>
<line x1="453.26" y1="224.8" x2="455.86" y2="224.8" stroke="#85c2f7" stroke-width="0.9" stroke-linecap="butt"/>
<line x1="453.26" y1="230.8" x2="455.86" y2="230.8" stroke="#85c2f7" stroke-width="0.9" stroke-linecap="butt"/>
<polyline points="309.6,267.8 318.66,264.5 327.72,260.9 336.78,257.2 345.84,253.6 354.9,249.4 363.96,245.9 373.02,242.3 382.08,239.4 391.14,236.3 400.2,233.8 409.26,231.6 418.32,230.8 427.38,227 436.44,227 445.5,221 454.56,227.8" fill="none" stroke="#85c2f7" stroke-width="1.05" stroke-linejoin="round" />
<circle cx="309.6" cy="267.8" r="1.25" fill="#85c2f7"/>
<circle cx="318.66" cy="264.5" r="1.25" fill="#85c2f7"/>
<circle cx="327.72" cy="260.9" r="1.25" fill="#85c2f7"/>
<circle cx="336.78" cy="257.2" r="1.25" fill="#85c2f7"/>
<circle cx="345.84" cy="253.6" r="1.25" fill="#85c2f7"/>
<circle cx="354.9" cy="249.4" r="1.25" fill="#85c2f7"/>
<circle cx="363.96" cy="245.9" r="1.25" fill="#85c2f7"/>
<circle cx="373.02" cy="242.3" r="1.25" fill="#85c2f7"/>
<circle cx="382.08" cy="239.4" r="1.25" fill="#85c2f7"/>
<circle cx="391.14" cy="236.3" r="1.25" fill="#85c2f7"/>
<circle cx="400.2" cy="233.8" r="1.25" fill="#85c2f7"/>
<circle cx="409.26" cy="231.6" r="1.25" fill="#85c2f7"/>
<circle cx="418.32" cy="230.8" r="1.25" fill="#85c2f7"/>
<circle cx="427.38" cy="227" r="1.25" fill="#85c2f7"/>
<circle cx="436.44" cy="227" r="1.25" fill="#85c2f7"/>
<circle cx="445.5" cy="221" r="1.25" fill="#85c2f7"/>
<circle cx="454.56" cy="227.8" r="1.25" fill="#85c2f7"/>
<rect x="295.8" y="214.7" width="168" height="111.4" fill="none" stroke="#111" stroke-width="1.8"/>
<line x1="291" y1="268.7" x2="295.8" y2="268.7" stroke="#111" stroke-width="1.5" stroke-linecap="butt"/>
<text x="290.1" y="271.8" font-size="9.4" text-anchor="end" font-weight="bold" fill="#000" >10,000</text>
<line x1="291" y1="326.1" x2="295.8" y2="326.1" stroke="#111" stroke-width="1.5" stroke-linecap="butt"/>
<text x="290.1" y="329.2" font-size="9.4" text-anchor="end" font-weight="bold" fill="#000" >1,000</text>
<line x1="300.4" y1="326.1" x2="300.4" y2="331.1" stroke="#111" stroke-width="1.5" stroke-linecap="butt"/>
<text x="300.4" y="341.1" font-size="9.4" text-anchor="middle" font-weight="bold" fill="#000" >0.1</text>
<line x1="354.9" y1="326.1" x2="354.9" y2="331.1" stroke="#111" stroke-width="1.5" stroke-linecap="butt"/>
<text x="354.9" y="341.1" font-size="9.4" text-anchor="middle" font-weight="bold" fill="#000" >1</text>
<line x1="409.4" y1="326.1" x2="409.4" y2="331.1" stroke="#111" stroke-width="1.5" stroke-linecap="butt"/>
<text x="409.4" y="341.1" font-size="9.4" text-anchor="middle" font-weight="bold" fill="#000" >10</text>
<line x1="463.8" y1="326.1" x2="463.8" y2="331.1" stroke="#111" stroke-width="1.5" stroke-linecap="butt"/>
<text x="463.8" y="341.1" font-size="9.4" text-anchor="middle" font-weight="bold" fill="#000" >100</text>
<text x="380.3" y="355.6" font-size="9.5" text-anchor="middle" font-weight="bold">Frequency (Hz)</text>
<text transform="translate(252.2,269) rotate(-90)" font-size="9.5" text-anchor="middle" font-weight="bold">G' G'' (Pa)</text>
<line x1="481" y1="231.4" x2="493.3" y2="231.4" stroke="#85c2f7" stroke-width="1.0" stroke-linecap="butt"/>
<circle cx="487.15" cy="231.4" r="1.4" fill="#85c2f7"/>
<text x="500.2" y="234.4" font-size="9.6" text-anchor="start" font-weight="normal" fill="#2a2a2a" >F1 G'</text>
<line x1="481" y1="246.85" x2="493.3" y2="246.85" stroke="#ffcf00" stroke-width="1.0" stroke-linecap="butt"/>
<circle cx="487.15" cy="246.85" r="1.4" fill="#ffcf00"/>
<text x="500.2" y="249.85" font-size="9.6" text-anchor="start" font-weight="normal" fill="#2a2a2a" >F2 G'</text>
<line x1="481" y1="262.3" x2="493.3" y2="262.3" stroke="#a2e4ee" stroke-width="1.0" stroke-linecap="butt"/>
<circle cx="487.15" cy="262.3" r="1.4" fill="#a2e4ee"/>
<text x="500.2" y="265.3" font-size="9.6" text-anchor="start" font-weight="normal" fill="#2a2a2a" >F3 G'</text>
<line x1="481" y1="277.75" x2="493.3" y2="277.75" stroke="#c6c5f7" stroke-width="1.0" stroke-linecap="butt"/>
<circle cx="487.15" cy="277.75" r="1.4" fill="#c6c5f7"/>
<text x="500.2" y="280.75" font-size="9.6" text-anchor="start" font-weight="normal" fill="#2a2a2a" >F1 G''</text>
<line x1="481" y1="293.2" x2="493.3" y2="293.2" stroke="#1ec2be" stroke-width="1.0" stroke-linecap="butt"/>
<circle cx="487.15" cy="293.2" r="1.4" fill="#1ec2be"/>
<text x="500.2" y="296.2" font-size="9.6" text-anchor="start" font-weight="normal" fill="#2a2a2a" >F2 G''</text>
<line x1="481" y1="308.65" x2="493.3" y2="308.65" stroke="#ff85f8" stroke-width="1.0" stroke-linecap="butt"/>
<circle cx="487.15" cy="308.65" r="1.4" fill="#ff85f8"/>
<text x="500.2" y="311.65" font-size="9.6" text-anchor="start" font-weight="normal" fill="#2a2a2a" >F3 G''</text>
<text x="128" y="388.4" font-size="9.7" text-anchor="middle" font-weight="bold" fill="#000" >(E) Creep recovery</text>
<polygon points="44.5,505.28 45,503.32 45.5,501.96 46,500.86 46.5,499.7 47,498.33 47.5,496.95 48,495.59 48.5,494.29 49,493.07 49.5,491.95 50,490.96 50.5,490.06 51,489.23 51.5,488.45 52,487.69 52.5,486.94 53,486.17 53.5,485.37 54,484.54 54.5,483.71 55,482.88 55.5,482.05 56,481.22 56.5,480.39 57,479.58 57.5,478.78 58,477.99 58.5,477.19 59,476.38 59.5,475.57 60,474.77 60.5,473.98 61,473.21 61.5,472.46 62,471.75 62.5,471.07 63,470.44 63.5,469.86 64,469.29 64.5,468.76 65,468.25 65.5,467.76 66,467.29 66.5,466.84 67,466.4 67.5,465.98 68,465.57 68.5,465.16 69,464.76 69.5,464.38 70,464 70.5,463.64 71,463.29 71.5,462.95 72,462.62 72.5,462.3 73,461.98 73.5,461.67 74,461.37 74.5,461.07 75,460.78 75.5,460.49 76,460.2 76.5,459.92 77,459.64 77.5,459.37 78,459.1 78.5,458.84 79,458.59 79.5,458.33 80,458.08 80.5,457.84 81,457.59 81.5,457.35 82,457.1 82.5,456.86 83,456.61 83.5,456.36 84,456.12 84.5,455.87 85,455.62 85.5,455.38 86,455.14 86.5,454.91 87,454.68 87.5,454.45 88,454.23 88.5,454.02 89,453.8 89.5,453.59 90,453.38 90.5,453.18 91,452.97 91.5,452.76 92,452.55 92.5,452.35 93,452.14 93.5,451.92 94,451.71 94.5,451.49 95,451.28 95.5,451.07 96,450.86 96.5,450.64 97,450.41 97.5,450.19 98,449.96 98.5,449.73 99,449.5 99.5,449.27 100,449.04 100.5,448.81 101,448.59 101.5,448.36 102,448.14 102.5,447.93 103,447.72 103.5,447.51 104,447.3 104.5,447.1 105,446.9 105.5,446.7 106,446.51 106.5,446.31 107,446.12 107.5,445.92 108,445.73 108.5,445.54 109,445.34 109.5,445.15 110,444.95 110.5,444.76 110.5,450.36 110,450.55 109.5,450.75 109,450.94 108.5,451.14 108,451.33 107.5,451.52 107,451.72 106.5,451.91 106,452.11 105.5,452.3 105,452.5 104.5,452.7 104,452.9 103.5,453.11 103,453.32 102.5,453.53 102,453.74 101.5,453.96 101,454.19 100.5,454.41 100,454.64 99.5,454.87 99,455.1 98.5,455.33 98,455.56 97.5,455.79 97,456.01 96.5,456.24 96,456.46 95.5,456.67 95,456.88 94.5,457.09 94,457.28 93.5,457.46 93,457.65 92.5,457.83 92,458 91.5,458.18 91,458.36 90.5,458.54 90,458.71 89.5,458.89 89,459.07 88.5,459.26 88,459.44 87.5,459.63 87,459.83 86.5,460.03 86,460.23 85.5,460.44 85,460.65 84.5,460.87 84,461.09 83.5,461.3 83,461.52 82.5,461.74 82,461.95 81.5,462.17 81,462.38 80.5,462.6 80,462.81 79.5,463.03 79,463.26 78.5,463.48 78,463.71 77.5,463.95 77,464.19 76.5,464.44 76,464.69 75.5,464.95 75,465.21 74.5,465.47 74,465.74 73.5,466.01 73,466.29 72.5,466.58 72,466.87 71.5,467.17 71,467.48 70.5,467.8 70,468.13 69.5,468.48 69,468.84 68.5,469.2 68,469.58 67.5,469.96 67,470.35 66.5,470.76 66,471.18 65.5,471.62 65,472.08 64.5,472.56 64,473.06 63.5,473.6 63,474.16 62.5,474.75 62,475.4 61.5,476.08 61,476.8 60.5,477.54 60,478.3 59.5,479.07 59,479.85 58.5,480.63 58,481.4 57.5,482.16 57,482.93 56.5,483.71 56,484.51 55.5,485.31 55,486.11 54.5,486.91 54,487.71 53.5,488.51 53,489.28 52.5,490.02 52,490.74 51.5,491.47 51,492.22 50.5,493.02 50,493.89 49.5,494.85 49,495.94 48.5,497.13 48,498.4 47.5,499.73 47,501.08 46.5,502.42 46,503.55 45.5,504.62 45,505.95 44.5,507.88" fill="#c6c5f7" opacity="0.45"/>
<line x1="44.5" y1="505.28" x2="44.5" y2="507.88" stroke="#c6c5f7" stroke-width="1.0" stroke-linecap="butt"/>
<line x1="46.5" y1="499.7" x2="46.5" y2="502.42" stroke="#c6c5f7" stroke-width="1.0" stroke-linecap="butt"/>
<line x1="48.5" y1="494.29" x2="48.5" y2="497.13" stroke="#c6c5f7" stroke-width="1.0" stroke-linecap="butt"/>
<line x1="50.5" y1="490.06" x2="50.5" y2="493.02" stroke="#c6c5f7" stroke-width="1.0" stroke-linecap="butt"/>
<line x1="52.5" y1="486.94" x2="52.5" y2="490.02" stroke="#c6c5f7" stroke-width="1.0" stroke-linecap="butt"/>
<line x1="54.5" y1="483.71" x2="54.5" y2="486.91" stroke="#c6c5f7" stroke-width="1.0" stroke-linecap="butt"/>
<line x1="56.5" y1="480.39" x2="56.5" y2="483.71" stroke="#c6c5f7" stroke-width="1.0" stroke-linecap="butt"/>
<line x1="58.5" y1="477.19" x2="58.5" y2="480.63" stroke="#c6c5f7" stroke-width="1.0" stroke-linecap="butt"/>
<line x1="60.5" y1="473.98" x2="60.5" y2="477.54" stroke="#c6c5f7" stroke-width="1.0" stroke-linecap="butt"/>
<line x1="62.5" y1="471.07" x2="62.5" y2="474.75" stroke="#c6c5f7" stroke-width="1.0" stroke-linecap="butt"/>
<line x1="64.5" y1="468.76" x2="64.5" y2="472.56" stroke="#c6c5f7" stroke-width="1.0" stroke-linecap="butt"/>
<line x1="66.5" y1="466.84" x2="66.5" y2="470.76" stroke="#c6c5f7" stroke-width="1.0" stroke-linecap="butt"/>
<line x1="68.5" y1="465.16" x2="68.5" y2="469.2" stroke="#c6c5f7" stroke-width="1.0" stroke-linecap="butt"/>
<line x1="70.5" y1="463.64" x2="70.5" y2="467.8" stroke="#c6c5f7" stroke-width="1.0" stroke-linecap="butt"/>
<line x1="72.5" y1="462.3" x2="72.5" y2="466.58" stroke="#c6c5f7" stroke-width="1.0" stroke-linecap="butt"/>
<line x1="74.5" y1="461.07" x2="74.5" y2="465.47" stroke="#c6c5f7" stroke-width="1.0" stroke-linecap="butt"/>
<line x1="76.5" y1="459.92" x2="76.5" y2="464.44" stroke="#c6c5f7" stroke-width="1.0" stroke-linecap="butt"/>
<line x1="78.5" y1="458.84" x2="78.5" y2="463.48" stroke="#c6c5f7" stroke-width="1.0" stroke-linecap="butt"/>
<line x1="80.5" y1="457.84" x2="80.5" y2="462.6" stroke="#c6c5f7" stroke-width="1.0" stroke-linecap="butt"/>
<line x1="82.5" y1="456.86" x2="82.5" y2="461.74" stroke="#c6c5f7" stroke-width="1.0" stroke-linecap="butt"/>
<line x1="84.5" y1="455.87" x2="84.5" y2="460.87" stroke="#c6c5f7" stroke-width="1.0" stroke-linecap="butt"/>
<line x1="86.5" y1="454.91" x2="86.5" y2="460.03" stroke="#c6c5f7" stroke-width="1.0" stroke-linecap="butt"/>
<line x1="88.5" y1="454.02" x2="88.5" y2="459.26" stroke="#c6c5f7" stroke-width="1.0" stroke-linecap="butt"/>
<line x1="90.5" y1="453.18" x2="90.5" y2="458.54" stroke="#c6c5f7" stroke-width="1.0" stroke-linecap="butt"/>
<line x1="92.5" y1="452.35" x2="92.5" y2="457.83" stroke="#c6c5f7" stroke-width="1.0" stroke-linecap="butt"/>
<line x1="94.5" y1="451.49" x2="94.5" y2="457.09" stroke="#c6c5f7" stroke-width="1.0" stroke-linecap="butt"/>
<line x1="96.5" y1="450.64" x2="96.5" y2="456.24" stroke="#c6c5f7" stroke-width="1.0" stroke-linecap="butt"/>
<line x1="98.5" y1="449.73" x2="98.5" y2="455.33" stroke="#c6c5f7" stroke-width="1.0" stroke-linecap="butt"/>
<line x1="100.5" y1="448.81" x2="100.5" y2="454.41" stroke="#c6c5f7" stroke-width="1.0" stroke-linecap="butt"/>
<line x1="102.5" y1="447.93" x2="102.5" y2="453.53" stroke="#c6c5f7" stroke-width="1.0" stroke-linecap="butt"/>
<line x1="104.5" y1="447.1" x2="104.5" y2="452.7" stroke="#c6c5f7" stroke-width="1.0" stroke-linecap="butt"/>
<line x1="106.5" y1="446.31" x2="106.5" y2="451.91" stroke="#c6c5f7" stroke-width="1.0" stroke-linecap="butt"/>
<line x1="108.5" y1="445.54" x2="108.5" y2="451.14" stroke="#c6c5f7" stroke-width="1.0" stroke-linecap="butt"/>
<line x1="110.5" y1="444.76" x2="110.5" y2="450.36" stroke="#c6c5f7" stroke-width="1.0" stroke-linecap="butt"/>
<polyline points="44.5,505.28 45,503.32 45.5,501.96 46,500.86 46.5,499.7 47,498.33 47.5,496.95 48,495.59 48.5,494.29 49,493.07 49.5,491.95 50,490.96 50.5,490.06 51,489.23 51.5,488.45 52,487.69 52.5,486.94 53,486.17 53.5,485.37 54,484.54 54.5,483.71 55,482.88 55.5,482.05 56,481.22 56.5,480.39 57,479.58 57.5,478.78 58,477.99 58.5,477.19 59,476.38 59.5,475.57 60,474.77 60.5,473.98 61,473.21 61.5,472.46 62,471.75 62.5,471.07 63,470.44 63.5,469.86 64,469.29 64.5,468.76 65,468.25 65.5,467.76 66,467.29 66.5,466.84 67,466.4 67.5,465.98 68,465.57 68.5,465.16 69,464.76 69.5,464.38 70,464 70.5,463.64 71,463.29 71.5,462.95 72,462.62 72.5,462.3 73,461.98 73.5,461.67 74,461.37 74.5,461.07 75,460.78 75.5,460.49 76,460.2 76.5,459.92 77,459.64 77.5,459.37 78,459.1 78.5,458.84 79,458.59 79.5,458.33 80,458.08 80.5,457.84 81,457.59 81.5,457.35 82,457.1 82.5,456.86 83,456.61 83.5,456.36 84,456.12 84.5,455.87 85,455.62 85.5,455.38 86,455.14 86.5,454.91 87,454.68 87.5,454.45 88,454.23 88.5,454.02 89,453.8 89.5,453.59 90,453.38 90.5,453.18 91,452.97 91.5,452.76 92,452.55 92.5,452.35 93,452.14 93.5,451.92 94,451.71 94.5,451.49 95,451.28 95.5,451.07 96,450.86 96.5,450.64 97,450.41 97.5,450.19 98,449.96 98.5,449.73 99,449.5 99.5,449.27 100,449.04 100.5,448.81 101,448.59 101.5,448.36 102,448.14 102.5,447.93 103,447.72 103.5,447.51 104,447.3 104.5,447.1 105,446.9 105.5,446.7 106,446.51 106.5,446.31 107,446.12 107.5,445.92 108,445.73 108.5,445.54 109,445.34 109.5,445.15 110,444.95 110.5,444.76" fill="none" stroke="#c6c5f7" stroke-width="0.8" stroke-linejoin="round" />
<polyline points="44.5,507.88 45,505.95 45.5,504.62 46,503.55 46.5,502.42 47,501.08 47.5,499.73 48,498.4 48.5,497.13 49,495.94 49.5,494.85 50,493.89 50.5,493.02 51,492.22 51.5,491.47 52,490.74 52.5,490.02 53,489.28 53.5,488.51 54,487.71 54.5,486.91 55,486.11 55.5,485.31 56,484.51 56.5,483.71 57,482.93 57.5,482.16 58,481.4 58.5,480.63 59,479.85 59.5,479.07 60,478.3 60.5,477.54 61,476.8 61.5,476.08 62,475.4 62.5,474.75 63,474.16 63.5,473.6 64,473.06 64.5,472.56 65,472.08 65.5,471.62 66,471.18 66.5,470.76 67,470.35 67.5,469.96 68,469.58 68.5,469.2 69,468.84 69.5,468.48 70,468.13 70.5,467.8 71,467.48 71.5,467.17 72,466.87 72.5,466.58 73,466.29 73.5,466.01 74,465.74 74.5,465.47 75,465.21 75.5,464.95 76,464.69 76.5,464.44 77,464.19 77.5,463.95 78,463.71 78.5,463.48 79,463.26 79.5,463.03 80,462.81 80.5,462.6 81,462.38 81.5,462.17 82,461.95 82.5,461.74 83,461.52 83.5,461.3 84,461.09 84.5,460.87 85,460.65 85.5,460.44 86,460.23 86.5,460.03 87,459.83 87.5,459.63 88,459.44 88.5,459.26 89,459.07 89.5,458.89 90,458.71 90.5,458.54 91,458.36 91.5,458.18 92,458 92.5,457.83 93,457.65 93.5,457.46 94,457.28 94.5,457.09 95,456.88 95.5,456.67 96,456.46 96.5,456.24 97,456.01 97.5,455.79 98,455.56 98.5,455.33 99,455.1 99.5,454.87 100,454.64 100.5,454.41 101,454.19 101.5,453.96 102,453.74 102.5,453.53 103,453.32 103.5,453.11 104,452.9 104.5,452.7 105,452.5 105.5,452.3 106,452.11 106.5,451.91 107,451.72 107.5,451.52 108,451.33 108.5,451.14 109,450.94 109.5,450.75 110,450.55 110.5,450.36" fill="none" stroke="#c6c5f7" stroke-width="0.8" stroke-linejoin="round" />
<polyline points="44.5,506.58 45,504.64 45.5,503.29 46,502.2 46.5,501.06 47,499.71 47.5,498.34 48,497 48.5,495.71 49,494.5 49.5,493.4 50,492.43 50.5,491.54 51,490.73 51.5,489.96 52,489.22 52.5,488.48 53,487.73 53.5,486.94 54,486.13 54.5,485.31 55,484.49 55.5,483.68 56,482.86 56.5,482.05 57,481.25 57.5,480.47 58,479.69 58.5,478.91 59,478.12 59.5,477.32 60,476.54 60.5,475.76 61,475 61.5,474.27 62,473.57 62.5,472.91 63,472.3 63.5,471.73 64,471.18 64.5,470.66 65,470.16 65.5,469.69 66,469.24 66.5,468.8 67,468.38 67.5,467.97 68,467.57 68.5,467.18 69,466.8 69.5,466.43 70,466.07 70.5,465.72 71,465.38 71.5,465.06 72,464.74 72.5,464.44 73,464.14 73.5,463.84 74,463.56 74.5,463.27 75,462.99 75.5,462.72 76,462.45 76.5,462.18 77,461.92 77.5,461.66 78,461.41 78.5,461.16 79,460.92 79.5,460.68 80,460.45 80.5,460.22 81,459.99 81.5,459.76 82,459.53 82.5,459.3 83,459.07 83.5,458.83 84,458.6 84.5,458.37 85,458.14 85.5,457.91 86,457.68 86.5,457.47 87,457.25 87.5,457.04 88,456.84 88.5,456.64 89,456.44 89.5,456.24 90,456.05 90.5,455.86 91,455.66 91.5,455.47 92,455.28 92.5,455.09 93,454.89 93.5,454.69 94,454.49 94.5,454.29 95,454.08 95.5,453.87 96,453.66 96.5,453.44 97,453.21 97.5,452.99 98,452.76 98.5,452.53 99,452.3 99.5,452.07 100,451.84 100.5,451.61 101,451.39 101.5,451.16 102,450.94 102.5,450.73 103,450.52 103.5,450.31 104,450.1 104.5,449.9 105,449.7 105.5,449.5 106,449.31 106.5,449.11 107,448.92 107.5,448.72 108,448.53 108.5,448.34 109,448.14 109.5,447.95 110,447.75 110.5,447.56" fill="none" stroke="#c6c5f7" stroke-width="1.4" stroke-linejoin="round" />
<line x1="111.5" y1="445.4" x2="111.5" y2="454.5" stroke="#c6c5f7" stroke-width="2.2" stroke-linecap="butt"/>
<polygon points="111.6,449.9 112.1,451.26 112.6,452.2 113.1,452.81 113.6,453.25 114.1,453.59 114.6,453.86 115.1,454.08 115.6,454.26 116.1,454.43 116.6,454.6 117.1,454.76 117.6,454.92 118.1,455.07 118.6,455.22 119.1,455.36 119.6,455.5 120.1,455.64 120.6,455.77 121.1,455.9 121.6,456.03 122.1,456.15 122.6,456.28 123.1,456.4 123.6,456.53 124.1,456.65 124.6,456.77 125.1,456.89 125.6,457.01 126.1,457.13 126.6,457.24 127.1,457.35 127.6,457.46 128.1,457.57 128.6,457.67 129.1,457.77 129.6,457.86 130.1,457.95 130.6,458.04 131.1,458.13 131.6,458.21 132.1,458.29 132.6,458.37 133.1,458.44 133.6,458.52 134.1,458.59 134.6,458.65 135.1,458.72 135.6,458.78 136.1,458.84 136.6,458.9 137.1,458.96 137.6,459.01 138.1,459.06 138.6,459.11 139.1,459.16 139.6,459.2 140.1,459.25 140.6,459.29 141.1,459.34 141.6,459.38 142.1,459.42 142.6,459.46 143.1,459.49 143.6,459.53 144.1,459.57 144.6,459.6 145.1,459.63 145.6,459.67 146.1,459.7 146.6,459.73 147.1,459.76 147.6,459.79 148.1,459.82 148.6,459.85 149.1,459.88 149.6,459.91 150.1,459.94 150.6,459.96 151.1,459.99 151.6,460.02 152.1,460.04 152.6,460.07 153.1,460.09 153.6,460.11 154.1,460.14 154.6,460.16 155.1,460.18 155.6,460.2 156.1,460.22 156.6,460.24 157.1,460.26 157.6,460.28 158.1,460.3 158.6,460.32 159.1,460.33 159.6,460.35 160.1,460.37 160.6,460.39 161.1,460.4 161.6,460.42 162.1,460.44 162.6,460.46 163.1,460.47 163.6,460.49 164.1,460.51 164.6,460.52 165.1,460.54 165.6,460.56 166.1,460.58 166.6,460.59 167.1,460.61 167.6,460.63 168.1,460.65 168.6,460.66 169.1,460.68 169.6,460.7 170.1,460.71 170.6,460.73 171.1,460.75 171.6,460.76 172.1,460.78 172.6,460.79 173.1,460.81 173.6,460.83 174.1,460.84 174.6,460.86 175.1,460.87 175.6,460.89 176.1,460.9 176.6,460.92 177.1,460.94 177.6,460.95 178.1,460.97 178.6,460.98 179.1,461 179.1,466.8 178.6,466.78 178.1,466.77 177.6,466.75 177.1,466.74 176.6,466.72 176.1,466.7 175.6,466.69 175.1,466.67 174.6,466.66 174.1,466.64 173.6,466.63 173.1,466.61 172.6,466.59 172.1,466.58 171.6,466.56 171.1,466.55 170.6,466.53 170.1,466.51 169.6,466.5 169.1,466.48 168.6,466.46 168.1,466.45 167.6,466.43 167.1,466.41 166.6,466.39 166.1,466.38 165.6,466.36 165.1,466.34 164.6,466.32 164.1,466.31 163.6,466.29 163.1,466.27 162.6,466.26 162.1,466.24 161.6,466.22 161.1,466.2 160.6,466.19 160.1,466.17 159.6,466.15 159.1,466.13 158.6,466.12 158.1,466.1 157.6,466.08 157.1,466.06 156.6,466.04 156.1,466.02 155.6,466 155.1,465.98 154.6,465.96 154.1,465.94 153.6,465.91 153.1,465.89 152.6,465.87 152.1,465.84 151.6,465.82 151.1,465.79 150.6,465.76 150.1,465.74 149.6,465.71 149.1,465.68 148.6,465.65 148.1,465.62 147.6,465.59 147.1,465.56 146.6,465.53 146.1,465.5 145.6,465.47 145.1,465.43 144.6,465.4 144.1,465.37 143.6,465.33 143.1,465.29 142.6,465.26 142.1,465.22 141.6,465.18 141.1,465.14 140.6,465.09 140.1,465.05 139.6,465 139.1,464.96 138.6,464.91 138.1,464.86 137.6,464.81 137.1,464.76 136.6,464.7 136.1,464.64 135.6,464.58 135.1,464.52 134.6,464.45 134.1,464.39 133.6,464.32 133.1,464.24 132.6,464.17 132.1,464.09 131.6,464.01 131.1,463.93 130.6,463.84 130.1,463.75 129.6,463.66 129.1,463.57 128.6,463.47 128.1,463.37 127.6,463.26 127.1,463.15 126.6,463.04 126.1,462.93 125.6,462.81 125.1,462.69 124.6,462.57 124.1,462.45 123.6,462.33 123.1,462.2 122.6,462.08 122.1,461.95 121.6,461.83 121.1,461.7 120.6,461.57 120.1,461.44 119.6,461.3 119.1,461.16 118.6,461.02 118.1,460.87 117.6,460.72 117.1,460.56 116.6,460.4 116.1,460.23 115.6,460.06 115.1,459.88 114.6,459.66 114.1,459.39 113.6,459.05 113.1,458.61 112.6,458 112.1,457.06 111.6,455.7" fill="#c6c5f7" opacity="0.45"/>
<line x1="111.6" y1="449.9" x2="111.6" y2="455.7" stroke="#c6c5f7" stroke-width="1.0" stroke-linecap="butt"/>
<line x1="113.6" y1="453.25" x2="113.6" y2="459.05" stroke="#c6c5f7" stroke-width="1.0" stroke-linecap="butt"/>
<line x1="115.6" y1="454.26" x2="115.6" y2="460.06" stroke="#c6c5f7" stroke-width="1.0" stroke-linecap="butt"/>
<line x1="117.6" y1="454.92" x2="117.6" y2="460.72" stroke="#c6c5f7" stroke-width="1.0" stroke-linecap="butt"/>
<line x1="119.6" y1="455.5" x2="119.6" y2="461.3" stroke="#c6c5f7" stroke-width="1.0" stroke-linecap="butt"/>
<line x1="121.6" y1="456.03" x2="121.6" y2="461.83" stroke="#c6c5f7" stroke-width="1.0" stroke-linecap="butt"/>
<line x1="123.6" y1="456.53" x2="123.6" y2="462.33" stroke="#c6c5f7" stroke-width="1.0" stroke-linecap="butt"/>
<line x1="125.6" y1="457.01" x2="125.6" y2="462.81" stroke="#c6c5f7" stroke-width="1.0" stroke-linecap="butt"/>
<line x1="127.6" y1="457.46" x2="127.6" y2="463.26" stroke="#c6c5f7" stroke-width="1.0" stroke-linecap="butt"/>
<line x1="129.6" y1="457.86" x2="129.6" y2="463.66" stroke="#c6c5f7" stroke-width="1.0" stroke-linecap="butt"/>
<line x1="131.6" y1="458.21" x2="131.6" y2="464.01" stroke="#c6c5f7" stroke-width="1.0" stroke-linecap="butt"/>
<line x1="133.6" y1="458.52" x2="133.6" y2="464.32" stroke="#c6c5f7" stroke-width="1.0" stroke-linecap="butt"/>
<line x1="135.6" y1="458.78" x2="135.6" y2="464.58" stroke="#c6c5f7" stroke-width="1.0" stroke-linecap="butt"/>
<line x1="137.6" y1="459.01" x2="137.6" y2="464.81" stroke="#c6c5f7" stroke-width="1.0" stroke-linecap="butt"/>
<line x1="139.6" y1="459.2" x2="139.6" y2="465" stroke="#c6c5f7" stroke-width="1.0" stroke-linecap="butt"/>
<line x1="141.6" y1="459.38" x2="141.6" y2="465.18" stroke="#c6c5f7" stroke-width="1.0" stroke-linecap="butt"/>
<line x1="143.6" y1="459.53" x2="143.6" y2="465.33" stroke="#c6c5f7" stroke-width="1.0" stroke-linecap="butt"/>
<line x1="145.6" y1="459.67" x2="145.6" y2="465.47" stroke="#c6c5f7" stroke-width="1.0" stroke-linecap="butt"/>
<line x1="147.6" y1="459.79" x2="147.6" y2="465.59" stroke="#c6c5f7" stroke-width="1.0" stroke-linecap="butt"/>
<line x1="149.6" y1="459.91" x2="149.6" y2="465.71" stroke="#c6c5f7" stroke-width="1.0" stroke-linecap="butt"/>
<line x1="151.6" y1="460.02" x2="151.6" y2="465.82" stroke="#c6c5f7" stroke-width="1.0" stroke-linecap="butt"/>
<line x1="153.6" y1="460.11" x2="153.6" y2="465.91" stroke="#c6c5f7" stroke-width="1.0" stroke-linecap="butt"/>
<line x1="155.6" y1="460.2" x2="155.6" y2="466" stroke="#c6c5f7" stroke-width="1.0" stroke-linecap="butt"/>
<line x1="157.6" y1="460.28" x2="157.6" y2="466.08" stroke="#c6c5f7" stroke-width="1.0" stroke-linecap="butt"/>
<line x1="159.6" y1="460.35" x2="159.6" y2="466.15" stroke="#c6c5f7" stroke-width="1.0" stroke-linecap="butt"/>
<line x1="161.6" y1="460.42" x2="161.6" y2="466.22" stroke="#c6c5f7" stroke-width="1.0" stroke-linecap="butt"/>
<line x1="163.6" y1="460.49" x2="163.6" y2="466.29" stroke="#c6c5f7" stroke-width="1.0" stroke-linecap="butt"/>
<line x1="165.6" y1="460.56" x2="165.6" y2="466.36" stroke="#c6c5f7" stroke-width="1.0" stroke-linecap="butt"/>
<line x1="167.6" y1="460.63" x2="167.6" y2="466.43" stroke="#c6c5f7" stroke-width="1.0" stroke-linecap="butt"/>
<line x1="169.6" y1="460.7" x2="169.6" y2="466.5" stroke="#c6c5f7" stroke-width="1.0" stroke-linecap="butt"/>
<line x1="171.6" y1="460.76" x2="171.6" y2="466.56" stroke="#c6c5f7" stroke-width="1.0" stroke-linecap="butt"/>
<line x1="173.6" y1="460.83" x2="173.6" y2="466.63" stroke="#c6c5f7" stroke-width="1.0" stroke-linecap="butt"/>
<line x1="175.6" y1="460.89" x2="175.6" y2="466.69" stroke="#c6c5f7" stroke-width="1.0" stroke-linecap="butt"/>
<line x1="177.6" y1="460.95" x2="177.6" y2="466.75" stroke="#c6c5f7" stroke-width="1.0" stroke-linecap="butt"/>
<polyline points="111.6,449.9 112.1,451.26 112.6,452.2 113.1,452.81 113.6,453.25 114.1,453.59 114.6,453.86 115.1,454.08 115.6,454.26 116.1,454.43 116.6,454.6 117.1,454.76 117.6,454.92 118.1,455.07 118.6,455.22 119.1,455.36 119.6,455.5 120.1,455.64 120.6,455.77 121.1,455.9 121.6,456.03 122.1,456.15 122.6,456.28 123.1,456.4 123.6,456.53 124.1,456.65 124.6,456.77 125.1,456.89 125.6,457.01 126.1,457.13 126.6,457.24 127.1,457.35 127.6,457.46 128.1,457.57 128.6,457.67 129.1,457.77 129.6,457.86 130.1,457.95 130.6,458.04 131.1,458.13 131.6,458.21 132.1,458.29 132.6,458.37 133.1,458.44 133.6,458.52 134.1,458.59 134.6,458.65 135.1,458.72 135.6,458.78 136.1,458.84 136.6,458.9 137.1,458.96 137.6,459.01 138.1,459.06 138.6,459.11 139.1,459.16 139.6,459.2 140.1,459.25 140.6,459.29 141.1,459.34 141.6,459.38 142.1,459.42 142.6,459.46 143.1,459.49 143.6,459.53 144.1,459.57 144.6,459.6 145.1,459.63 145.6,459.67 146.1,459.7 146.6,459.73 147.1,459.76 147.6,459.79 148.1,459.82 148.6,459.85 149.1,459.88 149.6,459.91 150.1,459.94 150.6,459.96 151.1,459.99 151.6,460.02 152.1,460.04 152.6,460.07 153.1,460.09 153.6,460.11 154.1,460.14 154.6,460.16 155.1,460.18 155.6,460.2 156.1,460.22 156.6,460.24 157.1,460.26 157.6,460.28 158.1,460.3 158.6,460.32 159.1,460.33 159.6,460.35 160.1,460.37 160.6,460.39 161.1,460.4 161.6,460.42 162.1,460.44 162.6,460.46 163.1,460.47 163.6,460.49 164.1,460.51 164.6,460.52 165.1,460.54 165.6,460.56 166.1,460.58 166.6,460.59 167.1,460.61 167.6,460.63 168.1,460.65 168.6,460.66 169.1,460.68 169.6,460.7 170.1,460.71 170.6,460.73 171.1,460.75 171.6,460.76 172.1,460.78 172.6,460.79 173.1,460.81 173.6,460.83 174.1,460.84 174.6,460.86 175.1,460.87 175.6,460.89 176.1,460.9 176.6,460.92 177.1,460.94 177.6,460.95 178.1,460.97 178.6,460.98 179.1,461" fill="none" stroke="#c6c5f7" stroke-width="0.8" stroke-linejoin="round" />
<polyline points="111.6,455.7 112.1,457.06 112.6,458 113.1,458.61 113.6,459.05 114.1,459.39 114.6,459.66 115.1,459.88 115.6,460.06 116.1,460.23 116.6,460.4 117.1,460.56 117.6,460.72 118.1,460.87 118.6,461.02 119.1,461.16 119.6,461.3 120.1,461.44 120.6,461.57 121.1,461.7 121.6,461.83 122.1,461.95 122.6,462.08 123.1,462.2 123.6,462.33 124.1,462.45 124.6,462.57 125.1,462.69 125.6,462.81 126.1,462.93 126.6,463.04 127.1,463.15 127.6,463.26 128.1,463.37 128.6,463.47 129.1,463.57 129.6,463.66 130.1,463.75 130.6,463.84 131.1,463.93 131.6,464.01 132.1,464.09 132.6,464.17 133.1,464.24 133.6,464.32 134.1,464.39 134.6,464.45 135.1,464.52 135.6,464.58 136.1,464.64 136.6,464.7 137.1,464.76 137.6,464.81 138.1,464.86 138.6,464.91 139.1,464.96 139.6,465 140.1,465.05 140.6,465.09 141.1,465.14 141.6,465.18 142.1,465.22 142.6,465.26 143.1,465.29 143.6,465.33 144.1,465.37 144.6,465.4 145.1,465.43 145.6,465.47 146.1,465.5 146.6,465.53 147.1,465.56 147.6,465.59 148.1,465.62 148.6,465.65 149.1,465.68 149.6,465.71 150.1,465.74 150.6,465.76 151.1,465.79 151.6,465.82 152.1,465.84 152.6,465.87 153.1,465.89 153.6,465.91 154.1,465.94 154.6,465.96 155.1,465.98 155.6,466 156.1,466.02 156.6,466.04 157.1,466.06 157.6,466.08 158.1,466.1 158.6,466.12 159.1,466.13 159.6,466.15 160.1,466.17 160.6,466.19 161.1,466.2 161.6,466.22 162.1,466.24 162.6,466.26 163.1,466.27 163.6,466.29 164.1,466.31 164.6,466.32 165.1,466.34 165.6,466.36 166.1,466.38 166.6,466.39 167.1,466.41 167.6,466.43 168.1,466.45 168.6,466.46 169.1,466.48 169.6,466.5 170.1,466.51 170.6,466.53 171.1,466.55 171.6,466.56 172.1,466.58 172.6,466.59 173.1,466.61 173.6,466.63 174.1,466.64 174.6,466.66 175.1,466.67 175.6,466.69 176.1,466.7 176.6,466.72 177.1,466.74 177.6,466.75 178.1,466.77 178.6,466.78 179.1,466.8" fill="none" stroke="#c6c5f7" stroke-width="0.8" stroke-linejoin="round" />
<polyline points="111.6,452.8 112.1,454.16 112.6,455.1 113.1,455.71 113.6,456.15 114.1,456.49 114.6,456.76 115.1,456.98 115.6,457.16 116.1,457.33 116.6,457.5 117.1,457.66 117.6,457.82 118.1,457.97 118.6,458.12 119.1,458.26 119.6,458.4 120.1,458.54 120.6,458.67 121.1,458.8 121.6,458.93 122.1,459.05 122.6,459.18 123.1,459.3 123.6,459.43 124.1,459.55 124.6,459.67 125.1,459.79 125.6,459.91 126.1,460.03 126.6,460.14 127.1,460.25 127.6,460.36 128.1,460.47 128.6,460.57 129.1,460.67 129.6,460.76 130.1,460.85 130.6,460.94 131.1,461.03 131.6,461.11 132.1,461.19 132.6,461.27 133.1,461.34 133.6,461.42 134.1,461.49 134.6,461.55 135.1,461.62 135.6,461.68 136.1,461.74 136.6,461.8 137.1,461.86 137.6,461.91 138.1,461.96 138.6,462.01 139.1,462.06 139.6,462.1 140.1,462.15 140.6,462.19 141.1,462.24 141.6,462.28 142.1,462.32 142.6,462.36 143.1,462.39 143.6,462.43 144.1,462.47 144.6,462.5 145.1,462.53 145.6,462.57 146.1,462.6 146.6,462.63 147.1,462.66 147.6,462.69 148.1,462.72 148.6,462.75 149.1,462.78 149.6,462.81 150.1,462.84 150.6,462.86 151.1,462.89 151.6,462.92 152.1,462.94 152.6,462.97 153.1,462.99 153.6,463.01 154.1,463.04 154.6,463.06 155.1,463.08 155.6,463.1 156.1,463.12 156.6,463.14 157.1,463.16 157.6,463.18 158.1,463.2 158.6,463.22 159.1,463.23 159.6,463.25 160.1,463.27 160.6,463.29 161.1,463.3 161.6,463.32 162.1,463.34 162.6,463.36 163.1,463.37 163.6,463.39 164.1,463.41 164.6,463.42 165.1,463.44 165.6,463.46 166.1,463.48 166.6,463.49 167.1,463.51 167.6,463.53 168.1,463.55 168.6,463.56 169.1,463.58 169.6,463.6 170.1,463.61 170.6,463.63 171.1,463.65 171.6,463.66 172.1,463.68 172.6,463.69 173.1,463.71 173.6,463.73 174.1,463.74 174.6,463.76 175.1,463.77 175.6,463.79 176.1,463.8 176.6,463.82 177.1,463.84 177.6,463.85 178.1,463.87 178.6,463.88 179.1,463.9" fill="none" stroke="#c6c5f7" stroke-width="1.4" stroke-linejoin="round" />
<polygon points="44.5,499.93 45,496.93 45.5,495.23 46,493.57 46.5,492.06 47,490.77 47.5,489.57 48,488.36 48.5,487.07 49,485.78 49.5,484.52 50,483.32 50.5,482.22 51,481.22 51.5,480.29 52,479.37 52.5,478.43 53,477.44 53.5,476.34 54,475.07 54.5,473.69 55,472.27 55.5,470.92 56,469.71 56.5,468.67 57,467.66 57.5,466.7 58,465.76 58.5,464.86 59,463.98 59.5,463.13 60,462.3 60.5,461.5 61,460.71 61.5,459.95 62,459.22 62.5,458.52 63,457.84 63.5,457.18 64,456.54 64.5,455.92 65,455.31 65.5,454.73 66,454.16 66.5,453.61 67,453.07 67.5,452.55 68,452.05 68.5,451.55 69,451.06 69.5,450.58 70,450.1 70.5,449.62 71,449.14 71.5,448.67 72,448.2 72.5,447.75 73,447.29 73.5,446.85 74,446.41 74.5,445.97 75,445.54 75.5,445.12 76,444.7 76.5,444.29 77,443.89 77.5,443.5 78,443.12 78.5,442.75 79,442.38 79.5,442.03 80,441.68 80.5,441.34 81,441.01 81.5,440.69 82,440.37 82.5,440.06 83,439.76 83.5,439.45 84,439.14 84.5,438.82 85,438.5 85.5,438.17 86,437.85 86.5,437.52 87,437.19 87.5,436.86 88,436.54 88.5,436.22 89,435.9 89.5,435.59 90,435.29 90.5,434.99 91,434.69 91.5,434.4 92,434.1 92.5,433.81 93,433.52 93.5,433.24 94,432.95 94.5,432.66 95,432.39 95.5,432.12 96,431.85 96.5,431.58 97,431.32 97.5,431.06 98,430.8 98.5,430.55 99,430.3 99.5,430.05 100,429.8 100.5,429.56 101,429.32 101.5,429.09 102,428.86 102.5,428.63 103,428.41 103.5,428.2 104,428 104.5,427.8 105,427.61 105.5,427.42 106,427.22 106.5,427.03 107,426.82 107.5,426.62 108,426.4 108.5,426.18 109,425.96 109.5,425.73 110,425.5 110.5,425.28 110.5,430.28 110,430.5 109.5,430.73 109,430.96 108.5,431.18 108,431.4 107.5,431.62 107,431.82 106.5,432.03 106,432.22 105.5,432.42 105,432.61 104.5,432.8 104,433 103.5,433.2 103,433.41 102.5,433.63 102,433.86 101.5,434.09 101,434.32 100.5,434.56 100,434.8 99.5,435.05 99,435.3 98.5,435.55 98,435.8 97.5,436.06 97,436.32 96.5,436.58 96,436.85 95.5,437.12 95,437.39 94.5,437.66 94,437.92 93.5,438.18 93,438.45 92.5,438.71 92,438.97 91.5,439.24 91,439.51 90.5,439.78 90,440.06 89.5,440.33 89,440.62 88.5,440.9 88,441.2 87.5,441.5 87,441.8 86.5,442.1 86,442.4 85.5,442.71 85,443.01 84.5,443.3 84,443.59 83.5,443.88 83,444.16 82.5,444.44 82,444.72 81.5,445.01 81,445.31 80.5,445.61 80,445.92 79.5,446.25 79,446.58 78.5,446.92 78,447.26 77.5,447.62 77,447.98 76.5,448.35 76,448.74 75.5,449.13 75,449.53 74.5,449.93 74,450.34 73.5,450.76 73,451.18 72.5,451.6 72,452.03 71.5,452.47 71,452.92 70.5,453.37 70,453.82 69.5,454.28 69,454.73 68.5,455.2 68,455.67 67.5,456.15 67,456.64 66.5,457.15 66,457.67 65.5,458.22 65,458.78 64.5,459.36 64,459.95 63.5,460.57 63,461.2 62.5,461.85 62,462.53 61.5,463.24 61,463.97 60.5,464.73 60,465.51 59.5,466.31 59,467.13 58.5,467.98 58,468.86 57.5,469.77 57,470.71 56.5,471.69 56,472.71 55.5,473.89 55,475.22 54.5,476.61 54,477.97 53.5,479.21 53,480.28 52.5,481.25 52,482.16 51.5,483.05 51,483.96 50.5,484.93 50,486.01 49.5,487.18 49,488.41 48.5,489.68 48,490.94 47.5,492.13 47,493.3 46.5,494.57 46,496.05 45.5,497.69 45,499.35 44.5,502.33" fill="#ffcf00" opacity="0.45"/>
<line x1="44.5" y1="499.93" x2="44.5" y2="502.33" stroke="#ffcf00" stroke-width="1.0" stroke-linecap="butt"/>
<line x1="46.5" y1="492.06" x2="46.5" y2="494.57" stroke="#ffcf00" stroke-width="1.0" stroke-linecap="butt"/>
<line x1="48.5" y1="487.07" x2="48.5" y2="489.68" stroke="#ffcf00" stroke-width="1.0" stroke-linecap="butt"/>
<line x1="50.5" y1="482.22" x2="50.5" y2="484.93" stroke="#ffcf00" stroke-width="1.0" stroke-linecap="butt"/>
<line x1="52.5" y1="478.43" x2="52.5" y2="481.25" stroke="#ffcf00" stroke-width="1.0" stroke-linecap="butt"/>
<line x1="54.5" y1="473.69" x2="54.5" y2="476.61" stroke="#ffcf00" stroke-width="1.0" stroke-linecap="butt"/>
<line x1="56.5" y1="468.67" x2="56.5" y2="471.69" stroke="#ffcf00" stroke-width="1.0" stroke-linecap="butt"/>
<line x1="58.5" y1="464.86" x2="58.5" y2="467.98" stroke="#ffcf00" stroke-width="1.0" stroke-linecap="butt"/>
<line x1="60.5" y1="461.5" x2="60.5" y2="464.73" stroke="#ffcf00" stroke-width="1.0" stroke-linecap="butt"/>
<line x1="62.5" y1="458.52" x2="62.5" y2="461.85" stroke="#ffcf00" stroke-width="1.0" stroke-linecap="butt"/>
<line x1="64.5" y1="455.92" x2="64.5" y2="459.36" stroke="#ffcf00" stroke-width="1.0" stroke-linecap="butt"/>
<line x1="66.5" y1="453.61" x2="66.5" y2="457.15" stroke="#ffcf00" stroke-width="1.0" stroke-linecap="butt"/>
<line x1="68.5" y1="451.55" x2="68.5" y2="455.2" stroke="#ffcf00" stroke-width="1.0" stroke-linecap="butt"/>
<line x1="70.5" y1="449.62" x2="70.5" y2="453.37" stroke="#ffcf00" stroke-width="1.0" stroke-linecap="butt"/>
<line x1="72.5" y1="447.75" x2="72.5" y2="451.6" stroke="#ffcf00" stroke-width="1.0" stroke-linecap="butt"/>
<line x1="74.5" y1="445.97" x2="74.5" y2="449.93" stroke="#ffcf00" stroke-width="1.0" stroke-linecap="butt"/>
<line x1="76.5" y1="444.29" x2="76.5" y2="448.35" stroke="#ffcf00" stroke-width="1.0" stroke-linecap="butt"/>
<line x1="78.5" y1="442.75" x2="78.5" y2="446.92" stroke="#ffcf00" stroke-width="1.0" stroke-linecap="butt"/>
<line x1="80.5" y1="441.34" x2="80.5" y2="445.61" stroke="#ffcf00" stroke-width="1.0" stroke-linecap="butt"/>
<line x1="82.5" y1="440.06" x2="82.5" y2="444.44" stroke="#ffcf00" stroke-width="1.0" stroke-linecap="butt"/>
<line x1="84.5" y1="438.82" x2="84.5" y2="443.3" stroke="#ffcf00" stroke-width="1.0" stroke-linecap="butt"/>
<line x1="86.5" y1="437.52" x2="86.5" y2="442.1" stroke="#ffcf00" stroke-width="1.0" stroke-linecap="butt"/>
<line x1="88.5" y1="436.22" x2="88.5" y2="440.9" stroke="#ffcf00" stroke-width="1.0" stroke-linecap="butt"/>
<line x1="90.5" y1="434.99" x2="90.5" y2="439.78" stroke="#ffcf00" stroke-width="1.0" stroke-linecap="butt"/>
<line x1="92.5" y1="433.81" x2="92.5" y2="438.71" stroke="#ffcf00" stroke-width="1.0" stroke-linecap="butt"/>
<line x1="94.5" y1="432.66" x2="94.5" y2="437.66" stroke="#ffcf00" stroke-width="1.0" stroke-linecap="butt"/>
<line x1="96.5" y1="431.58" x2="96.5" y2="436.58" stroke="#ffcf00" stroke-width="1.0" stroke-linecap="butt"/>
<line x1="98.5" y1="430.55" x2="98.5" y2="435.55" stroke="#ffcf00" stroke-width="1.0" stroke-linecap="butt"/>
<line x1="100.5" y1="429.56" x2="100.5" y2="434.56" stroke="#ffcf00" stroke-width="1.0" stroke-linecap="butt"/>
<line x1="102.5" y1="428.63" x2="102.5" y2="433.63" stroke="#ffcf00" stroke-width="1.0" stroke-linecap="butt"/>
<line x1="104.5" y1="427.8" x2="104.5" y2="432.8" stroke="#ffcf00" stroke-width="1.0" stroke-linecap="butt"/>
<line x1="106.5" y1="427.03" x2="106.5" y2="432.03" stroke="#ffcf00" stroke-width="1.0" stroke-linecap="butt"/>
<line x1="108.5" y1="426.18" x2="108.5" y2="431.18" stroke="#ffcf00" stroke-width="1.0" stroke-linecap="butt"/>
<line x1="110.5" y1="425.28" x2="110.5" y2="430.28" stroke="#ffcf00" stroke-width="1.0" stroke-linecap="butt"/>
<polyline points="44.5,499.93 45,496.93 45.5,495.23 46,493.57 46.5,492.06 47,490.77 47.5,489.57 48,488.36 48.5,487.07 49,485.78 49.5,484.52 50,483.32 50.5,482.22 51,481.22 51.5,480.29 52,479.37 52.5,478.43 53,477.44 53.5,476.34 54,475.07 54.5,473.69 55,472.27 55.5,470.92 56,469.71 56.5,468.67 57,467.66 57.5,466.7 58,465.76 58.5,464.86 59,463.98 59.5,463.13 60,462.3 60.5,461.5 61,460.71 61.5,459.95 62,459.22 62.5,458.52 63,457.84 63.5,457.18 64,456.54 64.5,455.92 65,455.31 65.5,454.73 66,454.16 66.5,453.61 67,453.07 67.5,452.55 68,452.05 68.5,451.55 69,451.06 69.5,450.58 70,450.1 70.5,449.62 71,449.14 71.5,448.67 72,448.2 72.5,447.75 73,447.29 73.5,446.85 74,446.41 74.5,445.97 75,445.54 75.5,445.12 76,444.7 76.5,444.29 77,443.89 77.5,443.5 78,443.12 78.5,442.75 79,442.38 79.5,442.03 80,441.68 80.5,441.34 81,441.01 81.5,440.69 82,440.37 82.5,440.06 83,439.76 83.5,439.45 84,439.14 84.5,438.82 85,438.5 85.5,438.17 86,437.85 86.5,437.52 87,437.19 87.5,436.86 88,436.54 88.5,436.22 89,435.9 89.5,435.59 90,435.29 90.5,434.99 91,434.69 91.5,434.4 92,434.1 92.5,433.81 93,433.52 93.5,433.24 94,432.95 94.5,432.66 95,432.39 95.5,432.12 96,431.85 96.5,431.58 97,431.32 97.5,431.06 98,430.8 98.5,430.55 99,430.3 99.5,430.05 100,429.8 100.5,429.56 101,429.32 101.5,429.09 102,428.86 102.5,428.63 103,428.41 103.5,428.2 104,428 104.5,427.8 105,427.61 105.5,427.42 106,427.22 106.5,427.03 107,426.82 107.5,426.62 108,426.4 108.5,426.18 109,425.96 109.5,425.73 110,425.5 110.5,425.28" fill="none" stroke="#ffcf00" stroke-width="0.8" stroke-linejoin="round" />
<polyline points="44.5,502.33 45,499.35 45.5,497.69 46,496.05 46.5,494.57 47,493.3 47.5,492.13 48,490.94 48.5,489.68 49,488.41 49.5,487.18 50,486.01 50.5,484.93 51,483.96 51.5,483.05 52,482.16 52.5,481.25 53,480.28 53.5,479.21 54,477.97 54.5,476.61 55,475.22 55.5,473.89 56,472.71 56.5,471.69 57,470.71 57.5,469.77 58,468.86 58.5,467.98 59,467.13 59.5,466.31 60,465.51 60.5,464.73 61,463.97 61.5,463.24 62,462.53 62.5,461.85 63,461.2 63.5,460.57 64,459.95 64.5,459.36 65,458.78 65.5,458.22 66,457.67 66.5,457.15 67,456.64 67.5,456.15 68,455.67 68.5,455.2 69,454.73 69.5,454.28 70,453.82 70.5,453.37 71,452.92 71.5,452.47 72,452.03 72.5,451.6 73,451.18 73.5,450.76 74,450.34 74.5,449.93 75,449.53 75.5,449.13 76,448.74 76.5,448.35 77,447.98 77.5,447.62 78,447.26 78.5,446.92 79,446.58 79.5,446.25 80,445.92 80.5,445.61 81,445.31 81.5,445.01 82,444.72 82.5,444.44 83,444.16 83.5,443.88 84,443.59 84.5,443.3 85,443.01 85.5,442.71 86,442.4 86.5,442.1 87,441.8 87.5,441.5 88,441.2 88.5,440.9 89,440.62 89.5,440.33 90,440.06 90.5,439.78 91,439.51 91.5,439.24 92,438.97 92.5,438.71 93,438.45 93.5,438.18 94,437.92 94.5,437.66 95,437.39 95.5,437.12 96,436.85 96.5,436.58 97,436.32 97.5,436.06 98,435.8 98.5,435.55 99,435.3 99.5,435.05 100,434.8 100.5,434.56 101,434.32 101.5,434.09 102,433.86 102.5,433.63 103,433.41 103.5,433.2 104,433 104.5,432.8 105,432.61 105.5,432.42 106,432.22 106.5,432.03 107,431.82 107.5,431.62 108,431.4 108.5,431.18 109,430.96 109.5,430.73 110,430.5 110.5,430.28" fill="none" stroke="#ffcf00" stroke-width="0.8" stroke-linejoin="round" />
<polyline points="44.5,501.13 45,498.14 45.5,496.46 46,494.81 46.5,493.32 47,492.03 47.5,490.85 48,489.65 48.5,488.37 49,487.09 49.5,485.85 50,484.66 50.5,483.58 51,482.59 51.5,481.67 52,480.76 52.5,479.84 53,478.86 53.5,477.77 54,476.52 54.5,475.15 55,473.75 55.5,472.41 56,471.21 56.5,470.18 57,469.19 57.5,468.23 58,467.31 58.5,466.42 59,465.56 59.5,464.72 60,463.91 60.5,463.11 61,462.34 61.5,461.59 62,460.88 62.5,460.19 63,459.52 63.5,458.87 64,458.25 64.5,457.64 65,457.05 65.5,456.47 66,455.91 66.5,455.38 67,454.86 67.5,454.35 68,453.86 68.5,453.37 69,452.9 69.5,452.43 70,451.96 70.5,451.49 71,451.03 71.5,450.57 72,450.12 72.5,449.67 73,449.23 73.5,448.8 74,448.37 74.5,447.95 75,447.54 75.5,447.13 76,446.72 76.5,446.32 77,445.94 77.5,445.56 78,445.19 78.5,444.83 79,444.48 79.5,444.14 80,443.8 80.5,443.47 81,443.16 81.5,442.85 82,442.55 82.5,442.25 83,441.96 83.5,441.66 84,441.36 84.5,441.06 85,440.75 85.5,440.44 86,440.12 86.5,439.81 87,439.49 87.5,439.18 88,438.87 88.5,438.56 89,438.26 89.5,437.96 90,437.67 90.5,437.38 91,437.1 91.5,436.82 92,436.54 92.5,436.26 93,435.99 93.5,435.71 94,435.44 94.5,435.16 95,434.89 95.5,434.62 96,434.35 96.5,434.08 97,433.82 97.5,433.56 98,433.3 98.5,433.05 99,432.8 99.5,432.55 100,432.3 100.5,432.06 101,431.82 101.5,431.59 102,431.36 102.5,431.13 103,430.91 103.5,430.7 104,430.5 104.5,430.3 105,430.11 105.5,429.92 106,429.72 106.5,429.53 107,429.32 107.5,429.12 108,428.9 108.5,428.68 109,428.46 109.5,428.23 110,428 110.5,427.78" fill="none" stroke="#ffcf00" stroke-width="1.5" stroke-linejoin="round" />
<line x1="111.5" y1="425.4" x2="111.5" y2="437.5" stroke="#ffcf00" stroke-width="2.4" stroke-linecap="butt"/>
<polygon points="111.6,432.1 112.1,433.59 112.6,434.62 113.1,435.26 113.6,435.74 114.1,436.13 114.6,436.47 115.1,436.76 115.6,437.02 116.1,437.24 116.6,437.46 117.1,437.67 117.6,437.88 118.1,438.08 118.6,438.27 119.1,438.45 119.6,438.63 120.1,438.8 120.6,438.95 121.1,439.1 121.6,439.24 122.1,439.38 122.6,439.51 123.1,439.64 123.6,439.76 124.1,439.88 124.6,440 125.1,440.12 125.6,440.23 126.1,440.35 126.6,440.46 127.1,440.56 127.6,440.67 128.1,440.77 128.6,440.87 129.1,440.97 129.6,441.06 130.1,441.16 130.6,441.25 131.1,441.34 131.6,441.42 132.1,441.51 132.6,441.59 133.1,441.67 133.6,441.74 134.1,441.82 134.6,441.89 135.1,441.96 135.6,442.03 136.1,442.1 136.6,442.16 137.1,442.23 137.6,442.29 138.1,442.35 138.6,442.41 139.1,442.47 139.6,442.53 140.1,442.59 140.6,442.65 141.1,442.7 141.6,442.76 142.1,442.81 142.6,442.87 143.1,442.92 143.6,442.97 144.1,443.03 144.6,443.08 145.1,443.13 145.6,443.18 146.1,443.23 146.6,443.28 147.1,443.32 147.6,443.37 148.1,443.42 148.6,443.46 149.1,443.51 149.6,443.55 150.1,443.6 150.6,443.64 151.1,443.68 151.6,443.73 152.1,443.77 152.6,443.81 153.1,443.85 153.6,443.89 154.1,443.93 154.6,443.97 155.1,444.01 155.6,444.05 156.1,444.09 156.6,444.12 157.1,444.16 157.6,444.2 158.1,444.23 158.6,444.27 159.1,444.31 159.6,444.34 160.1,444.38 160.6,444.41 161.1,444.44 161.6,444.48 162.1,444.51 162.6,444.54 163.1,444.58 163.6,444.61 164.1,444.64 164.6,444.67 165.1,444.7 165.6,444.73 166.1,444.76 166.6,444.79 167.1,444.82 167.6,444.84 168.1,444.87 168.6,444.9 169.1,444.92 169.6,444.94 170.1,444.96 170.6,444.99 171.1,445.01 171.6,445.03 172.1,445.04 172.6,445.06 173.1,445.08 173.6,445.1 174.1,445.12 174.6,445.13 175.1,445.15 175.6,445.17 176.1,445.19 176.6,445.21 177.1,445.22 177.6,445.24 178.1,445.26 178.6,445.28 179.1,445.3 179.1,450.7 178.6,450.68 178.1,450.66 177.6,450.64 177.1,450.62 176.6,450.61 176.1,450.59 175.6,450.57 175.1,450.55 174.6,450.53 174.1,450.52 173.6,450.5 173.1,450.48 172.6,450.46 172.1,450.44 171.6,450.43 171.1,450.41 170.6,450.39 170.1,450.36 169.6,450.34 169.1,450.32 168.6,450.3 168.1,450.27 167.6,450.24 167.1,450.22 166.6,450.19 166.1,450.16 165.6,450.13 165.1,450.1 164.6,450.07 164.1,450.04 163.6,450.01 163.1,449.98 162.6,449.94 162.1,449.91 161.6,449.88 161.1,449.84 160.6,449.81 160.1,449.78 159.6,449.74 159.1,449.71 158.6,449.67 158.1,449.63 157.6,449.6 157.1,449.56 156.6,449.52 156.1,449.49 155.6,449.45 155.1,449.41 154.6,449.37 154.1,449.33 153.6,449.29 153.1,449.25 152.6,449.21 152.1,449.17 151.6,449.13 151.1,449.08 150.6,449.04 150.1,449 149.6,448.95 149.1,448.91 148.6,448.86 148.1,448.82 147.6,448.77 147.1,448.72 146.6,448.68 146.1,448.63 145.6,448.58 145.1,448.53 144.6,448.48 144.1,448.43 143.6,448.37 143.1,448.32 142.6,448.27 142.1,448.21 141.6,448.16 141.1,448.1 140.6,448.05 140.1,447.99 139.6,447.93 139.1,447.87 138.6,447.81 138.1,447.75 137.6,447.69 137.1,447.63 136.6,447.56 136.1,447.5 135.6,447.43 135.1,447.36 134.6,447.29 134.1,447.22 133.6,447.14 133.1,447.07 132.6,446.99 132.1,446.91 131.6,446.82 131.1,446.74 130.6,446.65 130.1,446.56 129.6,446.46 129.1,446.37 128.6,446.27 128.1,446.17 127.6,446.07 127.1,445.96 126.6,445.86 126.1,445.75 125.6,445.63 125.1,445.52 124.6,445.4 124.1,445.28 123.6,445.16 123.1,445.04 122.6,444.91 122.1,444.78 121.6,444.64 121.1,444.5 120.6,444.35 120.1,444.2 119.6,444.03 119.1,443.85 118.6,443.67 118.1,443.48 117.6,443.28 117.1,443.07 116.6,442.86 116.1,442.64 115.6,442.42 115.1,442.16 114.6,441.87 114.1,441.53 113.6,441.14 113.1,440.66 112.6,440.02 112.1,438.99 111.6,437.5" fill="#ffcf00" opacity="0.45"/>
<line x1="111.6" y1="432.1" x2="111.6" y2="437.5" stroke="#ffcf00" stroke-width="1.0" stroke-linecap="butt"/>
<line x1="113.6" y1="435.74" x2="113.6" y2="441.14" stroke="#ffcf00" stroke-width="1.0" stroke-linecap="butt"/>
<line x1="115.6" y1="437.02" x2="115.6" y2="442.42" stroke="#ffcf00" stroke-width="1.0" stroke-linecap="butt"/>
<line x1="117.6" y1="437.88" x2="117.6" y2="443.28" stroke="#ffcf00" stroke-width="1.0" stroke-linecap="butt"/>
<line x1="119.6" y1="438.63" x2="119.6" y2="444.03" stroke="#ffcf00" stroke-width="1.0" stroke-linecap="butt"/>
<line x1="121.6" y1="439.24" x2="121.6" y2="444.64" stroke="#ffcf00" stroke-width="1.0" stroke-linecap="butt"/>
<line x1="123.6" y1="439.76" x2="123.6" y2="445.16" stroke="#ffcf00" stroke-width="1.0" stroke-linecap="butt"/>
<line x1="125.6" y1="440.23" x2="125.6" y2="445.63" stroke="#ffcf00" stroke-width="1.0" stroke-linecap="butt"/>
<line x1="127.6" y1="440.67" x2="127.6" y2="446.07" stroke="#ffcf00" stroke-width="1.0" stroke-linecap="butt"/>
<line x1="129.6" y1="441.06" x2="129.6" y2="446.46" stroke="#ffcf00" stroke-width="1.0" stroke-linecap="butt"/>
<line x1="131.6" y1="441.42" x2="131.6" y2="446.82" stroke="#ffcf00" stroke-width="1.0" stroke-linecap="butt"/>
<line x1="133.6" y1="441.74" x2="133.6" y2="447.14" stroke="#ffcf00" stroke-width="1.0" stroke-linecap="butt"/>
<line x1="135.6" y1="442.03" x2="135.6" y2="447.43" stroke="#ffcf00" stroke-width="1.0" stroke-linecap="butt"/>
<line x1="137.6" y1="442.29" x2="137.6" y2="447.69" stroke="#ffcf00" stroke-width="1.0" stroke-linecap="butt"/>
<line x1="139.6" y1="442.53" x2="139.6" y2="447.93" stroke="#ffcf00" stroke-width="1.0" stroke-linecap="butt"/>
<line x1="141.6" y1="442.76" x2="141.6" y2="448.16" stroke="#ffcf00" stroke-width="1.0" stroke-linecap="butt"/>
<line x1="143.6" y1="442.97" x2="143.6" y2="448.37" stroke="#ffcf00" stroke-width="1.0" stroke-linecap="butt"/>
<line x1="145.6" y1="443.18" x2="145.6" y2="448.58" stroke="#ffcf00" stroke-width="1.0" stroke-linecap="butt"/>
<line x1="147.6" y1="443.37" x2="147.6" y2="448.77" stroke="#ffcf00" stroke-width="1.0" stroke-linecap="butt"/>
<line x1="149.6" y1="443.55" x2="149.6" y2="448.95" stroke="#ffcf00" stroke-width="1.0" stroke-linecap="butt"/>
<line x1="151.6" y1="443.73" x2="151.6" y2="449.13" stroke="#ffcf00" stroke-width="1.0" stroke-linecap="butt"/>
<line x1="153.6" y1="443.89" x2="153.6" y2="449.29" stroke="#ffcf00" stroke-width="1.0" stroke-linecap="butt"/>
<line x1="155.6" y1="444.05" x2="155.6" y2="449.45" stroke="#ffcf00" stroke-width="1.0" stroke-linecap="butt"/>
<line x1="157.6" y1="444.2" x2="157.6" y2="449.6" stroke="#ffcf00" stroke-width="1.0" stroke-linecap="butt"/>
<line x1="159.6" y1="444.34" x2="159.6" y2="449.74" stroke="#ffcf00" stroke-width="1.0" stroke-linecap="butt"/>
<line x1="161.6" y1="444.48" x2="161.6" y2="449.88" stroke="#ffcf00" stroke-width="1.0" stroke-linecap="butt"/>
<line x1="163.6" y1="444.61" x2="163.6" y2="450.01" stroke="#ffcf00" stroke-width="1.0" stroke-linecap="butt"/>
<line x1="165.6" y1="444.73" x2="165.6" y2="450.13" stroke="#ffcf00" stroke-width="1.0" stroke-linecap="butt"/>
<line x1="167.6" y1="444.84" x2="167.6" y2="450.24" stroke="#ffcf00" stroke-width="1.0" stroke-linecap="butt"/>
<line x1="169.6" y1="444.94" x2="169.6" y2="450.34" stroke="#ffcf00" stroke-width="1.0" stroke-linecap="butt"/>
<line x1="171.6" y1="445.03" x2="171.6" y2="450.43" stroke="#ffcf00" stroke-width="1.0" stroke-linecap="butt"/>
<line x1="173.6" y1="445.1" x2="173.6" y2="450.5" stroke="#ffcf00" stroke-width="1.0" stroke-linecap="butt"/>
<line x1="175.6" y1="445.17" x2="175.6" y2="450.57" stroke="#ffcf00" stroke-width="1.0" stroke-linecap="butt"/>
<line x1="177.6" y1="445.24" x2="177.6" y2="450.64" stroke="#ffcf00" stroke-width="1.0" stroke-linecap="butt"/>
<polyline points="111.6,432.1 112.1,433.59 112.6,434.62 113.1,435.26 113.6,435.74 114.1,436.13 114.6,436.47 115.1,436.76 115.6,437.02 116.1,437.24 116.6,437.46 117.1,437.67 117.6,437.88 118.1,438.08 118.6,438.27 119.1,438.45 119.6,438.63 120.1,438.8 120.6,438.95 121.1,439.1 121.6,439.24 122.1,439.38 122.6,439.51 123.1,439.64 123.6,439.76 124.1,439.88 124.6,440 125.1,440.12 125.6,440.23 126.1,440.35 126.6,440.46 127.1,440.56 127.6,440.67 128.1,440.77 128.6,440.87 129.1,440.97 129.6,441.06 130.1,441.16 130.6,441.25 131.1,441.34 131.6,441.42 132.1,441.51 132.6,441.59 133.1,441.67 133.6,441.74 134.1,441.82 134.6,441.89 135.1,441.96 135.6,442.03 136.1,442.1 136.6,442.16 137.1,442.23 137.6,442.29 138.1,442.35 138.6,442.41 139.1,442.47 139.6,442.53 140.1,442.59 140.6,442.65 141.1,442.7 141.6,442.76 142.1,442.81 142.6,442.87 143.1,442.92 143.6,442.97 144.1,443.03 144.6,443.08 145.1,443.13 145.6,443.18 146.1,443.23 146.6,443.28 147.1,443.32 147.6,443.37 148.1,443.42 148.6,443.46 149.1,443.51 149.6,443.55 150.1,443.6 150.6,443.64 151.1,443.68 151.6,443.73 152.1,443.77 152.6,443.81 153.1,443.85 153.6,443.89 154.1,443.93 154.6,443.97 155.1,444.01 155.6,444.05 156.1,444.09 156.6,444.12 157.1,444.16 157.6,444.2 158.1,444.23 158.6,444.27 159.1,444.31 159.6,444.34 160.1,444.38 160.6,444.41 161.1,444.44 161.6,444.48 162.1,444.51 162.6,444.54 163.1,444.58 163.6,444.61 164.1,444.64 164.6,444.67 165.1,444.7 165.6,444.73 166.1,444.76 166.6,444.79 167.1,444.82 167.6,444.84 168.1,444.87 168.6,444.9 169.1,444.92 169.6,444.94 170.1,444.96 170.6,444.99 171.1,445.01 171.6,445.03 172.1,445.04 172.6,445.06 173.1,445.08 173.6,445.1 174.1,445.12 174.6,445.13 175.1,445.15 175.6,445.17 176.1,445.19 176.6,445.21 177.1,445.22 177.6,445.24 178.1,445.26 178.6,445.28 179.1,445.3" fill="none" stroke="#ffcf00" stroke-width="0.8" stroke-linejoin="round" />
<polyline points="111.6,437.5 112.1,438.99 112.6,440.02 113.1,440.66 113.6,441.14 114.1,441.53 114.6,441.87 115.1,442.16 115.6,442.42 116.1,442.64 116.6,442.86 117.1,443.07 117.6,443.28 118.1,443.48 118.6,443.67 119.1,443.85 119.6,444.03 120.1,444.2 120.6,444.35 121.1,444.5 121.6,444.64 122.1,444.78 122.6,444.91 123.1,445.04 123.6,445.16 124.1,445.28 124.6,445.4 125.1,445.52 125.6,445.63 126.1,445.75 126.6,445.86 127.1,445.96 127.6,446.07 128.1,446.17 128.6,446.27 129.1,446.37 129.6,446.46 130.1,446.56 130.6,446.65 131.1,446.74 131.6,446.82 132.1,446.91 132.6,446.99 133.1,447.07 133.6,447.14 134.1,447.22 134.6,447.29 135.1,447.36 135.6,447.43 136.1,447.5 136.6,447.56 137.1,447.63 137.6,447.69 138.1,447.75 138.6,447.81 139.1,447.87 139.6,447.93 140.1,447.99 140.6,448.05 141.1,448.1 141.6,448.16 142.1,448.21 142.6,448.27 143.1,448.32 143.6,448.37 144.1,448.43 144.6,448.48 145.1,448.53 145.6,448.58 146.1,448.63 146.6,448.68 147.1,448.72 147.6,448.77 148.1,448.82 148.6,448.86 149.1,448.91 149.6,448.95 150.1,449 150.6,449.04 151.1,449.08 151.6,449.13 152.1,449.17 152.6,449.21 153.1,449.25 153.6,449.29 154.1,449.33 154.6,449.37 155.1,449.41 155.6,449.45 156.1,449.49 156.6,449.52 157.1,449.56 157.6,449.6 158.1,449.63 158.6,449.67 159.1,449.71 159.6,449.74 160.1,449.78 160.6,449.81 161.1,449.84 161.6,449.88 162.1,449.91 162.6,449.94 163.1,449.98 163.6,450.01 164.1,450.04 164.6,450.07 165.1,450.1 165.6,450.13 166.1,450.16 166.6,450.19 167.1,450.22 167.6,450.24 168.1,450.27 168.6,450.3 169.1,450.32 169.6,450.34 170.1,450.36 170.6,450.39 171.1,450.41 171.6,450.43 172.1,450.44 172.6,450.46 173.1,450.48 173.6,450.5 174.1,450.52 174.6,450.53 175.1,450.55 175.6,450.57 176.1,450.59 176.6,450.61 177.1,450.62 177.6,450.64 178.1,450.66 178.6,450.68 179.1,450.7" fill="none" stroke="#ffcf00" stroke-width="0.8" stroke-linejoin="round" />
<polyline points="111.6,434.8 112.1,436.29 112.6,437.32 113.1,437.96 113.6,438.44 114.1,438.83 114.6,439.17 115.1,439.46 115.6,439.72 116.1,439.94 116.6,440.16 117.1,440.37 117.6,440.58 118.1,440.78 118.6,440.97 119.1,441.15 119.6,441.33 120.1,441.5 120.6,441.65 121.1,441.8 121.6,441.94 122.1,442.08 122.6,442.21 123.1,442.34 123.6,442.46 124.1,442.58 124.6,442.7 125.1,442.82 125.6,442.93 126.1,443.05 126.6,443.16 127.1,443.26 127.6,443.37 128.1,443.47 128.6,443.57 129.1,443.67 129.6,443.76 130.1,443.86 130.6,443.95 131.1,444.04 131.6,444.12 132.1,444.21 132.6,444.29 133.1,444.37 133.6,444.44 134.1,444.52 134.6,444.59 135.1,444.66 135.6,444.73 136.1,444.8 136.6,444.86 137.1,444.93 137.6,444.99 138.1,445.05 138.6,445.11 139.1,445.17 139.6,445.23 140.1,445.29 140.6,445.35 141.1,445.4 141.6,445.46 142.1,445.51 142.6,445.57 143.1,445.62 143.6,445.67 144.1,445.73 144.6,445.78 145.1,445.83 145.6,445.88 146.1,445.93 146.6,445.98 147.1,446.02 147.6,446.07 148.1,446.12 148.6,446.16 149.1,446.21 149.6,446.25 150.1,446.3 150.6,446.34 151.1,446.38 151.6,446.43 152.1,446.47 152.6,446.51 153.1,446.55 153.6,446.59 154.1,446.63 154.6,446.67 155.1,446.71 155.6,446.75 156.1,446.79 156.6,446.82 157.1,446.86 157.6,446.9 158.1,446.93 158.6,446.97 159.1,447.01 159.6,447.04 160.1,447.08 160.6,447.11 161.1,447.14 161.6,447.18 162.1,447.21 162.6,447.24 163.1,447.28 163.6,447.31 164.1,447.34 164.6,447.37 165.1,447.4 165.6,447.43 166.1,447.46 166.6,447.49 167.1,447.52 167.6,447.54 168.1,447.57 168.6,447.6 169.1,447.62 169.6,447.64 170.1,447.66 170.6,447.69 171.1,447.71 171.6,447.73 172.1,447.74 172.6,447.76 173.1,447.78 173.6,447.8 174.1,447.82 174.6,447.83 175.1,447.85 175.6,447.87 176.1,447.89 176.6,447.91 177.1,447.92 177.6,447.94 178.1,447.96 178.6,447.98 179.1,448" fill="none" stroke="#ffcf00" stroke-width="1.5" stroke-linejoin="round" />
<path d="M43.9,515.6 C43.97,515.28 43.98,514.65 44.3,513.7 C44.62,512.75 45.17,511.17 45.8,509.9 C46.43,508.63 47.22,507.25 48.1,506.1 C48.98,504.95 49.83,503.95 51.1,503 C52.37,502.05 54.05,501.22 55.7,500.4 C57.35,499.58 59.12,498.8 61,498.1 C62.88,497.4 64.85,496.83 67,496.2 C69.15,495.57 71.4,494.93 73.9,494.3 C76.4,493.67 79.25,492.97 82,492.4 C84.75,491.83 87.4,491.4 90.4,490.9 C93.4,490.4 96.58,489.95 100,489.4 C103.42,488.85 109.08,487.9 110.9,487.6" fill="none" stroke="#85c2f7" stroke-width="1.9"/>
<path d="M111.1,486.6 L111.3,489" stroke="#85c2f7" stroke-width="1.6"/>
<path d="M111.2,487.8 C111.33,488.15 111.37,489.33 112,489.9 C112.63,490.47 113.6,490.82 115,491.2 C116.4,491.58 118.23,491.88 120.4,492.2 C122.57,492.52 125.42,492.83 128,493.1 C130.58,493.37 132.02,493.57 135.9,493.8 C139.78,494.03 146.15,494.27 151.3,494.5 C156.45,494.73 162.17,495.02 166.8,495.2 C171.43,495.38 177.05,495.53 179.1,495.6" fill="none" stroke="#85c2f7" stroke-width="1.9"/>
<circle cx="150.6" cy="494.47" r="1.15" fill="#85c2f7"/>
<circle cx="153.45" cy="494.6" r="1.15" fill="#85c2f7"/>
<circle cx="156.3" cy="494.73" r="1.15" fill="#85c2f7"/>
<circle cx="159.15" cy="494.87" r="1.15" fill="#85c2f7"/>
<circle cx="162" cy="495" r="1.15" fill="#85c2f7"/>
<circle cx="164.85" cy="495.12" r="1.15" fill="#85c2f7"/>
<circle cx="167.7" cy="495.23" r="1.15" fill="#85c2f7"/>
<circle cx="170.55" cy="495.33" r="1.15" fill="#85c2f7"/>
<circle cx="173.4" cy="495.42" r="1.15" fill="#85c2f7"/>
<circle cx="176.25" cy="495.51" r="1.15" fill="#85c2f7"/>
<circle cx="179.1" cy="495.6" r="1.15" fill="#85c2f7"/>
<circle cx="88" cy="491.3" r="1.1" fill="#85c2f7"/>
<circle cx="90.2" cy="490.93" r="1.1" fill="#85c2f7"/>
<circle cx="92.4" cy="490.58" r="1.1" fill="#85c2f7"/>
<circle cx="94.6" cy="490.23" r="1.1" fill="#85c2f7"/>
<circle cx="96.8" cy="489.9" r="1.1" fill="#85c2f7"/>
<circle cx="99" cy="489.56" r="1.1" fill="#85c2f7"/>
<circle cx="101.2" cy="489.21" r="1.1" fill="#85c2f7"/>
<circle cx="103.4" cy="488.85" r="1.1" fill="#85c2f7"/>
<circle cx="105.6" cy="488.48" r="1.1" fill="#85c2f7"/>
<circle cx="107.8" cy="488.11" r="1.1" fill="#85c2f7"/>
<circle cx="110" cy="487.75" r="1.1" fill="#85c2f7"/>
<rect x="43.9" y="403.3" width="167.7" height="112.3" fill="none" stroke="#111" stroke-width="1.8"/>
<line x1="39.1" y1="403.3" x2="43.9" y2="403.3" stroke="#111" stroke-width="1.5" stroke-linecap="butt"/>
<text x="38.9" y="406.4" font-size="9.4" text-anchor="end" font-weight="bold" fill="#000" >0.008</text>
<line x1="39.1" y1="431.4" x2="43.9" y2="431.4" stroke="#111" stroke-width="1.5" stroke-linecap="butt"/>
<text x="38.9" y="434.5" font-size="9.4" text-anchor="end" font-weight="bold" fill="#000" >0.006</text>
<line x1="39.1" y1="459.5" x2="43.9" y2="459.5" stroke="#111" stroke-width="1.5" stroke-linecap="butt"/>
<text x="38.9" y="462.6" font-size="9.4" text-anchor="end" font-weight="bold" fill="#000" >0.004</text>
<line x1="39.1" y1="487.5" x2="43.9" y2="487.5" stroke="#111" stroke-width="1.5" stroke-linecap="butt"/>
<text x="38.9" y="490.6" font-size="9.4" text-anchor="end" font-weight="bold" fill="#000" >0.002</text>
<line x1="39.1" y1="515.6" x2="43.9" y2="515.6" stroke="#111" stroke-width="1.5" stroke-linecap="butt"/>
<text x="38.9" y="518.7" font-size="9.4" text-anchor="end" font-weight="bold" fill="#000" >0.000</text>
<line x1="43.9" y1="515.6" x2="43.9" y2="520.6" stroke="#111" stroke-width="1.5" stroke-linecap="butt"/>
<text x="43.9" y="530.6" font-size="9.4" text-anchor="middle" font-weight="bold" fill="#000" >0</text>
<line x1="77.4" y1="515.6" x2="77.4" y2="520.6" stroke="#111" stroke-width="1.5" stroke-linecap="butt"/>
<text x="77.4" y="530.6" font-size="9.4" text-anchor="middle" font-weight="bold" fill="#000" >100</text>
<line x1="111" y1="515.6" x2="111" y2="520.6" stroke="#111" stroke-width="1.5" stroke-linecap="butt"/>
<text x="111" y="530.6" font-size="9.4" text-anchor="middle" font-weight="bold" fill="#000" >200</text>
<line x1="144.5" y1="515.6" x2="144.5" y2="520.6" stroke="#111" stroke-width="1.5" stroke-linecap="butt"/>
<text x="144.5" y="530.6" font-size="9.4" text-anchor="middle" font-weight="bold" fill="#000" >300</text>
<line x1="178.1" y1="515.6" x2="178.1" y2="520.6" stroke="#111" stroke-width="1.5" stroke-linecap="butt"/>
<text x="178.1" y="530.6" font-size="9.4" text-anchor="middle" font-weight="bold" fill="#000" >400</text>
<line x1="211.6" y1="515.6" x2="211.6" y2="520.6" stroke="#111" stroke-width="1.5" stroke-linecap="butt"/>
<text x="211.6" y="530.6" font-size="9.4" text-anchor="middle" font-weight="bold" fill="#000" >500</text>
<g transform="translate(120.1,544)"><text x="0" y="0" font-size="9.5" font-weight="bold">t</text><text x="5.3" y="0" font-size="9.5" font-weight="bold" letter-spacing="0.45">(s)</text></g>
<text transform="translate(10.8,458.2) rotate(-90)" font-size="9.5" text-anchor="middle" font-weight="bold" letter-spacing="0.25">J (1/Pa)</text>
<line x1="237" y1="411" x2="249.3" y2="411" stroke="#85c2f7" stroke-width="1.0" stroke-linecap="butt"/>
<circle cx="243.15" cy="411" r="1.4" fill="#85c2f7"/>
<text x="256.1" y="414" font-size="9.0" text-anchor="start" font-weight="normal" fill="#2a2a2a" >F1</text>
<line x1="237" y1="426.15" x2="249.3" y2="426.15" stroke="#c6c5f7" stroke-width="1.0" stroke-linecap="butt"/>
<circle cx="243.15" cy="426.15" r="1.4" fill="#c6c5f7"/>
<text x="256.1" y="429.15" font-size="9.0" text-anchor="start" font-weight="normal" fill="#2a2a2a" >F2</text>
<line x1="237" y1="441.3" x2="249.3" y2="441.3" stroke="#ffcf00" stroke-width="1.0" stroke-linecap="butt"/>
<circle cx="243.15" cy="441.3" r="1.4" fill="#ffcf00"/>
<text x="256.1" y="444.3" font-size="9.0" text-anchor="start" font-weight="normal" fill="#2a2a2a" >F3</text>
</svg></body></html>
